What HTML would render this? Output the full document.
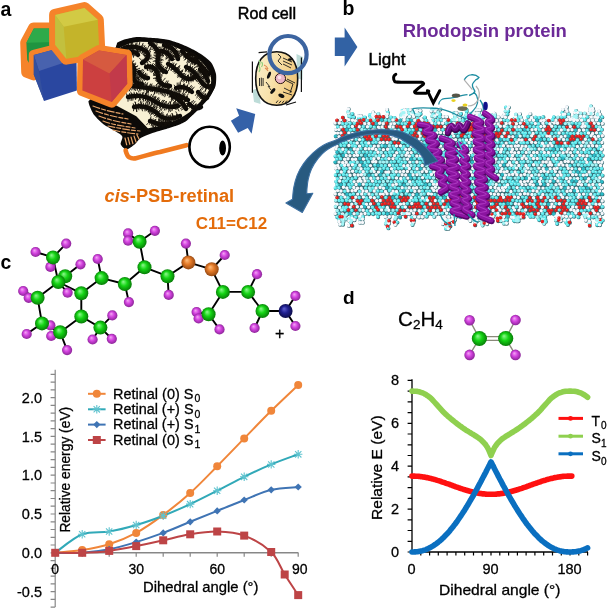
<!DOCTYPE html>
<html><head><meta charset="utf-8"><title>Retinal figure</title>
<style>html,body{margin:0;padding:0;background:#fff;width:609px;height:609px;overflow:hidden}svg{display:block} text{stroke:#000;stroke-width:.28px} text[fill],text.nb{stroke:none} text.hv{stroke-width:.5px}</style>
</head><body>
<svg width="609" height="609" viewBox="0 0 609 609" font-family="'Liberation Sans', Arial, sans-serif">
<defs><radialGradient id="gC" cx="0.5" cy="0.5" r="0.55" fx="0.38" fy="0.33"><stop offset="0" stop-color="#90f890"/><stop offset="0.45" stop-color="#14d414"/><stop offset="1" stop-color="#067006"/></radialGradient><radialGradient id="gH" cx="0.5" cy="0.5" r="0.55" fx="0.38" fy="0.33"><stop offset="0" stop-color="#f4a8f4"/><stop offset="0.45" stop-color="#d444e0"/><stop offset="1" stop-color="#82208e"/></radialGradient><radialGradient id="gO" cx="0.5" cy="0.5" r="0.55" fx="0.38" fy="0.33"><stop offset="0" stop-color="#ffc080"/><stop offset="0.45" stop-color="#e47a28"/><stop offset="1" stop-color="#8a4210"/></radialGradient><radialGradient id="gN" cx="0.5" cy="0.5" r="0.55" fx="0.38" fy="0.33"><stop offset="0" stop-color="#6060d0"/><stop offset="0.45" stop-color="#202090"/><stop offset="1" stop-color="#0a0a40"/></radialGradient></defs>
<rect width="609" height="609" fill="#fff"/>
<g id="brain"><path d="M117.2 42.6 C118.2 42.2 122.7 39.9 125.2 39.2 C127.7 38.5 134.4 37.0 137.9 36.9 C141.4 36.8 150.4 37.7 154.0 38.0 C157.6 38.3 164.5 39.1 167.8 39.8 C171.1 40.5 178.6 43.0 181.6 44.2 C184.6 45.4 190.4 48.1 193.0 49.5 C195.6 50.9 200.8 53.9 203.0 55.5 C205.2 57.1 209.9 60.8 211.5 63.0 C213.1 65.2 215.5 71.2 216.0 74.0 C216.5 76.8 216.2 83.5 215.5 86.0 C214.8 88.5 212.2 92.8 210.5 95.0 C208.8 97.2 203.9 101.8 201.7 104.2 C199.5 106.6 194.4 112.6 192.5 114.7 C190.6 116.8 187.9 120.0 186.0 121.3 C184.1 122.6 179.2 124.7 176.8 125.6 C174.4 126.5 168.7 128.3 166.3 129.0 C163.9 129.7 159.3 130.9 157.1 131.6 C154.9 132.3 150.0 134.0 147.9 134.8 C145.8 135.6 141.6 137.4 140.0 138.6 C138.4 139.8 136.2 143.3 134.6 144.6 C133.0 145.9 128.1 149.6 126.4 149.6 C124.7 149.6 121.2 145.8 120.7 144.2 C120.2 142.6 123.0 138.0 122.3 136.4 C121.6 134.8 117.2 132.6 114.9 131.1 C112.6 129.6 105.9 126.2 103.4 124.3 C100.9 122.4 95.9 117.3 94.2 115.1 C92.5 112.9 90.3 107.6 89.6 105.9 C88.9 104.2 88.5 101.9 88.4 101.3 L95 95 L110 70 Z" fill="#0c0a08"/>
<path d="M119 45.5 C126 42 132 40 138 39.8 C146 39.5 154 40.5 161 41.3 C168 42.5 175 44.5 180.5 47 C187 49.5 195 53 200.5 58 C205.5 62 210 68 212.8 75 C213.6 79 213.4 83 212.6 87 C210.5 92 209 95 207.6 96.5 C204.5 100.5 202.5 102.5 199 106 C196 109 193 112 190 114.5 C186.5 117 183.5 119 180 120.5 C176.5 122 173.5 123.5 168 125.5 C164 126.8 161 127.8 157 128.6 C153 129.6 150 130 147 130.5 L135 118 L112.7 106 L95 101 L100 80 Z" fill="#f8f0d4" stroke="#0c0a08" stroke-width="4.2"/>
<path d="M122 49 C130 45 140 47 146 51 C150 55 148 60 142 63 M150 43 C156 47 160 52 158 58 C156 64 160 70 166 72 M164 45 C172 47 177 52 178 59 M182 51 C186 56 190 60 196 62 M195 59 C200 64 204 70 209 74 M126 61 C132 63 136 68 134 74 C132 80 136 84 142 84 M146 67 C152 65 158 70 158 76 C158 82 162 86 170 86 M168 64 C174 66 178 72 182 76 C186 80 192 80 196 76 M186 67 C192 69 196 74 200 80 C204 86 208 88 211 86 M122 85 C136 86 150 88 160 90 C172 92 180 96 188 100 M198 92 C202 96 204 100 207 98 M128 97 C140 94 150 98 156 102 C162 106 170 108 178 106 M134 107 C146 104 154 110 160 116 C166 120 172 120 180 116 M189 104 C194 108 196 110 201 107 M176 88 C182 86 188 88 192 92 M139 72 C141 76 144 78 148 78 M200 69 C204 72 206 76 208 81 M120 70 C124 72 126 76 124 81 M172 96 C178 98 184 104 186 109 M150 121 C156 124 164 125 170 123 M160 51 C166 51 170 55 172 59 M186 56 C190 52 196 54 198 57 M128 53 C132 51 136 52 138 55" stroke="#0c0a08" stroke-width="4.4" fill="none" stroke-linecap="round"/>
<clipPath id="creamclip"><path d="M119 45.5 C126 42 132 40 138 39.8 C146 39.5 154 40.5 161 41.3 C168 42.5 175 44.5 180.5 47 C187 49.5 195 53 200.5 58 C205.5 62 210 68 212.8 75 C213.6 79 213.4 83 212.6 87 C210.5 92 209 95 207.6 96.5 C204.5 100.5 202.5 102.5 199 106 C196 109 193 112 190 114.5 C186.5 117 183.5 119 180 120.5 C176.5 122 173.5 123.5 168 125.5 C164 126.8 161 127.8 157 128.6 C153 129.6 150 130 147 130.5 L135 118 L112.7 106 L95 101 L100 80 Z"/></clipPath>
<path clip-path="url(#creamclip)" d="M122.0 49.0l1.5 2.9 M122.0 49.0l-2.2 -4.3 M123.2 48.4l1.5 2.4 M123.2 48.4l-2.3 -2.8 M124.5 48.0l1.4 4.3 M124.5 48.0l-1.2 -2.4 M125.7 47.6l1.7 3.6 M125.7 47.6l-1.2 -2.4 M127.0 47.3l-0.5 3.0 M127.0 47.3l-1.4 -3.4 M128.3 47.1l2.1 4.4 M128.3 47.1l-0.5 -4.4 M129.6 46.9l-1.1 5.0 M129.6 46.9l-1.4 -3.0 M130.9 46.8l-0.5 4.2 M130.9 46.8l0.3 -3.5 M132.2 46.8l1.2 4.0 M132.2 46.8l-1.3 -5.0 M133.5 46.9l-1.4 4.4 M133.5 46.9l-1.3 -5.1 M134.8 47.0l-1.5 4.5 M134.8 47.0l1.2 -3.8 M136.0 47.2l1.1 4.5 M136.0 47.2l1.1 -4.4 M137.3 47.4l0.0 3.4 M137.3 47.4l0.3 -2.3 M138.5 47.7l-1.7 4.6 M138.5 47.7l1.3 -5.5 M139.7 48.0l-2.0 3.2 M139.7 48.0l1.3 -2.3 M140.8 48.4l-2.5 3.4 M140.8 48.4l2.3 -5.1 M142.0 48.9l-2.3 4.5 M142.0 48.9l1.1 -3.7 M143.1 49.3l-1.3 4.2 M143.1 49.3l1.8 -3.7 M144.1 49.9l-1.9 3.3 M144.1 49.9l1.7 -2.7 M145.1 50.4l-1.6 2.4 M145.1 50.4l1.7 -2.8 M146.0 51.0l-3.0 3.4 M146.0 51.0l2.0 -2.9 M146.9 52.0l-2.5 1.7 M146.9 52.0l4.7 -2.9 M147.5 53.1l-3.9 1.4 M147.5 53.1l3.1 -1.7 M147.9 54.1l-3.2 1.5 M147.9 54.1l2.4 -1.1 M148.1 55.2l-3.3 1.0 M148.1 55.2l3.1 0.0 M148.0 56.3l-4.1 -1.3 M148.0 56.3l3.4 0.7 M147.8 57.4l-4.1 -2.2 M147.8 57.4l4.4 1.6 M147.3 58.4l-2.2 -1.4 M147.3 58.4l2.9 0.7 M146.6 59.4l-2.0 -1.2 M146.6 59.4l3.9 3.0 M145.7 60.4l-1.6 -1.5 M145.7 60.4l1.9 2.4 M144.7 61.3l-2.0 -2.1 M144.7 61.3l0.9 1.6 M143.4 62.2l-4.2 -4.3 M143.4 62.2l4.1 4.9 M150.0 43.0l-1.5 4.1 M150.0 43.0l2.7 -2.9 M151.2 43.8l-2.6 2.6 M151.2 43.8l1.2 -1.9 M152.3 44.7l-2.5 4.9 M152.3 44.7l1.8 -4.0 M153.3 45.5l-1.2 1.4 M153.3 45.5l1.8 -2.5 M154.3 46.4l-1.6 2.8 M154.3 46.4l2.8 -3.1 M155.2 47.3l-2.2 2.2 M155.2 47.3l2.1 -2.5 M156.0 48.3l-1.9 2.5 M156.0 48.3l2.9 -1.4 M156.7 49.3l-2.8 1.0 M156.7 49.3l3.0 -1.8 M157.3 50.3l-3.2 2.4 M157.3 50.3l2.5 -0.5 M157.8 51.3l-2.9 2.0 M157.8 51.3l5.0 -1.8 M158.1 52.3l-3.3 0.5 M158.1 52.3l4.0 -0.7 M158.4 53.4l-3.0 -0.4 M158.4 53.4l3.8 -0.3 M158.5 54.5l-2.7 -0.2 M158.5 54.5l4.0 0.2 M158.5 55.7l-4.7 -0.6 M158.5 55.7l3.4 -0.3 M158.3 56.8l-3.6 -0.8 M158.3 56.8l3.0 0.2 M158.0 58.0l-2.4 -1.0 M158.0 58.0l5.2 2.0 M157.7 59.3l-5.0 -1.9 M157.7 59.3l3.4 -0.2 M157.5 60.6l-4.3 0.7 M157.5 60.6l4.3 0.0 M157.5 61.8l-2.7 -0.9 M157.5 61.8l2.8 0.8 M157.7 63.0l-2.8 1.3 M157.7 63.0l3.1 -1.3 M158.0 64.2l-2.4 1.2 M158.0 64.2l4.0 -1.7 M158.4 65.4l-4.9 2.8 M158.4 65.4l3.2 -0.5 M159.0 66.5l-3.1 1.0 M159.0 66.5l2.7 -2.4 M159.7 67.5l-2.9 1.4 M159.7 67.5l2.8 -2.2 M160.5 68.5l-2.7 2.0 M160.5 68.5l3.4 -2.4 M161.4 69.4l-3.6 4.5 M161.4 69.4l1.5 -2.5 M162.5 70.2l-2.4 3.5 M162.5 70.2l1.3 -2.7 M163.6 70.9l-0.9 2.8 M163.6 70.9l2.1 -3.7 M164.7 71.5l-1.7 2.4 M164.7 71.5l2.2 -3.3 M164.0 45.0l0.5 4.0 M164.0 45.0l1.4 -4.5 M165.4 45.4l-1.9 3.6 M165.4 45.4l0.8 -2.3 M166.7 45.8l-1.3 2.6 M166.7 45.8l2.8 -4.9 M167.9 46.3l-1.2 3.4 M167.9 46.3l0.8 -4.4 M169.1 46.9l-1.1 3.8 M169.1 46.9l1.0 -3.7 M170.3 47.5l-2.6 2.8 M170.3 47.5l1.7 -4.6 M171.3 48.2l-3.5 3.3 M171.3 48.2l2.4 -2.9 M172.3 48.9l-1.8 3.2 M172.3 48.9l3.6 -3.6 M173.2 49.7l-4.1 2.3 M173.2 49.7l3.8 -3.1 M174.0 50.6l-2.6 1.6 M174.0 50.6l2.6 -2.2 M174.8 51.4l-2.2 2.7 M174.8 51.4l2.7 -1.3 M175.5 52.4l-2.4 1.0 M175.5 52.4l3.1 -1.4 M176.1 53.4l-4.6 3.4 M176.1 53.4l4.3 -2.8 M176.6 54.4l-3.4 1.1 M176.6 54.4l3.4 -2.5 M177.1 55.5l-4.1 1.4 M177.1 55.5l3.0 -1.7 M177.5 56.6l-4.1 1.6 M177.5 56.6l4.3 -2.4 M177.8 57.8l-4.4 2.3 M177.8 57.8l2.8 -1.1 M182.0 51.0l-3.1 2.9 M182.0 51.0l3.2 -1.6 M182.8 52.0l-1.7 2.1 M182.8 52.0l2.5 -2.2 M183.6 52.9l-2.6 2.8 M183.6 52.9l1.9 -1.3 M184.4 53.9l-3.7 2.6 M184.4 53.9l2.6 -2.9 M185.2 54.8l-1.8 1.6 M185.2 54.8l3.0 -1.5 M186.1 55.6l-2.7 2.4 M186.1 55.6l2.2 -2.5 M186.9 56.5l-2.5 3.7 M186.9 56.5l2.1 -1.6 M187.8 57.2l-2.4 2.3 M187.8 57.2l1.5 -1.6 M188.7 58.0l-1.8 4.7 M188.7 58.0l2.1 -2.9 M189.6 58.7l-1.2 3.7 M189.6 58.7l1.2 -2.6 M190.6 59.4l-1.6 2.5 M190.6 59.4l2.0 -3.8 M191.6 60.0l-2.1 2.8 M191.6 60.0l3.2 -3.3 M192.6 60.6l-2.1 3.8 M192.6 60.6l0.9 -3.8 M193.7 61.1l-1.5 3.5 M193.7 61.1l2.1 -2.6 M194.8 61.6l-0.2 3.4 M194.8 61.6l1.1 -4.0 M195.0 59.0l-3.1 4.6 M195.0 59.0l2.5 -2.7 M195.9 59.9l-2.3 4.2 M195.9 59.9l2.1 -2.5 M196.7 60.8l-2.7 1.2 M196.7 60.8l2.7 -2.0 M197.6 61.7l-3.2 2.7 M197.6 61.7l3.6 -2.7 M198.4 62.7l-3.6 2.1 M198.4 62.7l3.1 -2.8 M199.2 63.6l-2.6 2.4 M199.2 63.6l3.1 -1.4 M200.0 64.5l-4.3 2.9 M200.0 64.5l2.7 -1.3 M200.8 65.5l-3.3 1.3 M200.8 65.5l2.5 -1.7 M201.6 66.4l-2.6 1.6 M201.6 66.4l2.3 -1.3 M202.4 67.3l-2.9 1.3 M202.4 67.3l4.6 -2.1 M203.2 68.3l-3.5 2.7 M203.2 68.3l3.2 -1.3 M204.0 69.1l-3.8 3.7 M204.0 69.1l1.9 -2.0 M204.8 70.0l-2.7 2.7 M204.8 70.0l3.4 -1.8 M205.6 70.9l-2.0 3.2 M205.6 70.9l2.4 -1.1 M206.4 71.7l-2.8 1.3 M206.4 71.7l2.0 -2.3 M207.3 72.5l-3.5 4.6 M207.3 72.5l2.1 -2.4 M208.1 73.3l-1.9 3.2 M208.1 73.3l2.1 -2.5 M126.0 61.0l-1.1 2.5 M126.0 61.0l-0.0 -3.7 M127.3 61.5l-1.0 4.6 M127.3 61.5l0.3 -3.5 M128.4 62.0l-2.3 3.5 M128.4 62.0l2.4 -2.9 M129.5 62.7l-2.1 4.1 M129.5 62.7l1.9 -2.4 M130.6 63.4l-4.0 3.4 M130.6 63.4l2.3 -2.7 M131.5 64.2l-1.5 2.5 M131.5 64.2l2.3 -3.4 M132.3 65.1l-3.2 2.7 M132.3 65.1l3.4 -2.0 M133.0 66.0l-5.1 3.0 M133.0 66.0l2.8 -1.8 M133.6 67.0l-3.2 0.6 M133.6 67.0l3.6 -0.4 M134.0 68.0l-2.5 0.4 M134.0 68.0l3.8 -2.2 M134.3 69.1l-3.8 1.0 M134.3 69.1l3.0 0.4 M134.5 70.3l-4.8 -1.5 M134.5 70.3l5.2 -2.0 M134.5 71.5l-2.6 -0.8 M134.5 71.5l4.7 -0.2 M134.3 72.7l-4.7 -1.4 M134.3 72.7l4.0 2.0 M134.0 74.0l-4.6 -0.4 M134.0 74.0l2.9 1.0 M133.6 75.5l-4.1 -1.3 M133.6 75.5l3.5 0.5 M133.5 76.8l-4.5 0.4 M133.5 76.8l4.1 0.6 M133.6 78.1l-5.2 0.5 M133.6 78.1l2.7 0.3 M133.9 79.3l-4.4 3.1 M133.9 79.3l4.7 -3.4 M134.3 80.3l-3.5 3.2 M134.3 80.3l3.4 -2.4 M135.0 81.2l-3.7 4.4 M135.0 81.2l4.3 -4.6 M135.8 82.1l-2.6 2.6 M135.8 82.1l2.0 -2.7 M136.8 82.7l-0.8 1.9 M136.8 82.7l2.2 -3.5 M137.9 83.3l-2.4 3.7 M137.9 83.3l1.4 -2.6 M139.2 83.7l-0.1 2.9 M139.2 83.7l-0.7 -5.4 M140.5 83.9l-1.3 3.4 M140.5 83.9l0.3 -3.7 M146.0 67.0l2.0 3.4 M146.0 67.0l-2.3 -3.2 M147.3 66.7l-0.1 3.1 M147.3 66.7l0.3 -2.4 M148.6 66.6l-1.0 3.9 M148.6 66.6l-0.7 -3.0 M149.8 66.6l0.5 5.3 M149.8 66.6l0.9 -2.4 M151.0 66.9l-1.4 3.1 M151.0 66.9l2.3 -3.6 M152.2 67.3l-0.5 2.8 M152.2 67.3l2.3 -2.8 M153.2 67.8l-1.6 4.3 M153.2 67.8l3.2 -3.3 M154.2 68.5l-2.0 3.6 M154.2 68.5l2.7 -3.2 M155.2 69.3l-2.8 2.3 M155.2 69.3l2.3 -3.4 M156.0 70.2l-2.5 3.5 M156.0 70.2l3.4 -2.6 M156.7 71.2l-2.8 1.8 M156.7 71.2l4.4 -2.3 M157.2 72.3l-3.2 2.1 M157.2 72.3l2.8 -0.5 M157.7 73.5l-3.1 0.7 M157.7 73.5l4.3 -2.9 M157.9 74.7l-4.3 0.8 M157.9 74.7l3.9 0.1 M158.0 76.0l-4.4 -1.4 M158.0 76.0l4.3 -0.1 M158.1 77.3l-4.7 1.1 M158.1 77.3l2.8 0.5 M158.2 78.4l-3.2 0.2 M158.2 78.4l2.9 -1.8 M158.6 79.6l-3.2 0.5 M158.6 79.6l2.8 -1.9 M159.0 80.6l-2.6 0.6 M159.0 80.6l2.3 -1.6 M159.5 81.6l-3.7 3.6 M159.5 81.6l2.2 -2.1 M160.2 82.5l-2.3 1.7 M160.2 82.5l2.3 -1.2 M161.0 83.2l-1.2 1.7 M161.0 83.2l4.2 -5.0 M161.9 84.0l-2.0 2.9 M161.9 84.0l1.0 -1.8 M163.0 84.6l-0.6 3.0 M163.0 84.6l0.3 -2.3 M164.1 85.1l-2.2 3.1 M164.1 85.1l2.6 -4.3 M165.4 85.5l-1.5 2.6 M165.4 85.5l2.9 -4.5 M166.8 85.8l1.2 5.3 M166.8 85.8l0.8 -3.2 M168.3 85.9l0.3 3.7 M168.3 85.9l0.5 -2.5 M168.0 64.0l-1.2 4.3 M168.0 64.0l1.4 -3.7 M169.2 64.5l-2.9 4.5 M169.2 64.5l0.7 -4.1 M170.3 65.0l-1.2 3.8 M170.3 65.0l2.1 -2.2 M171.4 65.6l-3.1 5.2 M171.4 65.6l2.4 -2.7 M172.4 66.3l-1.3 4.1 M172.4 66.3l1.6 -2.4 M173.4 67.1l-2.6 2.3 M173.4 67.1l3.0 -3.2 M174.4 67.9l-2.7 2.3 M174.4 67.9l1.6 -4.0 M175.3 68.8l-2.4 2.9 M175.3 68.8l4.3 -2.6 M176.2 69.7l-2.2 2.3 M176.2 69.7l3.5 -4.1 M177.1 70.6l-2.7 2.6 M177.1 70.6l2.3 -3.4 M177.9 71.6l-2.5 1.5 M177.9 71.6l2.0 -3.0 M178.8 72.5l-1.4 1.5 M178.8 72.5l4.2 -2.6 M179.6 73.4l-2.1 2.5 M179.6 73.4l3.1 -2.8 M180.4 74.3l-2.4 2.0 M180.4 74.3l2.3 -3.1 M181.2 75.2l-3.7 2.1 M181.2 75.2l2.3 -1.6 M182.0 76.0l-2.1 1.5 M182.0 76.0l1.7 -2.3 M183.0 76.9l-1.8 3.7 M183.0 76.9l1.7 -3.6 M184.0 77.6l-3.4 4.4 M184.0 77.6l1.9 -3.5 M185.0 78.1l-2.1 3.3 M185.0 78.1l2.9 -3.1 M186.1 78.6l-2.3 3.5 M186.1 78.6l1.4 -2.7 M187.3 78.8l-0.9 3.8 M187.3 78.8l1.0 -3.9 M188.4 79.0l0.5 5.0 M188.4 79.0l-0.5 -3.7 M189.6 79.0l-0.9 2.6 M189.6 79.0l-1.3 -3.5 M190.7 78.8l0.4 3.2 M190.7 78.8l0.2 -4.9 M191.9 78.6l1.1 2.8 M191.9 78.6l-1.6 -4.7 M193.0 78.1l0.6 2.4 M193.0 78.1l-2.1 -4.7 M194.0 77.6l3.3 4.3 M194.0 77.6l-1.1 -2.0 M195.0 76.9l1.8 2.0 M195.0 76.9l-2.7 -2.0 M186.0 67.0l-0.7 4.2 M186.0 67.0l0.9 -2.3 M187.1 67.4l-0.3 2.5 M187.1 67.4l0.3 -3.8 M188.2 67.9l-2.6 3.9 M188.2 67.9l2.3 -2.6 M189.2 68.4l-0.9 3.5 M189.2 68.4l1.4 -2.1 M190.2 69.0l-2.1 2.1 M190.2 69.0l2.9 -2.9 M191.1 69.7l-1.9 2.5 M191.1 69.7l1.4 -2.1 M192.0 70.4l-2.4 2.6 M192.0 70.4l3.2 -3.6 M192.9 71.2l-2.4 2.9 M192.9 71.2l1.3 -2.4 M193.8 72.0l-2.5 2.2 M193.8 72.0l3.0 -2.7 M194.6 72.9l-2.2 2.8 M194.6 72.9l3.9 -2.5 M195.4 73.8l-3.7 3.5 M195.4 73.8l3.9 -2.7 M196.2 74.7l-3.8 3.1 M196.2 74.7l3.9 -3.0 M197.0 75.7l-2.6 1.7 M197.0 75.7l1.8 -1.7 M197.7 76.7l-2.0 2.7 M197.7 76.7l2.3 -3.2 M198.5 77.8l-4.1 1.2 M198.5 77.8l3.0 -2.1 M199.2 78.9l-3.0 1.5 M199.2 78.9l3.5 -2.1 M200.0 80.0l-2.2 1.2 M200.0 80.0l4.3 -2.1 M201.1 81.5l-2.5 1.9 M201.1 81.5l2.7 -1.6 M202.2 82.9l-2.2 1.4 M202.2 82.9l2.0 -2.4 M203.3 84.0l-3.3 3.2 M203.3 84.0l2.1 -1.6 M204.3 85.0l-4.3 5.1 M204.3 85.0l2.5 -2.5 M205.4 85.7l-3.8 4.5 M205.4 85.7l2.8 -2.8 M206.4 86.2l-1.0 5.1 M206.4 86.2l3.4 -4.8 M207.4 86.6l-2.1 4.3 M207.4 86.6l1.9 -5.2 M208.3 86.7l0.2 2.8 M208.3 86.7l0.6 -3.9 M209.3 86.7l0.7 4.3 M209.3 86.7l-1.4 -3.7 M210.2 86.4l1.7 3.8 M210.2 86.4l-0.3 -2.2 M122.0 85.0l0.4 3.0 M122.0 85.0l-1.0 -5.1 M123.4 85.1l-1.5 3.4 M123.4 85.1l-1.2 -4.4 M124.7 85.2l0.9 2.9 M124.7 85.2l-0.4 -3.7 M126.1 85.3l0.2 3.9 M126.1 85.3l1.1 -2.9 M127.4 85.4l-1.8 4.7 M127.4 85.4l-0.4 -2.6 M128.8 85.6l1.1 3.7 M128.8 85.6l-0.2 -3.0 M130.1 85.7l0.2 3.1 M130.1 85.7l0.2 -2.4 M131.4 85.8l-2.1 5.2 M131.4 85.8l-0.5 -3.5 M132.8 86.0l-1.0 4.1 M132.8 86.0l-0.5 -3.6 M134.1 86.1l-0.5 2.9 M134.1 86.1l0.2 -3.3 M135.4 86.2l-1.1 3.9 M135.4 86.2l0.6 -2.4 M136.7 86.4l-1.2 4.1 M136.7 86.4l-0.1 -4.1 M138.0 86.6l-0.7 3.8 M138.0 86.6l-0.3 -2.6 M139.3 86.7l0.6 2.7 M139.3 86.7l0.7 -4.0 M140.6 86.9l-2.0 5.1 M140.6 86.9l2.2 -5.2 M141.9 87.0l-1.2 3.9 M141.9 87.0l1.8 -3.5 M143.1 87.2l0.1 2.5 M143.1 87.2l2.4 -5.0 M144.4 87.4l-0.5 3.1 M144.4 87.4l1.4 -3.3 M145.6 87.6l0.6 2.5 M145.6 87.6l2.0 -4.8 M146.8 87.7l-0.5 4.6 M146.8 87.7l0.2 -3.6 M148.0 87.9l-0.6 4.5 M148.0 87.9l1.2 -2.4 M149.2 88.1l-1.1 5.1 M149.2 88.1l1.0 -3.9 M150.4 88.3l-2.2 3.9 M150.4 88.3l1.6 -4.4 M151.5 88.5l-0.9 3.1 M151.5 88.5l-0.9 -4.4 M152.7 88.7l-0.9 2.8 M152.7 88.7l0.3 -3.1 M153.8 88.8l-1.3 2.9 M153.8 88.8l0.5 -2.8 M154.9 89.0l-0.6 4.7 M154.9 89.0l1.9 -3.7 M155.9 89.2l-1.3 4.6 M155.9 89.2l1.3 -3.0 M157.0 89.4l-0.3 3.0 M157.0 89.4l2.2 -4.5 M158.0 89.6l-1.1 3.7 M158.0 89.6l1.5 -3.5 M159.0 89.8l-0.1 4.4 M159.0 89.8l-0.3 -3.0 M160.0 90.0l0.9 4.1 M160.0 90.0l-0.7 -4.3 M161.5 90.3l0.7 3.9 M161.5 90.3l-0.7 -4.7 M162.9 90.5l-1.2 2.9 M162.9 90.5l1.2 -3.5 M164.3 90.8l-2.0 4.5 M164.3 90.8l1.8 -4.8 M165.7 91.2l-2.1 4.6 M165.7 91.2l2.1 -4.5 M167.0 91.5l-2.3 5.3 M167.0 91.5l1.4 -3.0 M168.3 91.8l-0.9 3.7 M168.3 91.8l1.6 -4.0 M169.6 92.2l-0.5 5.2 M169.6 92.2l1.2 -2.3 M170.8 92.6l0.2 3.0 M170.8 92.6l1.3 -4.3 M172.0 93.0l-2.4 3.8 M172.0 93.0l1.5 -3.3 M173.2 93.4l-0.0 2.6 M173.2 93.4l2.7 -4.5 M174.4 93.8l-1.6 3.4 M174.4 93.8l2.2 -3.4 M175.5 94.2l-2.9 4.2 M175.5 94.2l2.0 -3.0 M176.6 94.7l-1.4 2.6 M176.6 94.7l1.8 -3.1 M177.7 95.1l-0.7 3.4 M177.7 95.1l1.8 -3.7 M178.8 95.6l-0.4 2.6 M178.8 95.6l1.3 -3.6 M179.9 96.1l-1.8 3.0 M179.9 96.1l0.9 -2.2 M180.9 96.5l-1.7 3.4 M180.9 96.5l2.8 -4.7 M181.9 97.0l-0.4 2.2 M181.9 97.0l2.8 -3.5 M183.0 97.5l-0.7 4.0 M183.0 97.5l0.4 -3.6 M184.0 98.0l-2.5 3.4 M184.0 98.0l1.0 -3.7 M185.0 98.5l-1.6 5.4 M185.0 98.5l2.9 -4.1 M186.0 99.0l-2.0 2.7 M186.0 99.0l1.0 -2.3 M187.0 99.5l-0.9 2.2 M187.0 99.5l0.5 -3.0 M198.0 92.0l-2.5 3.4 M198.0 92.0l2.7 -2.0 M199.3 93.3l-2.1 2.8 M199.3 93.3l2.1 -1.4 M200.4 94.6l-3.7 3.2 M200.4 94.6l4.0 -3.4 M201.4 95.8l-2.6 2.5 M201.4 95.8l2.8 -2.8 M202.4 96.8l-2.8 2.6 M202.4 96.8l3.5 -2.7 M203.3 97.6l-2.0 3.1 M203.3 97.6l0.9 -2.3 M204.2 98.2l-2.1 4.3 M204.2 98.2l2.3 -2.7 M205.1 98.5l-0.2 3.3 M205.1 98.5l0.1 -5.0 M206.0 98.5l1.4 4.0 M206.0 98.5l-1.0 -3.7 M128.0 97.0l0.0 4.3 M128.0 97.0l-1.7 -3.4 M129.5 96.7l0.6 3.6 M129.5 96.7l-0.0 -3.1 M131.0 96.4l0.9 4.2 M131.0 96.4l0.2 -2.7 M132.4 96.2l0.6 3.7 M132.4 96.2l-1.6 -4.1 M133.8 96.1l0.1 2.4 M133.8 96.1l-0.8 -2.5 M135.2 96.0l0.4 3.2 M135.2 96.0l-1.2 -3.8 M136.6 96.0l-1.2 3.4 M136.6 96.0l-0.1 -3.4 M137.9 96.0l-1.0 2.4 M137.9 96.0l-0.6 -2.7 M139.3 96.1l0.3 3.1 M139.3 96.1l-0.3 -2.5 M140.6 96.2l-2.1 5.0 M140.6 96.2l-0.5 -3.2 M141.8 96.4l-1.8 3.9 M141.8 96.4l2.2 -4.5 M143.0 96.6l0.7 4.8 M143.0 96.6l-0.7 -3.9 M144.2 96.9l-1.7 3.0 M144.2 96.9l2.5 -4.7 M145.4 97.2l0.1 3.6 M145.4 97.2l-0.0 -3.8 M146.6 97.5l-1.2 2.9 M146.6 97.5l0.0 -4.3 M147.7 97.9l-0.9 4.5 M147.7 97.9l0.5 -3.9 M148.7 98.3l-1.6 3.3 M148.7 98.3l0.2 -2.4 M149.8 98.7l-1.7 3.5 M149.8 98.7l1.6 -4.3 M150.8 99.1l-1.7 5.0 M150.8 99.1l3.2 -5.0 M151.7 99.6l-0.4 4.7 M151.7 99.6l2.3 -3.3 M152.7 100.0l-0.8 2.7 M152.7 100.0l2.7 -3.8 M153.6 100.5l-1.8 4.1 M153.6 100.5l2.1 -3.7 M154.4 101.0l-2.5 4.1 M154.4 101.0l1.6 -3.8 M155.2 101.5l-1.1 2.9 M155.2 101.5l3.1 -4.0 M156.0 102.0l-2.5 3.4 M156.0 102.0l1.7 -3.5 M157.0 102.6l-4.1 4.6 M157.0 102.6l2.1 -4.5 M158.0 103.2l-3.9 4.7 M158.0 103.2l1.8 -3.3 M159.0 103.7l-3.0 3.7 M159.0 103.7l0.4 -3.1 M160.0 104.2l-0.8 3.2 M160.0 104.2l2.6 -4.0 M161.1 104.7l-0.8 3.6 M161.1 104.7l3.5 -4.4 M162.2 105.1l-2.5 3.5 M162.2 105.1l1.2 -4.4 M163.3 105.5l-1.9 4.9 M163.3 105.5l2.2 -3.8 M164.5 105.8l-1.2 2.7 M164.5 105.8l0.6 -2.8 M165.7 106.1l-1.4 4.1 M165.7 106.1l0.7 -4.7 M166.8 106.4l-0.8 3.5 M166.8 106.4l2.9 -4.8 M168.0 106.5l0.3 2.9 M168.0 106.5l-0.2 -2.7 M169.3 106.7l-0.6 5.3 M169.3 106.7l1.5 -4.8 M170.5 106.8l-0.9 3.5 M170.5 106.8l-0.0 -4.3 M171.7 106.8l-1.1 4.7 M171.7 106.8l0.3 -2.6 M173.0 106.7l-0.9 3.8 M173.0 106.7l0.5 -4.1 M174.2 106.7l1.0 2.5 M174.2 106.7l0.1 -4.8 M175.5 106.5l0.7 3.0 M175.5 106.5l-1.0 -2.6 M176.7 106.3l2.2 4.7 M176.7 106.3l-1.7 -4.7 M134.0 107.0l-0.5 3.8 M134.0 107.0l-0.7 -3.2 M135.5 106.7l1.3 4.8 M135.5 106.7l0.1 -4.5 M136.9 106.4l-0.2 5.2 M136.9 106.4l-2.1 -4.4 M138.3 106.3l0.6 3.6 M138.3 106.3l-0.0 -3.0 M139.7 106.2l1.0 2.7 M139.7 106.2l1.0 -5.1 M141.0 106.2l1.5 4.7 M141.0 106.2l0.9 -4.4 M142.3 106.3l0.6 2.7 M142.3 106.3l-0.7 -2.5 M143.5 106.4l-0.9 2.4 M143.5 106.4l-0.1 -3.3 M144.7 106.7l0.3 4.3 M144.7 106.7l1.3 -4.1 M145.9 106.9l-0.6 2.6 M145.9 106.9l1.8 -4.4 M147.1 107.3l-0.8 3.4 M147.1 107.3l0.5 -2.7 M148.2 107.7l-0.0 3.9 M148.2 107.7l1.4 -5.4 M149.2 108.1l-0.8 3.8 M149.2 108.1l1.2 -2.8 M150.3 108.6l-1.2 3.9 M150.3 108.6l1.0 -3.6 M151.3 109.2l-1.7 4.6 M151.3 109.2l1.7 -2.5 M152.3 109.7l-1.3 3.1 M152.3 109.7l2.0 -3.1 M153.3 110.3l-2.7 5.0 M153.3 110.3l1.3 -2.9 M154.2 111.0l-1.5 2.8 M154.2 111.0l2.6 -3.6 M155.1 111.6l-3.2 2.5 M155.1 111.6l2.2 -4.6 M156.0 112.3l-2.5 2.0 M156.0 112.3l1.9 -2.6 M156.8 113.0l-2.7 2.9 M156.8 113.0l4.2 -3.7 M157.7 113.8l-2.8 2.1 M157.7 113.8l2.3 -2.6 M158.5 114.5l-2.6 2.7 M158.5 114.5l1.0 -1.6 M159.2 115.3l-2.4 2.2 M159.2 115.3l2.2 -2.4 M160.0 116.0l-1.5 3.5 M160.0 116.0l2.2 -4.1 M161.1 116.7l-1.3 3.0 M161.1 116.7l2.1 -3.9 M162.1 117.2l-0.9 3.2 M162.1 117.2l1.6 -2.7 M163.2 117.7l-0.4 2.5 M163.2 117.7l0.8 -2.0 M164.3 118.2l-2.3 5.0 M164.3 118.2l3.0 -4.5 M165.3 118.5l-0.2 2.5 M165.3 118.5l1.4 -2.7 M166.4 118.7l-1.0 3.0 M166.4 118.7l1.0 -4.1 M167.6 118.9l-0.4 3.4 M167.6 118.9l1.1 -3.2 M168.7 119.0l0.9 3.3 M168.7 119.0l0.6 -3.4 M169.8 119.0l-0.0 4.9 M169.8 119.0l0.5 -2.9 M171.0 118.9l0.4 2.7 M171.0 118.9l-0.4 -3.9 M172.2 118.7l1.2 2.7 M172.2 118.7l0.1 -3.7 M173.4 118.5l-0.1 2.8 M173.4 118.5l-1.3 -4.9 M174.7 118.2l0.1 5.1 M174.7 118.2l-2.6 -4.7 M175.9 117.7l1.6 2.5 M175.9 117.7l-1.3 -2.0 M177.3 117.2l0.9 2.0 M177.3 117.2l-0.8 -2.8 M178.6 116.7l2.8 2.9 M178.6 116.7l-2.7 -4.9 M189.0 104.0l-2.5 3.3 M189.0 104.0l3.0 -2.5 M190.3 105.0l-3.5 2.9 M190.3 105.0l3.2 -4.5 M191.5 106.0l-2.8 2.4 M191.5 106.0l3.6 -4.7 M192.5 106.8l-1.0 2.2 M192.5 106.8l3.0 -2.4 M193.6 107.4l-2.3 3.4 M193.6 107.4l1.9 -2.4 M194.5 107.9l-3.5 4.4 M194.5 107.9l1.7 -4.0 M195.5 108.3l-2.9 4.6 M195.5 108.3l0.7 -2.5 M196.4 108.4l-0.8 3.2 M196.4 108.4l1.2 -2.6 M197.5 108.4l0.4 2.7 M197.5 108.4l-1.7 -4.1 M198.5 108.2l1.2 2.9 M198.5 108.2l-0.3 -2.5 M199.7 107.7l1.0 3.2 M199.7 107.7l-2.2 -3.0 M176.0 88.0l-0.0 3.2 M176.0 88.0l-1.8 -2.9 M177.3 87.6l2.2 3.2 M177.3 87.6l-0.1 -4.6 M178.6 87.4l-0.2 3.8 M178.6 87.4l0.2 -2.9 M179.8 87.2l0.1 4.1 M179.8 87.2l-0.9 -4.2 M181.1 87.2l-0.2 4.7 M181.1 87.2l-0.9 -5.1 M182.3 87.3l-0.4 2.4 M182.3 87.3l1.5 -3.5 M183.6 87.5l0.1 3.1 M183.6 87.5l-0.2 -3.1 M184.8 87.8l-1.1 2.3 M184.8 87.8l-0.2 -3.8 M185.9 88.1l-2.5 3.7 M185.9 88.1l1.3 -2.9 M187.0 88.6l-1.0 2.2 M187.0 88.6l0.7 -3.7 M188.1 89.1l-2.6 3.5 M188.1 89.1l3.3 -3.7 M189.2 89.7l-2.9 2.8 M189.2 89.7l3.0 -3.3 M190.2 90.4l-1.9 2.4 M190.2 90.4l2.4 -2.2 M191.1 91.2l-2.3 2.1 M191.1 91.2l3.1 -4.1 M139.0 72.0l-5.2 3.0 M139.0 72.0l3.5 -2.4 M139.7 73.3l-3.6 3.1 M139.7 73.3l4.2 -3.3 M140.5 74.4l-2.6 3.6 M140.5 74.4l3.0 -2.1 M141.3 75.3l-3.2 3.7 M141.3 75.3l2.9 -3.5 M142.3 76.1l-3.5 4.1 M142.3 76.1l1.0 -2.4 M143.3 76.8l-2.3 2.9 M143.3 76.8l1.3 -2.6 M144.3 77.3l-2.1 4.4 M144.3 77.3l1.3 -4.1 M145.5 77.7l-0.9 2.8 M145.5 77.7l-0.0 -2.8 M146.7 77.9l0.4 2.6 M146.7 77.9l0.2 -3.9 M200.0 69.0l-1.4 1.8 M200.0 69.0l3.4 -4.1 M201.0 69.8l-1.6 2.3 M201.0 69.8l3.1 -3.8 M201.8 70.6l-4.0 3.9 M201.8 70.6l4.3 -2.7 M202.7 71.4l-2.5 2.2 M202.7 71.4l2.4 -2.4 M203.4 72.3l-4.1 3.7 M203.4 72.3l3.1 -1.5 M204.1 73.3l-3.1 1.8 M204.1 73.3l2.5 -1.0 M204.8 74.2l-3.9 4.1 M204.8 74.2l4.5 -2.0 M205.4 75.3l-3.7 4.2 M205.4 75.3l3.7 -3.2 M205.9 76.3l-4.5 0.6 M205.9 76.3l3.5 -1.0 M206.5 77.4l-4.0 1.0 M206.5 77.4l2.5 -1.2 M207.0 78.6l-3.1 0.4 M207.0 78.6l3.3 -2.2 M207.5 79.8l-3.6 2.6 M207.5 79.8l1.9 -0.6 M120.0 70.0l-2.1 4.1 M120.0 70.0l2.0 -2.6 M121.1 70.7l-2.6 3.0 M121.1 70.7l1.7 -2.6 M122.1 71.4l-1.9 3.3 M122.1 71.4l3.6 -4.4 M123.0 72.3l-3.8 1.8 M123.0 72.3l1.7 -2.3 M123.7 73.3l-3.8 2.4 M123.7 73.3l2.2 -2.3 M124.2 74.4l-2.7 1.9 M124.2 74.4l4.1 -0.7 M124.6 75.5l-4.0 2.3 M124.6 75.5l3.3 -1.6 M124.8 76.8l-3.4 -0.1 M124.8 76.8l3.0 -0.7 M124.7 78.1l-4.3 -2.0 M124.7 78.1l3.2 -0.3 M124.5 79.5l-2.9 -0.6 M124.5 79.5l3.5 1.0 M172.0 96.0l-0.7 3.5 M172.0 96.0l-0.1 -3.0 M173.1 96.4l-1.5 3.8 M173.1 96.4l2.3 -3.0 M174.2 96.9l-3.6 5.3 M174.2 96.9l0.3 -3.4 M175.3 97.5l-2.2 3.2 M175.3 97.5l1.4 -4.6 M176.4 98.2l-1.4 3.8 M176.4 98.2l3.2 -4.7 M177.5 98.9l-2.7 3.0 M177.5 98.9l1.4 -2.3 M178.5 99.7l-2.6 4.4 M178.5 99.7l1.7 -2.5 M179.5 100.5l-2.0 3.1 M179.5 100.5l1.4 -2.1 M180.5 101.4l-2.3 2.2 M180.5 101.4l1.9 -3.0 M181.4 102.3l-4.6 3.7 M181.4 102.3l2.8 -4.2 M182.3 103.2l-3.2 4.1 M182.3 103.2l3.8 -2.1 M183.1 104.2l-4.3 3.0 M183.1 104.2l3.3 -3.9 M183.8 105.1l-3.0 1.2 M183.8 105.1l2.9 -1.8 M184.5 106.1l-4.0 2.5 M184.5 106.1l2.4 -0.6 M185.1 107.1l-3.8 3.0 M185.1 107.1l2.5 -1.5 M185.6 108.1l-2.6 0.9 M185.6 108.1l3.3 -3.0 M150.0 121.0l-3.4 3.8 M150.0 121.0l1.0 -4.3 M151.1 121.5l-1.6 2.8 M151.1 121.5l0.3 -2.4 M152.2 122.0l-1.0 3.7 M152.2 122.0l1.0 -3.3 M153.3 122.4l-0.9 4.1 M153.3 122.4l1.8 -3.0 M154.5 122.8l-1.2 4.3 M154.5 122.8l0.8 -2.8 M155.7 123.1l-0.8 2.8 M155.7 123.1l0.1 -3.7 M156.9 123.4l-2.2 4.9 M156.9 123.4l2.7 -4.6 M158.1 123.6l0.5 2.5 M158.1 123.6l1.7 -3.7 M159.4 123.8l0.1 5.4 M159.4 123.8l1.1 -3.8 M160.6 123.9l-1.2 3.2 M160.6 123.9l1.1 -2.6 M161.9 124.0l1.0 4.7 M161.9 124.0l0.0 -3.7 M163.1 124.0l0.0 3.2 M163.1 124.0l0.6 -4.8 M164.3 124.0l1.2 3.6 M164.3 124.0l1.0 -4.2 M165.5 123.9l-0.9 4.1 M165.5 123.9l-0.0 -3.9 M166.7 123.8l-0.1 4.6 M166.7 123.8l-1.0 -4.4 M167.8 123.6l1.5 3.8 M167.8 123.6l-1.0 -3.0 M168.9 123.3l2.1 3.7 M168.9 123.3l-1.2 -3.7 M160.0 51.0l0.4 2.9 M160.0 51.0l0.2 -3.9 M161.5 51.1l1.3 4.7 M161.5 51.1l0.7 -4.9 M162.8 51.3l0.1 2.3 M162.8 51.3l1.2 -2.9 M164.1 51.7l-1.6 3.1 M164.1 51.7l0.5 -3.6 M165.3 52.2l-2.6 4.8 M165.3 52.2l1.2 -3.9 M166.5 52.8l-1.0 2.7 M166.5 52.8l1.4 -2.3 M167.5 53.5l-1.6 4.7 M167.5 53.5l1.3 -2.5 M168.5 54.3l-1.7 1.6 M168.5 54.3l2.9 -1.9 M169.3 55.1l-3.3 4.1 M169.3 55.1l4.7 -4.5 M170.1 56.1l-3.5 2.6 M170.1 56.1l2.3 -1.6 M170.8 57.0l-2.3 2.0 M170.8 57.0l3.0 -1.8 M171.5 58.0l-3.5 2.7 M171.5 58.0l3.7 -2.3 M186.0 56.0l3.6 3.6 M186.0 56.0l-1.8 -1.7 M187.1 55.1l2.0 3.6 M187.1 55.1l-1.6 -2.2 M188.3 54.4l3.0 4.8 M188.3 54.4l-0.8 -3.9 M189.6 54.0l0.1 5.2 M189.6 54.0l-1.5 -2.6 M190.9 53.8l1.6 5.1 M190.9 53.8l0.2 -4.6 M192.1 53.8l0.2 3.5 M192.1 53.8l0.2 -4.0 M193.4 54.0l-1.1 3.7 M193.4 54.0l0.2 -3.3 M194.5 54.4l-2.1 2.6 M194.5 54.4l1.4 -4.6 M195.6 54.9l-1.3 4.0 M195.6 54.9l1.4 -2.3 M196.5 55.5l-3.6 3.0 M196.5 55.5l3.4 -2.8 M197.4 56.2l-4.0 4.2 M197.4 56.2l2.1 -2.9 M128.0 53.0l1.0 4.0 M128.0 53.0l-1.2 -5.3 M129.3 52.4l1.7 4.6 M129.3 52.4l-2.5 -5.0 M130.6 52.1l1.0 3.1 M130.6 52.1l0.0 -3.0 M131.9 52.0l0.7 2.6 M131.9 52.0l-0.3 -2.8 M133.2 52.0l-0.5 2.7 M133.2 52.0l-0.2 -3.5 M134.3 52.3l-0.8 5.0 M134.3 52.3l1.0 -2.0 M135.4 52.7l-2.5 2.9 M135.4 52.7l2.3 -2.7 M136.4 53.3l-3.2 3.2 M136.4 53.3l2.3 -5.2 M137.3 54.1l-1.7 1.5 M137.3 54.1l3.6 -4.1" stroke="#14100a" stroke-width="0.9" fill="none" stroke-linecap="round"/>
<path d="M93 106 C103 110 113 112 123 114 M96 111 C106 115 116 117 128 119 M99 116 C109 120 119 122 131 124 M103 121 C113 125 123 126 135 128 M108 126 C118 128 128 130 140 131 M113 130 C121 132 129 133 138 134 M125 138 L127 146 M128 137.5 L130 145 M131 137 L133 144 M134 136 L136 142 M137 135 L139 139" stroke="#e6a46a" stroke-width="1.2" fill="none" stroke-linecap="round" stroke-dasharray="7 2 4 2"/></g>
<g id="cubes"><path d="M33.8 28.5 L56.0 28.5 L58.0 47.0 L53.3 49.8 L33.8 54.9 L33.8 74.5 L27.2 72.0 L26.2 42.8 Z" fill="#f5832a" stroke="#f5832a" stroke-width="12" stroke-linejoin="round"/>
<path d="M33.8 28.5 L56.0 28.5 L56.0 46.0 L53.3 49.8 L33.8 54.9 L31.0 66.0 L27.2 60.0 L26.4 42.8 Z" fill="#1f9440"/>
<path d="M33.8 28.5 L56.0 28.5 L56.0 42.0 L26.4 42.8 Z" fill="#2eaa4a"/>
<path d="M33.8 74.5 L33.8 54.9 L53.3 49.8 L76.5 58.5" stroke="#f5832a" stroke-width="10" fill="none" stroke-linejoin="round"/>
<path d="M33.8 54.9 L53.3 49.8 L76.5 58.5 L76.9 90.6 L44.1 100.9 L33.8 74.5 Z" fill="#2a47a0"/>
<path d="M33.8 54.9 L53.3 49.8 L76.5 58.5 L39.0 71.0 Z" fill="#4862ae"/>
<path d="M33.8 54.9 L39.0 71.0 L44.1 100.9 L33.8 74.5 Z" fill="#34509e"/>
<path d="M55.1 14.9 L84.5 8.0 L97.8 19.7 L99.4 53.4 L66.3 58.7 L55.1 44.8 Z" fill="#f5832a" stroke="#f5832a" stroke-width="12" stroke-linejoin="round"/>
<path d="M55.1 14.9 L84.5 8.0 L97.8 19.7 L99.4 53.4 L66.3 58.7 L55.1 44.8 Z" fill="#c4b42a"/>
<path d="M55.1 14.9 L84.5 8.0 L97.8 19.7 L63.7 26.7 Z" fill="#d2ca44"/>
<path d="M55.1 14.9 L63.7 26.7 L66.3 58.7 L55.1 44.8 Z" fill="#c2c03e"/>
<path d="M83.0 59.5 L99.0 50.5 L126.5 55.0 L127.2 83.7 L111.7 102.1 L82.4 90.6 Z" fill="#f5832a" stroke="#f5832a" stroke-width="11" stroke-linejoin="round"/>
<path d="M83.0 59.5 L99.0 50.5 L126.5 55.0 L127.2 83.7 L111.7 102.1 L82.4 90.6 Z" fill="#cc4040"/>
<path d="M83.0 59.5 L99.0 50.5 L126.5 55.0 L109.5 73.5 Z" fill="#d65a40"/>
<path d="M109.5 73.5 L126.5 55.0 L127.2 83.7 L111.7 102.1 Z" fill="#c23a4a"/></g>
<g id="eye"><path d="M125.6 150.4 C126.5 154 127.5 156.5 129.5 157.4 C131 158.4 133 158.6 135 158.4 C145 156 152 153.5 160 152 L186.5 145.2" stroke="#f07a20" stroke-width="4.6" fill="none" stroke-linecap="round" stroke-linejoin="round"/><circle cx="209.6" cy="147" r="20.2" fill="#fff" stroke="#000" stroke-width="2.6"/><ellipse cx="222.6" cy="148" rx="3.4" ry="7.6" fill="#000"/></g>
<g id="cell"><defs><linearGradient id="cellg" x1="0" y1="0" x2="1" y2="0.3"><stop offset="0" stop-color="#fbf0cc"/><stop offset="0.5" stop-color="#f8e2ac"/><stop offset="1" stop-color="#f0c87c"/></linearGradient></defs>
<path d="M252.5 90 L259 88 L260.5 104 L254 102 Z" fill="#bddcd8"/>
<path d="M296.5 54 L303 57 L302.5 80 L297 78 Z" fill="#bddcd8"/>
<path d="M252.4 61.4 V92.8 M301.4 57.6 V91.9 M258.6 52.6 L267 51.9 M286 105 L296 102" stroke="#111" stroke-width="1.2" fill="none"/>
<path d="M276.7 51.8 C290 51.8 297.7 61.5 297.7 78.5 C297.7 95.5 290 105.3 276.7 105.3 C263.4 105.3 255.7 95.5 255.7 78.5 C255.7 61.5 263.4 51.8 276.7 51.8 Z" fill="url(#cellg)" stroke="#111" stroke-width="1.6"/>
<path d="M259 60 q2 3 0 6 q2 3 0 6 M261.5 62 q2 2 0 5" stroke="#8ccf7a" stroke-width="1.1" fill="none"/>
<path d="M264 65 q3 1 4 4 M265 68 q2 1 3 3" stroke="#e08a50" stroke-width="1.1" fill="none"/>
<circle cx="280.4" cy="78.5" r="5.1" fill="#eab4c4" stroke="#2a1414" stroke-width="1"/>
<circle cx="279.4" cy="77.4" r="1.8" fill="#fbe2ea"/>
<ellipse cx="269" cy="75.2" rx="1.5" ry="3.8" transform="rotate(22 269 75.2)" fill="#111"/>
<ellipse cx="272.8" cy="91" rx="1.6" ry="3.4" transform="rotate(40 272.8 91)" fill="#111"/>
<ellipse cx="281.4" cy="95.7" rx="3.2" ry="1.9" transform="rotate(25 281.4 95.7)" fill="#111"/>
<path d="M259.5 78 v8 M261.3 77.6 v8.5 M263.1 78 v8 M276 103 l2 -2.5 M279 103.3 l2 -2.5 M282 103.3 l2 -2.5 M285 103 l2 -2.5 M285 80 l8 4 l-3 9 M287 79 l8 4 M284 88 l8 4 M283 92 l9 3 M278 54 l3 3 l-3 4 l4 4 M283 58 l9 4 M283 61 l9 4 M283 64 l8 4 M266 82 l4 5 M268 86 l3 4" stroke="#1a1a1a" stroke-width="0.9" fill="none"/>
<ellipse cx="290" cy="59.5" rx="2" ry="1.2" fill="#111"/>
<circle cx="288" cy="54.6" r="18.6" fill="none" stroke="#3c64a0" stroke-width="4.2"/></g>
<g id="membrane"><path d="M336.5 123 H601.0 V215 H336.5 Z" fill="#356870"/>
<path d="M352.6 114.1h0M471.1 114.0h0M350.9 117.2h0M354.1 117.5h0M365.1 117.6h0M391.2 117.8h0M402.2 117.5h0M425.1 117.8h0M435.7 117.3h0M439.9 117.1h0M465.2 117.8h0M469.3 117.0h0M476.1 117.8h0M483.8 117.2h0M495.4 117.3h0M528.5 116.9h0M535.9 117.7h0M539.5 117.9h0M543.5 117.3h0M554.1 117.4h0M561.9 117.5h0M565.1 117.0h0M587.6 117.5h0M602.4 117.4h0M367.6 121.0h0M374.7 120.6h0M386.3 120.7h0M389.9 121.1h0M408.3 120.3h0M426.6 120.9h0M433.5 120.7h0M438.1 120.7h0M441.8 120.5h0M452.3 120.5h0M455.9 120.3h0M463.3 120.9h0M467.5 120.7h0M478.0 121.0h0M481.7 120.3h0M489.9 120.8h0M504.6 120.5h0M507.9 120.9h0M518.7 121.0h0M526.8 120.8h0M552.8 120.1h0M585.4 120.1h0M343.2 124.2h0M346.7 124.1h0M350.5 123.6h0M354.9 123.7h0M398.7 123.5h0M402.6 124.0h0M406.0 124.2h0M413.4 123.6h0M435.6 124.0h0M446.7 123.7h0M450.4 123.6h0M469.1 123.4h0M476.4 124.0h0M480.4 124.2h0M487.3 123.6h0M491.1 123.8h0M528.3 123.6h0M532.4 123.4h0M539.0 124.2h0M547.1 123.5h0M572.7 123.4h0M576.5 123.6h0M580.2 123.9h0M587.1 124.2h0M338.2 127.3h0M349.3 126.9h0M363.6 127.1h0M370.9 126.6h0M374.7 127.5h0M423.3 126.9h0M429.9 127.0h0M464.0 127.1h0M478.3 127.4h0M496.7 127.1h0M507.5 127.4h0M511.4 126.8h0M530.3 126.7h0M534.2 127.1h0M537.9 127.4h0M555.9 127.1h0M560.1 127.4h0M564.0 127.5h0M578.5 126.7h0M589.0 126.9h0M596.8 126.8h0M350.9 130.3h0M354.4 129.9h0M365.5 130.5h0M369.6 130.6h0M391.7 130.1h0M399.3 130.7h0M406.0 130.3h0M409.8 130.5h0M413.3 130.5h0M421.1 129.8h0M443.3 130.2h0M454.7 130.1h0M457.6 130.2h0M462.0 130.6h0M465.3 130.2h0M476.5 129.8h0M499.2 130.2h0M506.1 130.3h0M517.7 130.1h0M520.8 130.3h0M528.2 130.0h0M539.9 130.2h0M554.3 130.0h0M558.4 130.5h0M565.2 129.8h0M587.4 130.7h0M602.0 129.8h0M356.3 133.6h0M364.1 133.4h0M382.0 133.6h0M385.6 133.3h0M393.5 133.1h0M396.6 133.2h0M400.7 133.9h0M404.5 133.1h0M407.9 133.0h0M455.8 133.1h0M459.4 133.3h0M467.4 133.3h0M470.8 133.3h0M478.6 133.4h0M489.3 133.8h0M493.6 133.6h0M511.6 133.4h0M519.2 133.9h0M523.3 133.1h0M526.1 133.4h0M530.0 133.3h0M537.2 133.0h0M541.3 133.8h0M545.3 133.8h0M552.3 133.9h0M556.3 133.4h0M563.6 133.7h0M567.6 133.5h0M571.0 133.8h0M574.3 133.9h0M581.6 133.9h0M585.4 133.6h0M600.7 133.7h0M347.0 136.7h0M373.0 137.1h0M380.1 136.2h0M398.6 136.3h0M436.3 137.1h0M447.4 136.8h0M451.0 137.1h0M458.4 136.6h0M465.7 137.1h0M469.5 136.6h0M524.7 136.2h0M528.3 136.8h0M543.3 136.2h0M558.4 136.5h0M587.6 136.8h0M342.0 139.9h0M356.5 139.6h0M363.3 140.3h0M374.5 139.8h0M408.5 140.1h0M411.6 139.6h0M423.4 139.4h0M430.6 139.6h0M437.6 139.9h0M449.3 140.2h0M463.5 140.3h0M478.6 139.6h0M481.7 139.5h0M486.2 139.7h0M504.7 139.9h0M508.1 139.8h0M515.8 139.9h0M537.9 139.6h0M544.8 139.7h0M549.0 139.8h0M567.5 140.1h0M577.8 140.3h0M589.4 140.4h0M600.5 139.6h0M336.3 143.6h0M339.9 143.2h0M343.5 143.1h0M346.6 143.1h0M351.2 142.8h0M354.7 143.5h0M362.1 143.3h0M366.0 143.3h0M373.3 143.0h0M376.6 142.7h0M391.1 143.1h0M402.9 142.7h0M406.2 143.0h0M409.9 143.5h0M425.2 143.1h0M439.7 143.1h0M442.9 143.3h0M454.2 143.6h0M465.2 143.2h0M473.3 143.0h0M483.7 142.9h0M487.8 143.0h0M495.1 143.5h0M498.5 142.7h0M502.3 143.4h0M510.3 142.9h0M513.6 143.5h0M521.3 143.2h0M524.3 143.1h0M527.9 143.2h0M539.6 143.1h0M546.4 143.4h0M554.1 142.9h0M573.2 143.6h0M576.0 142.9h0M580.3 143.3h0M594.8 143.1h0M599.0 143.0h0M341.5 145.9h0M344.9 146.0h0M352.8 146.1h0M355.9 146.6h0M363.5 145.9h0M367.3 146.2h0M371.1 146.3h0M382.4 146.2h0M393.5 146.5h0M404.4 146.8h0M408.3 146.0h0M415.6 146.3h0M418.8 146.3h0M430.4 146.1h0M433.6 146.0h0M437.7 146.0h0M445.2 146.8h0M456.6 146.0h0M470.5 146.3h0M493.3 146.1h0M500.9 146.5h0M529.7 146.8h0M533.5 146.1h0M538.1 146.0h0M541.7 146.0h0M556.5 146.7h0M563.6 146.6h0M567.0 146.2h0M570.5 146.7h0M574.2 146.3h0M600.3 146.5h0M339.7 150.0h0M346.6 150.1h0M361.4 149.3h0M380.1 149.5h0M391.0 149.5h0M395.1 149.2h0M398.7 149.9h0M402.7 149.3h0M413.8 149.7h0M435.6 149.4h0M446.8 149.9h0M465.4 149.5h0M476.5 149.6h0M484.1 149.4h0M488.1 149.4h0M505.7 149.4h0M509.8 149.6h0M535.4 149.3h0M547.2 149.6h0M550.7 149.2h0M558.0 149.7h0M564.9 150.1h0M576.0 150.0h0M587.6 149.9h0M590.8 149.2h0M594.6 150.0h0M599.0 149.1h0M341.5 152.3h0M345.5 152.6h0M352.7 153.1h0M359.6 152.8h0M363.7 152.4h0M367.3 152.6h0M371.2 152.5h0M375.1 153.2h0M386.1 153.1h0M389.7 152.8h0M393.1 152.3h0M400.6 152.6h0M404.3 152.7h0M415.6 152.4h0M419.6 153.1h0M422.4 152.9h0M430.3 152.3h0M441.6 153.2h0M444.9 153.2h0M448.5 152.9h0M456.3 152.7h0M459.4 152.7h0M463.9 152.8h0M478.0 152.7h0M482.1 152.3h0M486.2 152.9h0M496.9 152.5h0M504.3 152.6h0M522.9 152.6h0M541.7 152.6h0M552.5 153.2h0M556.2 152.9h0M574.9 152.5h0M581.8 152.6h0M585.8 152.7h0M589.4 153.0h0M596.6 153.1h0M600.7 152.9h0M335.6 156.5h0M339.3 156.3h0M369.7 155.6h0M373.2 155.6h0M379.9 155.9h0M387.3 155.9h0M391.1 155.8h0M398.8 156.3h0M413.2 155.9h0M428.0 156.0h0M435.9 155.9h0M439.9 156.4h0M443.2 155.8h0M446.5 156.2h0M458.5 155.8h0M472.8 155.8h0M484.1 156.2h0M491.7 156.1h0M494.8 155.9h0M499.2 155.8h0M502.4 156.1h0M505.7 156.4h0M510.3 155.9h0M517.6 156.0h0M521.0 156.2h0M528.6 156.4h0M535.5 156.3h0M539.8 155.6h0M543.5 155.8h0M546.9 155.7h0M550.4 155.6h0M562.1 155.8h0M564.9 156.4h0M576.7 156.0h0M590.8 156.4h0M598.4 156.0h0M602.8 155.7h0M337.4 159.5h0M341.1 159.1h0M367.5 159.2h0M371.5 159.0h0M382.5 159.5h0M386.2 159.1h0M397.1 158.9h0M400.6 159.5h0M415.0 159.1h0M419.7 158.8h0M422.7 159.1h0M426.6 159.2h0M430.6 159.4h0M466.9 159.5h0M489.7 159.6h0M500.6 159.6h0M504.5 159.4h0M519.0 159.5h0M530.5 159.2h0M540.9 159.0h0M545.1 159.0h0M552.7 159.3h0M559.7 159.2h0M574.5 158.8h0M582.2 158.9h0M593.3 158.8h0M596.7 158.9h0M600.7 158.9h0M351.0 162.9h0M354.0 162.3h0M365.4 162.9h0M369.1 162.2h0M391.5 162.4h0M394.9 162.0h0M399.0 162.0h0M402.5 162.6h0M405.8 162.7h0M413.7 162.6h0M420.6 162.8h0M424.3 162.0h0M428.6 162.5h0M442.9 162.8h0M450.6 162.2h0M454.5 162.7h0M465.3 162.6h0M468.8 162.7h0M480.2 162.8h0M484.4 162.5h0M488.1 162.8h0M491.4 162.3h0M505.9 162.0h0M513.9 162.5h0M521.4 162.5h0M524.3 162.1h0M531.7 162.6h0M536.1 162.9h0M539.5 162.6h0M554.5 162.0h0M557.8 162.6h0M576.6 162.2h0M580.6 162.4h0M583.7 162.3h0M591.0 162.8h0M341.9 165.6h0M356.0 165.8h0M367.5 165.6h0M375.2 165.4h0M381.9 165.9h0M385.8 165.9h0M393.5 165.6h0M397.2 165.6h0M401.0 165.2h0M415.2 165.8h0M419.2 166.0h0M444.8 166.1h0M448.7 165.4h0M452.8 166.0h0M460.3 165.4h0M486.1 166.0h0M489.6 165.3h0M493.5 166.0h0M497.2 166.0h0M522.7 165.7h0M529.9 165.8h0M544.9 166.0h0M556.3 165.4h0M570.5 166.1h0M574.8 165.5h0M582.1 165.8h0M585.6 165.5h0M589.1 165.3h0M343.8 168.7h0M346.6 169.1h0M354.4 168.5h0M365.7 169.2h0M368.8 169.1h0M376.2 169.0h0M384.3 168.7h0M388.1 169.2h0M395.2 168.7h0M398.9 168.7h0M402.2 168.6h0M406.6 168.5h0M414.1 168.8h0M446.7 168.8h0M450.7 168.9h0M454.6 169.3h0M457.6 169.2h0M465.0 168.9h0M469.0 169.2h0M476.1 169.0h0M487.7 169.4h0M498.6 168.4h0M506.3 169.3h0M510.3 168.8h0M514.0 168.6h0M520.9 168.7h0M535.4 168.9h0M561.2 168.6h0M564.9 169.3h0M576.1 169.3h0M587.9 169.0h0M595.1 169.2h0M598.3 168.7h0M601.9 168.9h0M337.9 171.9h0M345.0 171.7h0M356.6 171.7h0M360.4 172.1h0M367.5 172.2h0M415.8 172.4h0M430.7 172.4h0M444.8 172.3h0M448.7 171.9h0M474.5 172.0h0M486.2 171.7h0M489.4 171.6h0M512.2 172.4h0M518.8 172.5h0M522.8 171.6h0M533.6 172.4h0M537.4 171.7h0M552.3 172.0h0M563.9 172.4h0M567.1 172.3h0M574.3 172.3h0M582.3 172.2h0M585.3 172.2h0M593.3 172.0h0M596.5 172.6h0M600.1 172.2h0M335.9 175.4h0M339.9 175.5h0M343.8 174.9h0M347.3 175.4h0M373.3 175.6h0M388.0 174.8h0M391.9 175.7h0M394.7 175.0h0M398.8 175.4h0M424.7 175.6h0M428.6 175.5h0M447.3 174.9h0M454.1 175.8h0M468.8 175.8h0M476.4 175.7h0M480.1 175.1h0M542.7 175.6h0M547.1 174.9h0M550.7 175.8h0M554.4 175.1h0M565.1 175.8h0M568.7 175.6h0M580.6 175.3h0M590.8 175.2h0M594.9 175.8h0M598.6 175.6h0M602.7 175.7h0M337.8 179.0h0M348.6 179.0h0M352.6 179.0h0M356.1 178.3h0M374.7 178.8h0M382.1 178.7h0M385.9 178.7h0M393.3 178.1h0M404.6 178.7h0M415.1 178.5h0M419.6 178.7h0M427.0 178.2h0M430.4 178.1h0M448.3 178.3h0M452.7 178.4h0M456.1 178.6h0M463.1 178.4h0M467.0 179.0h0M470.8 178.9h0M482.2 178.5h0M489.3 178.5h0M493.4 178.7h0M500.8 178.2h0M508.5 178.1h0M511.3 178.7h0M518.8 178.3h0M522.8 178.7h0M534.0 178.2h0M537.4 178.7h0M548.4 178.6h0M559.7 178.3h0M563.4 178.2h0M581.7 178.9h0M593.3 178.5h0M336.4 181.8h0M343.8 181.8h0M346.8 181.5h0M351.2 181.6h0M368.9 181.5h0M376.3 181.8h0M380.0 182.2h0M391.7 182.3h0M398.9 181.6h0M402.3 181.4h0M406.0 181.6h0M413.5 182.1h0M417.5 181.9h0M420.7 182.1h0M424.8 181.6h0M435.4 182.2h0M443.5 181.6h0M447.2 182.2h0M454.8 181.4h0M458.2 182.0h0M469.1 181.9h0M477.0 181.7h0M487.2 181.3h0M491.6 182.1h0M506.3 181.9h0M510.3 181.9h0M513.5 182.2h0M517.5 181.4h0M535.3 181.7h0M543.5 181.7h0M561.6 181.7h0M565.6 182.1h0M590.9 181.8h0M337.5 185.1h0M344.7 184.9h0M349.3 185.0h0M352.6 184.6h0M367.0 185.0h0M370.7 184.7h0M374.3 184.9h0M378.0 185.5h0M385.5 185.0h0M390.0 185.1h0M400.5 184.8h0M415.3 184.8h0M419.4 184.8h0M422.6 184.6h0M430.2 184.8h0M445.1 184.6h0M448.4 185.1h0M452.2 184.8h0M463.5 185.1h0M470.6 184.7h0M486.2 184.8h0M489.9 184.7h0M500.2 185.4h0M504.7 185.5h0M512.1 184.5h0M515.7 184.5h0M519.0 184.8h0M552.1 185.4h0M566.9 185.2h0M571.2 184.5h0M574.6 184.7h0M586.0 184.8h0M597.2 185.2h0M335.8 188.4h0M339.3 188.2h0M350.6 187.7h0M366.0 188.4h0M373.2 188.4h0M391.5 188.5h0M395.4 187.9h0M398.9 188.6h0M424.8 187.9h0M447.1 188.3h0M458.0 188.0h0M461.6 188.3h0M469.6 188.6h0M472.5 187.7h0M476.1 187.9h0M509.5 188.2h0M513.9 187.9h0M521.3 188.2h0M524.4 188.5h0M528.6 188.1h0M532.4 187.8h0M535.7 188.5h0M547.2 188.6h0M550.6 188.0h0M558.0 188.4h0M580.6 188.3h0M584.0 188.5h0M591.6 187.7h0M598.9 188.1h0M345.2 191.7h0M359.9 191.8h0M370.9 190.9h0M378.4 191.3h0M382.0 191.6h0M389.9 190.9h0M401.0 191.4h0M411.7 191.0h0M422.8 191.5h0M426.9 191.5h0M430.3 191.6h0M441.6 191.7h0M452.5 191.6h0M470.7 191.6h0M474.7 191.9h0M482.1 191.2h0M489.2 191.0h0M493.1 191.1h0M507.7 191.0h0M515.4 191.1h0M526.0 191.3h0M530.5 191.6h0M541.6 191.8h0M545.2 191.5h0M548.9 191.1h0M552.1 191.9h0M556.4 191.2h0M563.4 191.5h0M581.8 191.5h0M585.6 191.5h0M589.2 191.5h0M597.1 190.9h0M350.7 195.1h0M354.0 194.4h0M365.7 194.5h0M372.9 195.1h0M394.7 194.3h0M398.4 194.3h0M406.5 194.2h0M410.1 195.1h0M424.7 194.4h0M435.4 194.8h0M443.5 194.3h0M446.9 194.8h0M458.0 194.9h0M461.8 194.5h0M469.5 194.4h0M476.5 194.2h0M480.7 195.0h0M487.8 194.2h0M510.1 195.0h0M513.6 194.6h0M517.6 194.6h0M539.5 194.3h0M547.2 195.1h0M551.0 195.0h0M558.4 194.5h0M564.9 194.4h0M569.5 194.9h0M572.7 194.9h0M576.8 194.8h0M587.5 194.7h0M595.3 195.0h0M598.6 194.2h0M341.6 198.0h0M348.5 198.1h0M359.6 197.9h0M367.0 198.2h0M378.5 197.4h0M386.3 197.9h0M397.2 197.5h0M415.8 198.2h0M419.6 197.5h0M427.1 198.3h0M441.0 198.3h0M463.3 197.8h0M493.2 197.4h0M496.8 198.2h0M523.0 197.5h0M526.6 198.0h0M552.9 197.6h0M559.3 198.3h0M574.3 197.8h0M581.5 197.4h0M586.2 197.7h0M597.0 198.2h0M339.5 200.8h0M342.9 201.0h0M346.8 200.6h0M366.0 201.1h0M369.0 200.9h0M398.9 201.2h0M413.8 200.6h0M416.9 200.8h0M421.3 200.8h0M425.2 200.8h0M439.8 201.2h0M454.0 200.9h0M469.4 201.1h0M472.5 201.0h0M483.9 200.9h0M513.2 200.7h0M517.3 201.1h0M520.9 201.4h0M525.1 200.8h0M535.4 201.1h0M546.4 200.9h0M568.6 201.1h0M573.0 201.2h0M576.6 201.1h0M595.3 201.4h0M364.0 204.1h0M378.9 204.4h0M397.1 204.0h0M407.8 204.0h0M422.5 204.1h0M440.9 204.0h0M455.8 204.4h0M463.8 204.2h0M467.1 203.9h0M471.1 204.7h0M492.7 204.4h0M500.8 204.5h0M504.2 204.7h0M511.5 204.0h0M530.6 203.8h0M533.9 204.6h0M541.6 204.4h0M556.4 204.2h0M571.0 204.4h0M574.2 204.6h0M593.1 204.0h0M343.7 207.9h0M346.8 207.7h0M373.0 207.6h0M380.3 207.9h0M383.6 207.5h0M403.0 207.6h0M425.1 207.4h0M446.7 207.5h0M450.8 207.5h0M454.6 207.6h0M461.3 207.8h0M484.1 207.6h0M510.1 207.7h0M516.8 207.2h0M535.6 207.5h0M568.8 207.3h0M602.7 207.2h0M345.3 210.5h0M352.2 210.9h0M367.4 211.1h0M375.2 210.5h0M397.4 210.6h0M423.0 211.0h0M471.2 210.6h0M478.7 210.9h0M489.1 210.3h0M511.9 211.1h0M523.1 211.2h0M545.2 210.9h0M559.6 210.3h0M582.0 211.2h0M585.4 210.5h0M589.4 210.4h0M339.5 213.8h0M347.5 214.2h0M357.9 213.9h0M369.0 214.3h0M373.2 214.2h0M377.0 213.7h0M379.9 213.9h0M383.9 213.7h0M391.6 213.6h0M395.4 213.9h0M406.1 214.3h0M420.6 213.6h0M428.9 213.9h0M432.3 214.2h0M442.8 213.7h0M450.5 214.4h0M458.0 214.0h0M465.7 213.9h0M477.0 214.0h0M491.3 214.4h0M495.4 214.2h0M513.3 214.4h0M528.5 214.4h0M532.0 214.3h0M543.0 213.9h0M568.9 214.4h0M572.6 214.0h0M337.4 217.4h0M352.3 216.9h0M356.2 217.5h0M363.2 217.1h0M378.2 217.2h0M411.9 217.7h0M426.9 216.8h0M456.1 216.9h0M460.3 217.3h0M471.4 217.4h0M478.9 217.6h0M485.9 217.6h0M515.4 216.8h0M530.6 216.9h0M533.6 216.9h0M541.5 217.1h0M545.2 217.2h0M574.2 216.7h0M578.6 217.4h0M593.4 217.6h0M596.5 217.5h0M413.8 220.4h0M506.3 220.4h0M539.3 220.3h0M598.9 220.5h0M602.8 220.6h0M562.6 113.1h0M507.5 114.5h0M508.3 111.5h0M506.1 107.6h0M339.6 220.1h0M455.3 117.0h0M497.7 216.7h0M573.7 119.2h0M479.6 115.3h0M557.3 224.0h0M597.4 220.0h0M597.8 222.5h0M601.2 222.5h0M388.0 112.8h0M449.3 228.0h0M569.1 114.5h0M589.5 218.6h0M589.8 224.0h0M479.6 118.0h0M359.1 118.2h0M362.5 118.2h0M388.5 228.4h0M600.2 220.4h0M599.5 222.4h0M597.3 225.3h0M566.9 220.3h0M566.4 222.7h0M568.0 225.1h0M433.7 114.8h0M519.7 116.8h0M447.0 221.1h0M446.6 223.9h0M446.2 228.9h0M518.9 219.0h0M409.7 115.9h0M403.4 115.7h0M402.7 110.9h0M370.8 117.4h0M370.0 115.4h0M514.0 220.6h0M404.9 116.6h0M440.2 114.7h0M461.2 114.0h0M397.5 222.6h0M514.5 119.1h0M517.5 119.1h0M545.5 219.5h0M546.0 221.8h0M371.7 114.8h0M507.1 220.4h0M465.2 117.4h0M468.6 117.4h0M466.8 111.7h0M466.7 109.9h0M514.7 221.3h0M417.9 118.9h0M420.7 114.1h0M598.6 117.2h0M599.6 222.4h0M583.4 118.2h0M396.0 120.3h0M394.8 118.2h0M411.9 113.9h0M504.5 114.6h0M530.5 114.2h0M589.5 113.9h0M387.5 117.1h0M409.9 117.1h0M414.1 117.1h0M443.7 117.2h0M447.0 117.3h0M473.0 117.5h0M498.8 117.4h0M502.7 117.1h0M505.8 117.7h0M532.1 117.8h0M569.5 117.5h0M591.7 117.3h0M595.3 117.6h0M598.2 117.7h0M341.0 120.3h0M349.4 120.2h0M352.9 120.7h0M355.9 121.0h0M393.5 120.3h0M404.7 120.4h0M415.1 120.7h0M422.5 120.6h0M430.7 120.9h0M444.9 120.9h0M470.9 120.2h0M474.4 120.3h0M486.1 121.0h0M497.0 120.8h0M501.1 120.4h0M522.3 120.4h0M530.2 120.3h0M533.9 120.7h0M541.4 121.1h0M544.7 120.6h0M556.3 120.7h0M567.2 120.2h0M570.6 120.2h0M574.4 120.8h0M577.9 120.7h0M582.0 120.7h0M589.1 120.8h0M593.0 120.8h0M596.9 120.4h0M335.5 123.6h0M339.7 123.4h0M365.3 124.2h0M369.3 123.8h0M380.0 123.7h0M383.6 124.2h0M391.4 124.3h0M394.8 124.0h0M432.4 123.4h0M439.3 123.4h0M443.2 123.8h0M454.3 123.9h0M461.7 123.8h0M465.2 124.1h0M483.9 124.0h0M494.8 123.8h0M498.6 124.3h0M506.6 123.9h0M510.2 123.6h0M516.9 124.1h0M520.7 123.5h0M535.8 123.9h0M543.4 123.7h0M550.2 124.3h0M554.7 123.6h0M558.0 123.8h0M583.4 124.3h0M594.6 123.7h0M599.0 124.0h0M602.8 123.9h0M341.6 127.5h0M352.9 126.9h0M359.7 127.1h0M367.9 127.3h0M378.9 127.5h0M382.5 127.4h0M390.0 127.2h0M393.5 127.5h0M404.6 127.4h0M412.2 127.2h0M445.2 127.0h0M455.8 126.6h0M459.8 126.6h0M481.9 127.2h0M485.7 127.3h0M489.8 127.1h0M493.4 126.8h0M500.8 126.7h0M504.8 126.8h0M515.7 127.5h0M519.3 127.3h0M523.0 126.9h0M541.2 126.9h0M544.8 126.7h0M552.2 126.7h0M570.7 127.0h0M582.3 127.1h0M585.5 126.8h0M336.2 130.0h0M339.4 130.0h0M373.3 130.5h0M376.2 130.5h0M380.3 130.4h0M395.3 130.6h0M428.5 130.5h0M432.4 129.9h0M439.2 129.9h0M480.5 130.7h0M488.0 129.9h0M491.2 130.5h0M495.2 129.8h0M532.4 130.3h0M536.2 130.0h0M543.6 130.4h0M561.8 130.5h0M568.6 130.3h0M572.5 130.2h0M579.8 130.7h0M584.0 130.3h0M598.8 130.0h0M338.0 133.6h0M341.4 133.4h0M349.2 133.4h0M352.9 133.8h0M360.4 133.2h0M367.3 133.4h0M371.2 133.2h0M419.4 133.5h0M426.5 133.7h0M437.5 133.1h0M441.0 133.0h0M444.9 133.3h0M452.8 133.6h0M504.6 133.6h0M533.6 133.9h0M559.5 133.4h0M578.3 133.7h0M588.9 133.5h0M593.1 133.9h0M597.0 133.2h0M339.5 137.1h0M350.6 137.2h0M358.5 136.2h0M391.7 136.5h0M394.7 136.5h0M402.6 136.6h0M406.2 136.5h0M410.1 136.5h0M420.6 136.4h0M440.0 136.8h0M443.5 136.8h0M454.1 136.5h0M488.1 137.1h0M491.2 137.2h0M502.4 137.1h0M509.6 137.0h0M513.2 137.0h0M520.5 136.6h0M532.2 136.2h0M547.3 136.4h0M550.4 136.7h0M561.6 137.1h0M565.6 136.5h0M591.6 136.2h0M595.1 137.2h0M598.9 136.7h0M602.7 136.3h0M337.6 140.2h0M349.0 140.4h0M352.3 139.5h0M359.9 140.0h0M393.6 139.5h0M396.5 139.5h0M401.1 140.0h0M415.1 139.7h0M419.6 139.5h0M426.9 140.3h0M441.8 139.6h0M444.8 140.2h0M452.8 140.3h0M456.1 140.1h0M466.9 140.3h0M471.2 139.9h0M474.4 140.4h0M497.3 140.4h0M519.4 140.2h0M522.5 140.4h0M530.1 140.1h0M552.1 139.7h0M559.6 139.6h0M563.9 140.0h0M585.8 139.8h0M596.5 139.5h0M357.7 143.3h0M369.2 143.5h0M380.3 143.0h0M383.6 143.0h0M387.6 143.0h0M413.7 142.8h0M421.3 142.9h0M428.4 143.1h0M432.2 143.6h0M450.7 143.2h0M458.5 143.2h0M461.3 143.5h0M469.5 142.9h0M476.4 143.5h0M480.3 143.2h0M506.6 143.5h0M517.2 142.7h0M532.2 142.8h0M536.0 143.1h0M542.9 143.6h0M550.7 143.6h0M565.6 143.5h0M583.6 142.8h0M591.4 143.1h0M602.3 143.0h0M337.4 146.7h0M349.4 145.9h0M359.9 146.6h0M374.8 146.5h0M378.8 146.4h0M397.0 146.3h0M400.9 146.1h0M411.7 146.7h0M422.8 146.8h0M441.2 146.6h0M448.8 146.6h0M452.6 146.1h0M460.1 146.4h0M463.5 146.1h0M467.0 146.2h0M474.6 146.2h0M503.9 146.2h0M508.4 146.6h0M511.7 146.6h0M515.7 146.4h0M518.9 146.2h0M522.7 146.6h0M526.2 146.7h0M544.6 146.3h0M548.4 146.2h0M552.5 146.2h0M577.9 146.8h0M581.8 146.2h0M589.2 146.5h0M593.1 146.3h0M597.1 146.3h0M336.4 149.4h0M343.3 149.8h0M354.7 149.3h0M358.1 149.7h0M365.8 149.3h0M369.4 149.1h0M372.9 149.1h0M376.4 150.0h0M383.8 150.1h0M388.1 149.7h0M406.1 149.7h0M409.7 149.8h0M417.2 149.2h0M420.6 150.0h0M424.3 149.9h0M428.4 149.3h0M431.8 149.6h0M439.4 149.7h0M443.2 149.6h0M450.8 150.0h0M453.9 149.7h0M458.2 150.0h0M461.6 149.2h0M472.8 149.9h0M480.2 149.6h0M491.3 150.0h0M498.5 149.6h0M502.0 149.8h0M513.1 149.6h0M517.1 149.5h0M521.4 149.1h0M528.6 149.7h0M539.6 149.3h0M543.3 149.7h0M562.0 149.6h0M568.8 149.4h0M572.6 149.5h0M584.3 149.9h0M601.9 149.7h0M349.3 152.3h0M356.7 152.8h0M378.4 152.7h0M397.1 153.2h0M408.0 153.1h0M411.6 153.1h0M438.1 152.9h0M452.1 152.6h0M471.2 153.0h0M474.6 152.5h0M489.4 153.1h0M501.0 152.4h0M511.8 152.3h0M515.1 153.2h0M519.0 152.8h0M526.6 152.8h0M534.1 152.8h0M537.6 152.9h0M544.8 153.0h0M548.8 152.9h0M563.6 153.1h0M567.4 152.4h0M571.0 153.0h0M578.2 152.8h0M592.9 152.7h0M346.7 155.9h0M350.4 156.1h0M354.7 155.8h0M357.9 155.6h0M383.7 156.1h0M395.0 156.0h0M406.4 155.6h0M409.7 156.4h0M417.3 156.4h0M420.9 156.2h0M432.6 155.9h0M450.3 155.6h0M453.9 156.5h0M461.5 156.5h0M469.0 155.8h0M476.2 155.7h0M480.4 155.8h0M487.2 155.6h0M513.1 155.9h0M524.6 156.5h0M531.9 156.0h0M554.0 156.0h0M558.1 155.7h0M572.7 156.0h0M580.2 155.7h0M583.7 156.2h0M587.5 156.2h0M345.0 159.7h0M348.4 159.3h0M352.9 159.7h0M356.0 159.6h0M363.9 159.5h0M374.3 159.2h0M378.9 158.8h0M389.4 159.0h0M393.5 159.1h0M408.1 159.5h0M433.6 159.7h0M437.4 159.7h0M441.4 159.0h0M445.0 159.7h0M449.1 159.4h0M452.7 158.9h0M456.1 158.8h0M460.0 159.2h0M474.8 159.2h0M478.2 159.2h0M482.2 159.1h0M496.4 159.5h0M507.8 159.3h0M511.8 159.1h0M515.1 159.5h0M522.5 158.9h0M526.7 159.1h0M533.9 158.9h0M537.6 158.8h0M548.7 159.5h0M556.4 159.2h0M578.2 159.2h0M586.0 159.7h0M339.4 162.5h0M343.2 162.9h0M346.6 162.6h0M373.2 162.2h0M376.2 162.2h0M410.2 162.5h0M417.4 162.4h0M432.4 162.7h0M435.4 162.5h0M439.3 162.0h0M446.7 162.1h0M458.2 162.6h0M476.2 162.1h0M495.4 162.4h0M502.6 162.4h0M510.0 162.9h0M517.1 162.8h0M543.4 162.3h0M546.7 162.5h0M550.5 162.7h0M561.6 162.9h0M565.6 162.0h0M568.8 162.0h0M572.6 162.4h0M587.2 162.6h0M595.3 162.6h0M598.9 162.7h0M602.2 162.7h0M338.1 165.9h0M345.1 165.6h0M348.7 165.4h0M352.8 165.2h0M360.3 165.7h0M371.0 166.1h0M389.9 165.7h0M404.3 166.1h0M408.1 166.0h0M422.6 165.8h0M433.9 166.2h0M437.2 165.9h0M441.8 165.4h0M456.0 166.0h0M463.8 166.1h0M467.0 166.2h0M474.5 165.5h0M478.5 165.4h0M500.7 165.8h0M508.2 165.4h0M511.8 165.7h0M519.3 166.0h0M526.4 165.8h0M534.0 165.2h0M541.8 165.5h0M549.2 165.4h0M552.1 165.3h0M559.3 165.3h0M563.3 165.6h0M567.3 165.7h0M601.0 166.0h0M336.0 168.6h0M339.3 168.5h0M350.4 168.6h0M361.4 169.3h0M373.0 169.4h0M391.9 169.1h0M409.7 169.0h0M417.5 169.2h0M424.6 169.3h0M431.8 169.0h0M435.7 168.5h0M440.0 169.0h0M443.5 168.8h0M462.2 168.6h0M473.2 168.9h0M483.8 168.4h0M491.2 168.6h0M502.5 169.2h0M516.8 168.5h0M528.2 168.5h0M539.4 168.5h0M543.6 169.2h0M550.6 169.2h0M554.7 169.1h0M557.6 168.7h0M568.7 168.7h0M572.4 169.1h0M580.1 169.4h0M341.8 172.5h0M349.3 172.1h0M353.1 171.8h0M363.6 172.2h0M374.6 172.0h0M379.0 172.6h0M386.4 172.5h0M389.1 172.3h0M396.7 172.1h0M400.5 172.1h0M404.0 171.8h0M407.8 172.0h0M422.5 172.0h0M426.9 171.8h0M434.3 172.5h0M437.5 172.4h0M452.7 172.4h0M456.6 172.3h0M460.4 172.1h0M463.5 171.7h0M471.1 172.4h0M478.3 171.9h0M481.8 172.4h0M493.0 172.0h0M501.0 171.8h0M504.5 172.4h0M507.6 171.9h0M515.5 172.5h0M526.3 171.8h0M529.8 172.5h0M541.4 171.8h0M544.7 171.7h0M548.3 172.2h0M555.8 172.0h0M560.3 172.5h0M570.7 172.4h0M589.7 172.5h0M350.6 175.8h0M354.9 175.2h0M358.5 175.5h0M361.8 175.2h0M376.5 175.0h0M402.5 175.2h0M406.1 175.5h0M413.5 175.2h0M417.4 175.0h0M431.8 175.0h0M436.1 175.4h0M440.0 175.4h0M451.0 175.2h0M458.4 175.3h0M461.8 175.7h0M465.7 175.8h0M472.8 175.3h0M483.9 174.9h0M488.0 175.1h0M491.0 175.5h0M495.1 174.9h0M498.8 175.7h0M505.9 175.6h0M509.5 175.3h0M513.2 174.9h0M517.2 175.2h0M521.4 175.6h0M525.1 175.0h0M532.1 175.8h0M539.4 175.4h0M558.1 175.6h0M561.6 175.4h0M573.1 175.2h0M576.7 175.1h0M583.9 175.5h0M587.1 175.2h0M341.3 178.1h0M360.2 179.0h0M364.2 178.3h0M371.3 178.7h0M378.2 178.6h0M389.3 178.2h0M396.9 178.5h0M401.1 178.9h0M408.4 178.5h0M423.1 178.1h0M438.0 178.1h0M445.4 178.9h0M460.2 179.0h0M478.0 179.0h0M485.5 178.4h0M496.6 178.6h0M504.8 178.5h0M529.7 178.6h0M541.2 178.9h0M555.6 178.9h0M567.0 178.9h0M570.7 178.7h0M578.0 178.9h0M589.2 179.0h0M600.2 178.1h0M340.1 181.4h0M354.6 182.0h0M358.6 181.7h0M361.5 181.7h0M365.4 181.4h0M372.8 181.6h0M410.2 182.2h0M428.0 181.5h0M432.3 181.8h0M439.7 181.9h0M451.0 181.6h0M461.5 181.9h0M465.7 182.0h0M473.1 182.0h0M480.0 182.2h0M483.7 181.5h0M499.2 181.3h0M521.2 182.2h0M525.0 182.1h0M528.3 181.6h0M532.2 182.1h0M539.9 181.8h0M550.5 181.7h0M558.4 181.3h0M569.2 181.9h0M580.2 182.1h0M587.5 181.7h0M356.5 184.9h0M363.8 184.6h0M393.4 185.4h0M396.7 184.7h0M433.9 184.6h0M437.3 184.7h0M441.1 184.6h0M456.6 185.3h0M466.8 184.8h0M475.2 185.1h0M478.6 185.1h0M481.7 184.9h0M496.6 184.8h0M508.1 185.2h0M522.5 185.0h0M526.4 185.1h0M530.6 184.6h0M533.8 185.4h0M540.8 184.5h0M548.6 184.8h0M556.4 185.2h0M560.1 184.6h0M578.7 184.6h0M582.0 185.1h0M589.5 185.4h0M593.3 184.8h0M600.2 185.0h0M343.8 187.7h0M347.2 188.4h0M354.3 188.0h0M357.9 188.7h0M361.7 188.7h0M376.5 188.5h0M380.6 187.9h0M384.0 188.7h0M402.7 188.1h0M409.7 188.2h0M413.9 188.4h0M417.0 188.3h0M432.5 188.6h0M435.8 187.8h0M439.6 188.4h0M443.1 188.3h0M450.5 188.4h0M454.1 188.6h0M465.7 188.5h0M484.4 188.2h0M487.4 187.9h0M491.1 187.9h0M495.5 187.8h0M499.0 188.6h0M502.8 188.3h0M505.8 187.7h0M517.5 188.0h0M539.3 188.5h0M543.4 188.6h0M561.5 187.8h0M568.6 188.3h0M572.7 188.0h0M576.7 188.7h0M594.8 188.5h0M601.9 188.2h0M338.1 191.1h0M341.4 191.3h0M348.5 191.3h0M352.5 191.3h0M356.0 191.0h0M363.5 191.5h0M367.1 191.7h0M374.6 191.4h0M386.0 191.9h0M393.4 191.6h0M397.0 191.8h0M407.8 191.4h0M415.2 191.6h0M419.6 191.4h0M434.3 191.0h0M437.6 191.3h0M445.1 191.6h0M456.6 191.7h0M459.9 191.7h0M467.6 191.9h0M478.0 191.7h0M485.7 191.5h0M496.7 191.4h0M500.6 191.0h0M504.2 190.9h0M511.4 191.9h0M522.5 191.1h0M533.5 191.2h0M537.4 191.6h0M567.6 191.6h0M571.0 191.1h0M577.9 191.4h0M600.0 191.3h0M335.6 194.4h0M339.8 194.7h0M343.1 195.0h0M358.2 194.5h0M362.1 194.4h0M369.4 194.4h0M380.8 194.5h0M383.7 194.8h0M387.5 194.2h0M391.6 194.2h0M413.5 195.0h0M428.8 194.3h0M431.9 194.5h0M439.6 195.1h0M450.8 194.8h0M454.5 194.2h0M465.9 194.8h0M472.7 195.0h0M483.6 195.0h0M491.1 194.2h0M494.9 194.7h0M498.7 194.7h0M502.8 194.9h0M520.8 194.7h0M525.0 194.2h0M528.3 194.4h0M532.3 194.9h0M543.3 194.8h0M561.4 195.1h0M579.8 194.9h0M583.9 194.6h0M591.1 194.7h0M345.4 197.4h0M356.2 197.8h0M363.9 197.5h0M370.9 197.6h0M374.7 198.2h0M411.6 198.1h0M423.0 198.4h0M448.9 198.0h0M452.9 198.1h0M456.5 197.5h0M471.2 197.8h0M481.8 197.7h0M503.9 197.6h0M515.0 197.4h0M518.8 197.8h0M534.1 198.1h0M541.5 197.7h0M563.2 197.7h0M567.5 198.1h0M578.6 197.8h0M593.6 197.4h0M600.2 198.1h0M354.6 200.9h0M377.1 201.3h0M380.8 201.0h0M428.0 200.7h0M435.7 200.9h0M443.2 201.3h0M550.8 201.0h0M554.2 201.3h0M587.2 200.8h0M602.7 201.4h0M337.6 204.7h0M352.2 204.8h0M366.9 204.7h0M370.9 204.4h0M401.0 204.5h0M404.3 204.3h0M412.2 203.9h0M430.8 204.3h0M459.9 204.5h0M475.0 204.3h0M489.8 204.5h0M515.9 204.2h0M519.4 204.6h0M527.0 204.1h0M552.3 204.6h0M559.8 204.3h0M589.6 204.4h0M596.4 204.7h0M600.2 204.7h0M340.1 207.9h0M350.6 207.6h0M357.7 207.1h0M361.9 207.2h0M369.0 207.6h0M387.7 208.0h0M398.5 207.2h0M405.9 207.3h0M443.5 207.4h0M458.5 207.9h0M469.5 207.9h0M487.9 207.2h0M498.5 207.9h0M513.6 208.0h0M520.8 207.8h0M542.8 207.6h0M551.0 207.4h0M554.5 207.1h0M573.1 207.3h0M576.9 207.6h0M587.9 207.9h0M591.5 207.3h0M363.6 210.7h0M371.3 211.1h0M382.0 210.5h0M389.1 210.7h0M408.1 210.6h0M411.6 211.2h0M415.2 210.5h0M419.6 211.2h0M426.3 210.6h0M433.9 210.9h0M444.9 211.0h0M448.7 210.3h0M456.0 211.2h0M459.8 210.7h0M467.6 210.4h0M474.8 210.6h0M486.1 210.6h0M493.5 210.9h0M500.5 210.3h0M504.3 211.0h0M515.1 210.5h0M519.5 210.6h0M526.0 210.5h0M541.7 211.1h0M571.2 210.2h0M574.5 211.0h0M578.1 210.9h0M593.2 211.1h0M600.8 211.1h0M335.7 214.1h0M343.0 214.3h0M354.5 214.1h0M361.7 214.4h0M365.5 213.9h0M402.5 214.0h0M409.6 214.2h0M414.0 213.6h0M424.7 214.3h0M436.3 214.4h0M447.0 213.8h0M454.7 214.3h0M468.7 213.8h0M472.8 214.0h0M487.5 214.1h0M498.3 213.6h0M524.5 213.8h0M539.0 213.8h0M557.9 213.9h0M565.3 213.5h0M576.2 213.5h0M584.2 213.8h0M587.5 214.3h0M594.8 213.5h0M598.5 214.3h0M602.5 214.0h0M341.7 217.0h0M360.2 217.0h0M385.8 217.3h0M389.8 217.2h0M415.0 217.1h0M419.2 217.6h0M422.7 217.5h0M444.8 217.6h0M449.1 217.4h0M452.9 216.7h0M475.2 216.8h0M482.1 217.5h0M493.5 216.7h0M504.2 217.2h0M511.7 217.6h0M563.5 216.7h0M566.8 216.8h0M571.1 216.8h0M589.1 216.7h0M600.4 217.5h0M354.6 220.2h0M387.7 220.2h0M446.5 220.2h0M450.4 220.6h0M565.1 220.6h0M563.5 114.9h0M563.2 109.9h0M352.5 218.6h0M349.3 220.8h0M349.0 225.9h0M454.1 120.1h0M457.2 120.1h0M455.7 115.1h0M456.7 113.3h0M476.0 218.4h0M477.4 221.0h0M475.6 223.2h0M507.6 109.3h0M509.0 107.6h0M343.2 220.1h0M339.5 221.9h0M340.2 224.7h0M457.0 119.7h0M497.5 218.2h0M575.6 119.2h0M407.2 213.9h0M478.2 117.5h0M479.0 113.6h0M477.5 110.2h0M480.2 110.2h0M560.1 216.3h0M560.8 221.2h0M593.0 114.2h0M592.3 111.8h0M555.7 216.3h0M558.3 216.3h0M557.3 219.0h0M401.5 117.5h0M404.7 117.5h0M401.6 115.3h0M404.3 115.3h0M401.9 111.9h0M404.2 111.9h0M413.6 222.7h0M473.1 115.9h0M477.2 115.9h0M474.1 113.6h0M477.0 113.6h0M474.8 110.7h0M387.7 114.5h0M387.3 109.9h0M448.8 220.9h0M448.8 224.1h0M565.4 114.5h0M567.4 111.8h0M566.7 109.6h0M567.0 107.4h0M589.8 221.9h0M520.9 214.4h0M521.5 217.5h0M358.9 116.3h0M361.4 116.3h0M498.8 215.8h0M348.7 113.4h0M348.8 109.3h0M389.0 223.7h0M404.5 117.9h0M403.4 115.0h0M406.9 115.0h0M406.4 113.1h0M404.8 110.0h0M596.7 222.4h0M600.0 225.3h0M590.2 111.0h0M593.6 111.0h0M590.3 108.7h0M592.9 108.7h0M569.2 220.3h0M434.9 116.4h0M431.6 111.5h0M435.6 111.5h0M586.1 220.7h0M520.1 114.2h0M446.2 226.8h0M449.2 226.8h0M448.5 228.9h0M575.1 112.9h0M577.9 112.9h0M468.6 218.6h0M471.0 218.6h0M470.5 221.0h0M413.4 115.3h0M416.1 112.7h0M516.7 219.0h0M410.7 110.1h0M443.7 219.2h0M444.0 222.0h0M443.1 224.3h0M404.8 118.1h0M406.1 115.7h0M406.3 110.9h0M481.7 220.5h0M373.3 117.4h0M373.0 115.4h0M513.8 217.8h0M402.0 116.6h0M404.0 115.3h0M403.1 112.1h0M490.7 217.2h0M490.4 220.0h0M437.5 114.7h0M436.7 109.5h0M440.5 109.5h0M448.7 224.3h0M460.5 117.6h0M362.8 219.3h0M360.0 222.8h0M362.9 222.8h0M494.6 113.7h0M395.6 224.8h0M516.0 117.3h0M373.9 118.1h0M375.3 114.8h0M373.3 112.4h0M503.4 220.4h0M506.9 223.8h0M517.6 221.3h0M421.4 118.9h0M418.4 114.1h0M417.5 111.0h0M420.6 111.0h0M600.3 114.8h0M599.1 111.7h0M581.1 116.7h0M584.8 116.7h0M453.9 216.8h0M453.0 220.0h0M455.2 220.0h0M571.9 119.6h0M575.2 119.6h0M573.0 118.3h0M487.9 219.8h0M485.9 221.5h0M487.2 224.2h0M393.2 120.3h0M462.7 214.6h0M464.5 217.0h0M378.5 114.3h0M521.1 117.8h0M558.2 117.7h0M460.2 120.3h0M565.7 124.1h0M569.5 124.1h0M345.4 126.9h0M453.0 127.5h0M466.9 126.9h0M600.1 127.5h0M362.3 129.9h0M384.0 129.8h0M484.0 130.1h0M509.8 130.2h0M374.5 133.3h0M433.8 133.5h0M515.4 133.3h0M361.9 136.6h0M480.4 136.7h0M539.6 136.7h0M554.7 137.0h0M345.0 139.6h0M378.6 139.8h0M460.2 140.3h0M417.5 142.9h0M436.0 142.8h0M587.1 143.5h0M389.8 146.1h0M478.7 146.3h0M481.8 146.6h0M489.9 146.3h0M497.2 146.5h0M585.3 146.4h0M469.1 149.9h0M495.1 149.2h0M524.7 149.8h0M532.0 149.4h0M580.2 149.3h0M381.7 152.9h0M427.0 153.2h0M493.3 153.3h0M508.1 153.2h0M529.9 152.7h0M560.1 153.1h0M361.8 155.5h0M376.4 156.5h0M402.5 155.7h0M425.0 155.6h0M465.1 155.6h0M568.9 155.6h0M404.6 159.5h0M485.3 159.4h0M493.2 159.3h0M567.3 159.0h0M570.7 159.6h0M357.7 162.7h0M380.5 162.4h0M384.0 162.5h0M387.3 162.4h0M461.3 162.8h0M499.2 162.6h0M528.3 162.0h0M411.6 165.9h0M427.0 166.1h0M430.7 165.3h0M470.8 165.4h0M481.9 165.5h0M515.1 166.1h0M537.7 165.4h0M578.8 165.3h0M592.9 165.4h0M596.5 165.5h0M358.5 168.7h0M380.4 169.4h0M428.6 169.1h0M495.0 168.9h0M525.0 169.3h0M531.6 169.2h0M591.3 168.8h0M371.6 171.8h0M393.6 171.8h0M412.0 172.2h0M419.1 172.5h0M441.6 172.2h0M467.4 171.7h0M497.0 171.7h0M365.1 174.9h0M384.3 175.7h0M420.7 175.1h0M528.4 175.8h0M535.9 175.1h0M344.8 178.6h0M367.2 178.6h0M433.9 178.4h0M441.8 179.0h0M515.5 178.5h0M552.0 178.6h0M574.6 178.9h0M596.6 179.0h0M383.7 181.8h0M388.1 181.6h0M395.5 182.1h0M494.7 181.5h0M502.8 182.1h0M547.3 181.6h0M583.5 182.1h0M594.8 181.9h0M599.1 181.3h0M382.3 185.4h0M407.9 184.6h0M411.5 184.6h0M493.1 184.6h0M563.6 185.1h0M369.7 188.4h0M406.3 188.3h0M421.4 188.1h0M428.0 188.3h0M554.4 188.1h0M449.2 191.1h0M463.1 191.9h0M519.1 191.1h0M559.4 191.7h0M593.4 191.5h0M376.7 194.5h0M402.1 194.9h0M421.5 194.7h0M506.6 195.1h0M535.4 194.8h0M554.7 194.8h0M489.6 197.6h0M548.3 197.6h0M570.8 198.1h0M336.1 200.8h0M350.3 201.0h0M395.2 201.3h0M410.3 200.9h0M480.5 200.7h0M341.2 204.8h0M356.3 203.9h0M545.1 204.4h0M567.2 204.0h0M335.8 207.0h0M472.9 207.3h0M502.9 207.4h0M337.6 211.0h0M341.9 210.3h0M360.4 210.5h0M386.4 210.4h0M393.4 210.7h0M438.1 211.1h0M439.8 214.0h0M547.3 214.3h0M434.4 216.9h0M518.8 217.5h0M537.6 217.6h0M480.7 220.2h0M349.8 218.6h0M351.9 220.8h0M351.0 223.0h0M455.7 117.7h0M454.2 113.3h0M474.7 221.0h0M505.7 111.5h0M343.5 221.9h0M343.1 224.7h0M454.1 119.7h0M501.2 216.7h0M501.1 221.2h0M574.8 116.7h0M404.2 213.9h0M481.3 117.5h0M561.4 218.5h0M556.0 220.6h0M412.6 225.0h0M447.2 226.5h0M480.0 115.4h0M500.8 218.8h0M349.0 116.1h0M348.4 112.1h0M387.0 221.2h0M385.9 223.7h0M403.3 113.1h0M597.3 220.4h0M591.4 114.0h0M591.2 106.5h0M432.4 116.4h0M432.3 109.2h0M434.6 109.2h0M584.6 215.6h0M586.8 215.6h0M585.5 217.6h0M576.8 117.9h0M576.9 115.8h0M576.3 111.0h0M417.0 115.3h0M413.1 112.7h0M516.4 221.3h0M518.7 221.3h0M409.3 113.1h0M408.2 110.1h0M404.4 113.2h0M485.0 220.5h0M482.0 223.3h0M482.7 225.6h0M370.7 119.5h0M372.7 119.5h0M401.2 115.3h0M438.5 112.8h0M448.1 221.2h0M360.2 219.3h0M492.2 115.4h0M495.3 115.4h0M396.5 217.7h0M395.5 219.4h0M516.1 114.7h0M543.0 219.5h0M544.3 223.8h0M504.1 223.8h0M466.5 115.0h0M516.7 218.5h0M419.2 115.4h0M342.8 215.3h0M346.3 215.3h0M344.4 217.5h0M342.4 219.4h0M346.4 219.4h0M597.8 114.8h0M598.5 220.9h0M581.1 113.7h0M584.9 113.7h0M485.6 219.8h0M488.2 221.5h0M382.2 120.3h0M400.6 120.7h0M411.9 120.6h0M492.8 120.4h0M537.3 120.8h0M600.5 120.9h0M376.8 124.2h0M347.3 130.2h0M435.7 130.7h0M525.1 129.8h0M576.0 130.7h0M411.9 133.2h0M335.8 136.5h0M517.1 136.8h0M568.6 136.6h0M404.2 139.6h0M433.9 139.8h0M500.9 139.6h0M541.0 139.8h0M491.5 143.6h0M385.7 146.4h0M426.6 145.9h0M485.5 146.0h0M560.1 146.8h0M351.1 150.0h0M553.9 149.6h0M337.5 152.6h0M433.9 153.2h0M467.2 153.0h0M343.6 155.8h0M366.0 155.9h0M594.5 155.8h0M360.2 158.9h0M411.5 159.4h0M463.1 159.2h0M470.8 158.9h0M563.4 158.7h0M589.0 159.6h0M335.5 162.6h0M361.6 162.6h0M472.8 162.5h0M364.1 166.0h0M378.7 165.9h0M504.5 165.3h0M421.2 169.3h0M480.4 169.1h0M547.2 169.4h0M583.9 169.2h0M382.0 171.8h0M578.2 172.4h0M369.4 175.8h0M380.7 175.2h0M410.4 175.4h0M442.9 175.3h0M502.8 175.1h0M411.4 178.6h0M474.7 178.7h0M526.7 178.7h0M544.9 178.3h0M585.8 178.5h0M554.2 181.8h0M572.5 181.3h0M576.5 181.5h0M602.2 182.2h0M341.4 185.0h0M359.9 184.6h0M404.5 185.5h0M426.1 185.0h0M459.5 185.1h0M537.6 184.6h0M544.5 184.9h0M387.3 188.2h0M480.6 188.2h0M565.4 188.6h0M587.9 188.6h0M404.2 191.2h0M575.0 191.2h0M347.5 194.7h0M417.3 194.8h0M602.5 194.4h0M393.4 198.1h0M438.2 197.4h0M444.9 198.2h0M448.5 204.8h0M508.4 204.0h0M548.9 204.8h0M365.2 207.2h0M350.8 214.0h0M387.7 214.2h0M554.1 214.3h0M400.2 217.5h0M508.2 216.8h0M343.1 117.8h0M376.8 116.9h0M380.1 117.2h0M383.8 117.2h0M337.4 120.7h0M344.9 120.8h0M360.1 121.1h0M364.0 120.2h0M371.0 120.8h0M378.4 120.7h0M396.9 120.4h0M418.7 120.9h0M448.9 120.5h0M512.2 120.3h0M515.6 120.4h0M549.1 120.9h0M560.3 120.6h0M563.7 121.0h0M357.8 124.2h0M361.7 123.4h0M373.3 123.9h0M387.3 123.8h0M409.9 123.5h0M417.3 124.2h0M420.7 123.3h0M425.0 123.4h0M428.1 123.9h0M458.0 123.7h0M473.3 124.3h0M502.3 123.4h0M513.4 124.2h0M524.2 124.2h0M561.4 123.4h0M591.5 123.6h0M356.6 126.6h0M386.4 127.1h0M397.5 126.6h0M400.9 127.4h0M408.1 126.7h0M415.1 126.7h0M419.3 126.6h0M426.9 126.8h0M433.6 126.8h0M437.9 127.2h0M441.4 127.2h0M448.8 126.7h0M471.3 127.4h0M474.5 127.1h0M526.9 127.5h0M548.8 127.4h0M567.5 127.5h0M574.7 127.3h0M593.3 126.7h0M343.5 129.9h0M357.9 130.3h0M387.7 130.6h0M402.7 130.2h0M417.0 129.8h0M424.4 130.4h0M447.2 130.2h0M450.3 130.2h0M469.4 130.4h0M472.4 130.2h0M502.4 130.6h0M513.6 130.2h0M546.7 129.8h0M550.2 130.2h0M591.7 130.1h0M594.9 130.4h0M345.0 133.1h0M378.8 133.3h0M389.4 133.5h0M415.6 133.3h0M423.4 133.8h0M429.9 133.2h0M448.7 133.3h0M463.9 133.7h0M474.5 133.1h0M482.4 133.6h0M485.3 133.6h0M496.8 133.9h0M500.4 133.9h0M508.1 133.4h0M548.9 133.5h0M342.9 136.3h0M354.8 137.0h0M365.7 136.8h0M369.7 137.1h0M376.3 136.5h0M384.1 136.4h0M387.6 136.4h0M413.5 136.3h0M417.6 136.6h0M425.2 136.8h0M428.7 136.6h0M432.5 137.1h0M462.0 136.3h0M472.7 136.3h0M476.6 136.8h0M484.1 136.7h0M495.0 136.3h0M498.8 136.7h0M506.0 136.8h0M535.6 137.1h0M572.8 136.7h0M576.8 136.5h0M579.7 136.8h0M583.6 136.5h0M367.7 139.4h0M371.3 139.7h0M382.1 139.7h0M386.2 139.8h0M389.6 139.9h0M489.0 140.2h0M492.8 139.9h0M511.9 140.4h0M526.2 140.0h0M534.1 139.7h0M555.9 139.5h0M571.3 139.7h0M574.3 139.6h0M581.5 139.5h0M593.3 139.7h0M395.3 143.3h0M399.0 143.5h0M446.6 143.4h0M557.8 143.1h0M561.9 143.5h0M568.6 143.4h0M337.5 198.0h0M353.0 198.0h0M382.4 197.4h0M390.0 198.0h0M400.7 197.6h0M404.6 198.3h0M408.4 198.1h0M430.2 198.3h0M434.1 198.2h0M460.3 198.0h0M466.9 197.4h0M475.1 197.8h0M478.1 198.2h0M485.9 197.8h0M501.0 198.1h0M508.0 197.7h0M511.5 197.7h0M530.3 198.2h0M538.1 198.0h0M545.0 198.1h0M555.8 197.9h0M589.9 198.1h0M358.0 201.5h0M361.8 201.1h0M372.6 201.0h0M383.8 201.1h0M388.0 200.7h0M391.4 201.2h0M402.7 200.9h0M406.3 200.9h0M432.6 201.3h0M446.9 201.1h0M450.5 200.7h0M457.8 201.5h0M462.2 200.9h0M465.9 201.2h0M476.8 201.5h0M487.5 200.7h0M491.6 200.8h0M495.3 200.8h0M499.1 200.8h0M502.1 200.9h0M505.9 200.8h0M509.8 200.8h0M528.2 201.4h0M532.5 201.3h0M539.1 201.3h0M543.1 201.4h0M557.8 201.0h0M561.4 200.7h0M565.2 201.4h0M580.6 200.9h0M584.2 201.5h0M591.0 201.2h0M598.8 201.5h0M345.5 204.1h0M348.9 204.7h0M360.3 204.0h0M374.3 203.9h0M382.7 204.6h0M385.8 204.0h0M389.1 204.2h0M393.1 203.9h0M415.8 204.6h0M418.8 204.2h0M426.8 204.2h0M434.4 204.2h0M438.2 204.3h0M444.8 204.8h0M452.7 203.9h0M478.2 204.2h0M481.7 203.9h0M485.9 204.5h0M497.3 204.7h0M522.5 204.6h0M538.1 204.4h0M563.7 204.3h0M578.5 204.2h0M582.4 203.9h0M586.1 204.2h0M354.3 207.2h0M376.9 208.0h0M391.9 207.3h0M394.9 207.7h0M410.3 207.6h0M414.0 207.4h0M417.5 207.4h0M420.8 207.1h0M428.2 207.7h0M432.2 207.7h0M435.6 207.9h0M439.5 207.6h0M465.5 207.3h0M476.4 207.7h0M480.3 207.9h0M491.7 208.0h0M494.7 207.1h0M505.7 207.4h0M524.5 207.2h0M528.2 207.3h0M531.7 207.6h0M539.7 207.1h0M546.5 207.7h0M558.1 207.9h0M561.4 207.8h0M565.0 207.9h0M579.7 207.8h0M584.0 207.8h0M595.4 207.8h0M598.3 207.6h0M348.8 210.3h0M356.3 210.6h0M378.5 210.3h0M400.7 210.6h0M404.7 211.0h0M430.6 211.0h0M441.6 210.3h0M452.7 210.7h0M464.0 210.6h0M482.4 211.1h0M496.9 210.3h0M508.3 210.3h0M530.7 211.1h0M534.2 210.3h0M537.7 210.7h0M549.1 211.0h0M552.0 210.6h0M556.3 210.6h0M563.6 210.6h0M567.4 210.5h0M596.9 210.7h0M398.8 213.6h0M417.4 213.8h0M462.1 213.5h0M480.2 214.4h0M483.7 214.0h0M502.7 214.1h0M505.9 213.6h0M510.1 213.9h0M517.6 213.7h0M520.8 214.3h0M535.7 214.3h0M550.4 213.5h0M561.9 213.5h0M579.7 214.2h0M590.9 213.7h0M352.4 225.9h0M475.3 225.4h0M340.6 217.1h0M342.5 217.1h0M500.9 218.2h0M498.2 221.2h0M405.8 217.0h0M559.5 218.5h0M559.2 220.6h0M411.8 220.6h0M414.2 220.6h0M600.8 220.0h0M450.5 226.5h0M589.9 225.9h0M523.9 214.4h0M523.8 217.5h0M497.9 218.8h0M389.3 221.2h0M387.9 226.9h0M570.0 222.7h0M449.5 223.9h0M446.3 224.3h0M484.7 223.3h0M488.7 214.5h0M492.2 214.5h0M488.9 222.1h0M491.3 222.1h0M394.6 222.6h0M542.9 221.8h0M454.0 222.1h0M486.4 217.0h0M466.0 214.6h0" stroke="#336a72" stroke-width="3.9" stroke-linecap="round" fill="none"/>
<path d="M352.1 113.6h0M470.6 113.5h0M350.5 116.7h0M353.6 117.1h0M364.7 117.1h0M390.8 117.3h0M401.8 117.0h0M424.7 117.3h0M435.2 116.8h0M439.5 116.7h0M464.8 117.4h0M468.9 116.5h0M475.6 117.3h0M483.3 116.7h0M494.9 116.8h0M528.1 116.5h0M535.4 117.2h0M539.0 117.4h0M543.0 116.9h0M553.7 117.0h0M561.4 117.0h0M564.6 116.5h0M587.2 117.0h0M602.0 116.9h0M367.1 120.5h0M374.2 120.2h0M385.8 120.2h0M389.5 120.6h0M407.8 119.9h0M426.1 120.4h0M433.1 120.2h0M437.6 120.3h0M441.3 120.1h0M451.9 120.1h0M455.4 119.9h0M462.9 120.4h0M467.1 120.2h0M477.5 120.5h0M481.2 119.8h0M489.4 120.4h0M504.1 120.1h0M507.5 120.4h0M518.2 120.6h0M526.4 120.4h0M552.4 119.7h0M584.9 119.7h0M342.7 123.8h0M346.3 123.6h0M350.0 123.2h0M354.4 123.2h0M398.2 123.1h0M402.1 123.6h0M405.6 123.8h0M412.9 123.2h0M435.2 123.5h0M446.2 123.2h0M449.9 123.1h0M468.6 123.0h0M476.0 123.5h0M480.0 123.7h0M486.9 123.1h0M490.7 123.4h0M527.8 123.2h0M531.9 123.0h0M538.5 123.7h0M546.7 123.1h0M572.2 122.9h0M576.1 123.2h0M579.7 123.5h0M586.6 123.8h0M337.7 126.8h0M348.8 126.5h0M363.2 126.6h0M370.4 126.2h0M374.2 127.1h0M422.9 126.5h0M429.4 126.6h0M463.6 126.7h0M477.9 127.0h0M496.3 126.6h0M507.1 127.0h0M511.0 126.4h0M529.9 126.3h0M533.8 126.7h0M537.5 127.0h0M555.5 126.6h0M559.6 127.0h0M563.5 127.1h0M578.1 126.2h0M588.5 126.5h0M596.3 126.4h0M350.5 129.9h0M353.9 129.5h0M365.1 130.0h0M369.1 130.1h0M391.3 129.7h0M398.9 130.3h0M405.6 129.8h0M409.4 130.0h0M412.9 130.1h0M420.6 129.4h0M442.8 129.8h0M454.2 129.6h0M457.1 129.7h0M461.6 130.2h0M464.9 129.8h0M476.0 129.3h0M498.8 129.8h0M505.7 129.8h0M517.2 129.7h0M520.4 129.9h0M527.8 129.6h0M539.4 129.8h0M553.8 129.6h0M557.9 130.1h0M564.7 129.4h0M586.9 130.3h0M601.6 129.4h0M355.8 133.2h0M363.6 133.0h0M381.6 133.1h0M385.2 132.8h0M393.1 132.7h0M396.1 132.7h0M400.3 133.4h0M404.1 132.7h0M407.5 132.6h0M455.4 132.7h0M459.0 132.8h0M467.0 132.8h0M470.3 132.9h0M478.2 132.9h0M488.8 133.4h0M493.2 133.2h0M511.2 132.9h0M518.8 133.5h0M522.8 132.7h0M525.6 132.9h0M529.6 132.8h0M536.7 132.6h0M540.8 133.3h0M544.8 133.4h0M551.9 133.5h0M555.8 133.0h0M563.2 133.2h0M567.1 133.0h0M570.6 133.4h0M573.9 133.4h0M581.2 133.5h0M585.0 133.2h0M600.2 133.2h0M346.6 136.3h0M372.6 136.7h0M379.6 135.8h0M398.1 135.9h0M435.9 136.7h0M446.9 136.4h0M450.5 136.7h0M458.0 136.1h0M465.3 136.6h0M469.1 136.2h0M524.3 135.8h0M527.8 136.3h0M542.8 135.8h0M557.9 136.1h0M587.1 136.4h0M341.5 139.4h0M356.1 139.2h0M362.8 139.8h0M374.1 139.4h0M408.1 139.7h0M411.2 139.2h0M422.9 139.0h0M430.1 139.1h0M437.2 139.5h0M448.8 139.8h0M463.1 139.9h0M478.2 139.1h0M481.2 139.1h0M485.8 139.2h0M504.3 139.5h0M507.7 139.4h0M515.3 139.4h0M537.4 139.1h0M544.4 139.3h0M548.6 139.4h0M567.1 139.7h0M577.4 139.9h0M589.0 139.9h0M600.0 139.2h0M335.9 143.2h0M339.5 142.8h0M343.1 142.6h0M346.2 142.7h0M350.7 142.4h0M354.2 143.1h0M361.7 142.9h0M365.6 142.8h0M372.9 142.6h0M376.1 142.3h0M390.6 142.7h0M402.5 142.2h0M405.8 142.5h0M409.4 143.0h0M424.7 142.6h0M439.3 142.6h0M442.5 142.9h0M453.8 143.2h0M464.8 142.8h0M472.9 142.6h0M483.2 142.5h0M487.4 142.6h0M494.6 143.1h0M498.0 142.3h0M501.9 142.9h0M509.9 142.5h0M513.2 143.0h0M520.9 142.7h0M523.9 142.7h0M527.5 142.7h0M539.1 142.6h0M546.0 143.0h0M553.6 142.4h0M572.7 143.1h0M575.6 142.4h0M579.8 142.8h0M594.3 142.6h0M598.5 142.6h0M341.0 145.5h0M344.5 145.6h0M352.3 145.7h0M355.4 146.2h0M363.0 145.4h0M366.8 145.8h0M370.6 145.9h0M382.0 145.7h0M393.1 146.1h0M403.9 146.4h0M407.8 145.5h0M415.1 145.9h0M418.4 145.9h0M430.0 145.7h0M433.2 145.6h0M437.2 145.6h0M444.8 146.4h0M456.1 145.6h0M470.1 145.8h0M492.8 145.6h0M500.5 146.1h0M529.3 146.4h0M533.1 145.7h0M537.6 145.6h0M541.2 145.6h0M556.1 146.2h0M563.1 146.2h0M566.5 145.8h0M570.1 146.2h0M573.8 145.8h0M599.9 146.0h0M339.3 149.5h0M346.1 149.6h0M360.9 148.8h0M379.7 149.1h0M390.6 149.0h0M394.6 148.8h0M398.3 149.4h0M402.2 148.8h0M413.3 149.3h0M435.2 149.0h0M446.3 149.4h0M464.9 149.0h0M476.1 149.2h0M483.7 148.9h0M487.6 148.9h0M505.3 148.9h0M509.4 149.1h0M534.9 148.9h0M546.7 149.2h0M550.2 148.8h0M557.6 149.3h0M564.4 149.6h0M575.5 149.6h0M587.2 149.4h0M590.3 148.8h0M594.2 149.6h0M598.5 148.6h0M341.1 151.8h0M345.1 152.2h0M352.2 152.6h0M359.2 152.3h0M363.2 152.0h0M366.9 152.2h0M370.8 152.0h0M374.7 152.8h0M385.6 152.6h0M389.3 152.3h0M392.7 151.9h0M400.1 152.2h0M403.9 152.2h0M415.2 152.0h0M419.2 152.7h0M422.0 152.4h0M429.9 151.9h0M441.2 152.8h0M444.4 152.8h0M448.1 152.5h0M455.8 152.2h0M459.0 152.2h0M463.4 152.4h0M477.5 152.2h0M481.7 151.9h0M485.7 152.5h0M496.4 152.1h0M503.9 152.1h0M522.4 152.2h0M541.2 152.1h0M552.0 152.8h0M555.8 152.4h0M574.4 152.1h0M581.4 152.2h0M585.3 152.3h0M588.9 152.5h0M596.1 152.7h0M600.3 152.4h0M335.2 156.1h0M338.8 155.9h0M369.3 155.2h0M372.8 155.1h0M379.5 155.5h0M386.9 155.5h0M390.7 155.3h0M398.4 155.9h0M412.8 155.4h0M427.6 155.6h0M435.5 155.5h0M439.4 156.0h0M442.8 155.3h0M446.0 155.7h0M458.0 155.4h0M472.4 155.3h0M483.6 155.7h0M491.3 155.7h0M494.3 155.4h0M498.8 155.4h0M501.9 155.6h0M505.3 155.9h0M509.8 155.4h0M517.1 155.5h0M520.6 155.8h0M528.1 155.9h0M535.0 155.8h0M539.3 155.2h0M543.1 155.4h0M546.4 155.3h0M550.0 155.2h0M561.7 155.4h0M564.5 156.0h0M576.2 155.6h0M590.3 156.0h0M598.0 155.6h0M602.4 155.2h0M336.9 159.1h0M340.6 158.7h0M367.0 158.7h0M371.1 158.5h0M382.1 159.1h0M385.7 158.7h0M396.6 158.5h0M400.2 159.1h0M414.6 158.6h0M419.2 158.4h0M422.3 158.7h0M426.1 158.7h0M430.1 158.9h0M466.4 159.0h0M489.2 159.1h0M500.2 159.1h0M504.1 159.0h0M518.5 159.1h0M530.1 158.7h0M540.4 158.5h0M544.6 158.5h0M552.3 158.9h0M559.3 158.7h0M574.1 158.3h0M581.7 158.5h0M592.8 158.4h0M596.3 158.4h0M600.2 158.5h0M350.5 162.4h0M353.5 161.9h0M365.0 162.4h0M368.6 161.7h0M391.1 162.0h0M394.4 161.6h0M398.6 161.5h0M402.0 162.1h0M405.3 162.3h0M413.2 162.1h0M420.2 162.4h0M423.8 161.6h0M428.1 162.1h0M442.4 162.3h0M450.2 161.7h0M454.0 162.3h0M464.8 162.1h0M468.3 162.2h0M479.8 162.4h0M484.0 162.1h0M487.7 162.3h0M491.0 161.9h0M505.4 161.5h0M513.4 162.0h0M521.0 162.0h0M523.8 161.7h0M531.2 162.1h0M535.6 162.4h0M539.1 162.2h0M554.0 161.5h0M557.3 162.1h0M576.1 161.8h0M580.1 162.0h0M583.3 161.9h0M590.5 162.4h0M341.5 165.2h0M355.5 165.3h0M367.0 165.2h0M374.8 164.9h0M381.5 165.4h0M385.3 165.5h0M393.0 165.2h0M396.7 165.2h0M400.5 164.8h0M414.7 165.4h0M418.7 165.6h0M444.3 165.7h0M448.2 165.0h0M452.4 165.5h0M459.8 165.0h0M485.6 165.5h0M489.2 164.9h0M493.1 165.6h0M496.8 165.6h0M522.2 165.3h0M529.4 165.3h0M544.5 165.6h0M555.8 164.9h0M570.0 165.6h0M574.4 165.0h0M581.7 165.4h0M585.2 165.1h0M588.7 164.8h0M343.4 168.2h0M346.2 168.6h0M353.9 168.0h0M365.2 168.8h0M368.3 168.6h0M375.7 168.6h0M383.8 168.3h0M387.6 168.7h0M394.7 168.2h0M398.5 168.2h0M401.7 168.1h0M406.2 168.0h0M413.7 168.4h0M446.3 168.3h0M450.3 168.4h0M454.2 168.9h0M457.2 168.8h0M464.5 168.4h0M468.5 168.7h0M475.6 168.5h0M487.2 168.9h0M498.2 168.0h0M505.8 168.8h0M509.9 168.3h0M513.5 168.2h0M520.5 168.2h0M534.9 168.4h0M560.8 168.2h0M564.4 168.9h0M575.7 168.8h0M587.5 168.6h0M594.7 168.7h0M597.8 168.2h0M601.5 168.5h0M337.4 171.4h0M344.6 171.3h0M356.2 171.2h0M360.0 171.7h0M367.0 171.8h0M415.3 172.0h0M430.3 172.0h0M444.4 171.9h0M448.2 171.5h0M474.0 171.6h0M485.8 171.2h0M489.0 171.2h0M511.7 172.0h0M518.3 172.1h0M522.4 171.2h0M533.2 172.0h0M537.0 171.3h0M551.8 171.5h0M563.4 171.9h0M566.7 171.8h0M573.8 171.9h0M581.9 171.8h0M584.9 171.8h0M592.9 171.5h0M596.0 172.1h0M599.7 171.7h0M335.4 174.9h0M339.5 175.1h0M343.4 174.5h0M346.9 174.9h0M372.9 175.1h0M387.6 174.4h0M391.5 175.2h0M394.3 174.6h0M398.4 175.0h0M424.2 175.2h0M428.1 175.1h0M446.9 174.5h0M453.7 175.4h0M468.3 175.4h0M476.0 175.2h0M479.6 174.6h0M542.3 175.2h0M546.6 174.4h0M550.2 175.3h0M554.0 174.6h0M564.7 175.3h0M568.3 175.1h0M580.2 174.9h0M590.3 174.8h0M594.4 175.4h0M598.1 175.1h0M602.2 175.3h0M337.4 178.6h0M348.1 178.5h0M352.1 178.6h0M355.6 177.8h0M374.2 178.3h0M381.6 178.2h0M385.4 178.2h0M392.9 177.7h0M404.1 178.2h0M414.6 178.0h0M419.1 178.3h0M426.6 177.8h0M430.0 177.6h0M447.9 177.8h0M452.3 177.9h0M455.7 178.2h0M462.7 177.9h0M466.6 178.6h0M470.4 178.4h0M481.7 178.0h0M488.9 178.0h0M492.9 178.3h0M500.4 177.7h0M508.0 177.7h0M510.9 178.3h0M518.4 177.8h0M522.4 178.3h0M533.6 177.8h0M537.0 178.2h0M548.0 178.1h0M559.2 177.9h0M563.0 177.7h0M581.2 178.5h0M592.8 178.0h0M336.0 181.4h0M343.3 181.4h0M346.3 181.0h0M350.8 181.2h0M368.4 181.1h0M375.9 181.4h0M379.5 181.8h0M391.2 181.8h0M398.5 181.2h0M401.8 180.9h0M405.6 181.2h0M413.1 181.6h0M417.1 181.5h0M420.2 181.6h0M424.4 181.1h0M435.0 181.8h0M443.1 181.1h0M446.7 181.7h0M454.4 181.0h0M457.8 181.5h0M468.6 181.5h0M476.6 181.3h0M486.7 180.8h0M491.1 181.7h0M505.8 181.4h0M509.9 181.5h0M513.0 181.8h0M517.0 180.9h0M534.8 181.3h0M543.0 181.3h0M561.1 181.2h0M565.1 181.6h0M590.4 181.4h0M337.0 184.7h0M344.3 184.4h0M348.8 184.5h0M352.2 184.2h0M366.6 184.5h0M370.3 184.3h0M373.9 184.4h0M377.6 185.0h0M385.0 184.5h0M389.5 184.7h0M400.0 184.3h0M414.8 184.4h0M418.9 184.3h0M422.1 184.1h0M429.7 184.4h0M444.7 184.1h0M447.9 184.7h0M451.8 184.3h0M463.1 184.6h0M470.2 184.2h0M485.8 184.3h0M489.5 184.3h0M499.7 185.0h0M504.3 185.0h0M511.6 184.1h0M515.2 184.0h0M518.5 184.3h0M551.7 184.9h0M566.4 184.7h0M570.7 184.0h0M574.2 184.3h0M585.6 184.4h0M596.8 184.7h0M335.3 188.0h0M338.8 187.8h0M350.2 187.3h0M365.6 188.0h0M372.7 188.0h0M391.0 188.0h0M394.9 187.4h0M398.5 188.1h0M424.4 187.4h0M446.6 187.9h0M457.5 187.5h0M461.1 187.8h0M469.1 188.2h0M472.0 187.3h0M475.6 187.4h0M509.0 187.7h0M513.5 187.4h0M520.8 187.8h0M524.0 188.1h0M528.1 187.6h0M531.9 187.4h0M535.3 188.0h0M546.8 188.1h0M550.1 187.6h0M557.6 187.9h0M580.2 187.9h0M583.5 188.1h0M591.1 187.3h0M598.5 187.6h0M344.7 191.3h0M359.5 191.4h0M370.4 190.5h0M377.9 190.9h0M381.6 191.1h0M389.4 190.5h0M400.6 190.9h0M411.3 190.5h0M422.3 191.0h0M426.5 191.1h0M429.8 191.1h0M441.2 191.2h0M452.0 191.1h0M470.3 191.1h0M474.3 191.5h0M481.6 190.8h0M488.8 190.6h0M492.7 190.6h0M507.2 190.6h0M514.9 190.7h0M525.6 190.9h0M530.0 191.1h0M541.1 191.3h0M544.8 191.1h0M548.5 190.6h0M551.6 191.5h0M556.0 190.7h0M562.9 191.0h0M581.3 191.0h0M585.1 191.1h0M588.7 191.1h0M596.6 190.5h0M350.3 194.6h0M353.5 193.9h0M365.2 194.1h0M372.4 194.6h0M394.3 193.8h0M397.9 193.8h0M406.1 193.7h0M409.7 194.7h0M424.2 193.9h0M434.9 194.4h0M443.1 193.9h0M446.5 194.4h0M457.5 194.5h0M461.4 194.1h0M469.0 194.0h0M476.1 193.7h0M480.2 194.6h0M487.3 193.7h0M509.7 194.5h0M513.2 194.2h0M517.2 194.1h0M539.0 193.8h0M546.8 194.7h0M550.5 194.6h0M558.0 194.0h0M564.5 194.0h0M569.1 194.4h0M572.2 194.4h0M576.4 194.4h0M587.0 194.3h0M594.8 194.5h0M598.2 193.8h0M341.2 197.5h0M348.0 197.6h0M359.1 197.5h0M366.6 197.7h0M378.0 197.0h0M385.8 197.4h0M396.7 197.0h0M415.4 197.8h0M419.2 197.1h0M426.6 197.8h0M440.6 197.9h0M462.9 197.4h0M492.8 197.0h0M496.3 197.7h0M522.6 197.1h0M526.1 197.5h0M552.4 197.2h0M558.9 197.9h0M573.9 197.4h0M581.1 197.0h0M585.7 197.2h0M596.5 197.8h0M339.1 200.4h0M342.4 200.5h0M346.4 200.2h0M365.6 200.6h0M368.6 200.5h0M398.4 200.7h0M413.3 200.2h0M416.5 200.3h0M420.8 200.3h0M424.7 200.3h0M439.3 200.7h0M453.6 200.5h0M469.0 200.6h0M472.0 200.5h0M483.4 200.5h0M512.8 200.2h0M516.8 200.7h0M520.4 200.9h0M524.7 200.4h0M534.9 200.7h0M545.9 200.4h0M568.2 200.6h0M572.6 200.7h0M576.1 200.7h0M594.8 201.0h0M363.6 203.7h0M378.5 204.0h0M396.7 203.6h0M407.3 203.5h0M422.1 203.6h0M440.5 203.5h0M455.3 203.9h0M463.4 203.7h0M466.7 203.4h0M470.6 204.2h0M492.3 204.0h0M500.4 204.1h0M503.7 204.2h0M511.1 203.6h0M530.2 203.4h0M533.5 204.2h0M541.2 203.9h0M555.9 203.7h0M570.5 203.9h0M573.7 204.2h0M592.7 203.6h0M343.3 207.5h0M346.3 207.3h0M372.5 207.2h0M379.8 207.5h0M383.1 207.1h0M402.6 207.1h0M424.7 206.9h0M446.3 207.0h0M450.3 207.0h0M454.1 207.2h0M460.8 207.3h0M483.6 207.1h0M509.6 207.2h0M516.4 206.8h0M535.1 207.1h0M568.4 206.9h0M602.3 206.7h0M344.8 210.0h0M351.8 210.5h0M367.0 210.7h0M374.8 210.0h0M396.9 210.1h0M422.6 210.6h0M470.7 210.2h0M478.3 210.5h0M488.6 209.8h0M511.5 210.7h0M522.6 210.8h0M544.7 210.4h0M559.1 209.8h0M581.5 210.8h0M585.0 210.1h0M588.9 209.9h0M339.0 213.3h0M347.0 213.8h0M357.4 213.4h0M368.6 213.8h0M372.8 213.8h0M376.5 213.2h0M379.4 213.4h0M383.5 213.3h0M391.2 213.1h0M395.0 213.4h0M405.6 213.8h0M420.2 213.1h0M428.4 213.4h0M431.9 213.7h0M442.3 213.3h0M450.1 214.0h0M457.5 213.5h0M465.3 213.5h0M476.5 213.6h0M490.8 214.0h0M495.0 213.7h0M512.9 213.9h0M528.1 213.9h0M531.5 213.8h0M542.6 213.5h0M568.4 214.0h0M572.1 213.6h0M337.0 216.9h0M351.8 216.4h0M355.7 217.1h0M362.8 216.7h0M377.7 216.7h0M411.5 217.2h0M426.4 216.3h0M455.6 216.5h0M459.9 216.9h0M471.0 216.9h0M478.4 217.1h0M485.4 217.2h0M515.0 216.3h0M530.1 216.5h0M533.1 216.4h0M541.1 216.6h0M544.7 216.7h0M573.8 216.2h0M578.1 217.0h0M592.9 217.1h0M596.0 217.1h0M413.4 219.9h0M505.8 220.0h0M538.8 219.8h0M598.5 220.1h0M602.4 220.2h0M562.1 112.6h0M507.1 114.1h0M507.8 111.1h0M505.7 107.1h0M339.1 219.7h0M454.8 116.6h0M497.3 216.2h0M573.3 118.7h0M479.2 114.9h0M556.9 223.6h0M597.0 219.6h0M597.3 222.1h0M600.7 222.1h0M387.6 112.3h0M448.8 227.6h0M568.7 114.1h0M589.0 218.2h0M589.4 223.5h0M479.1 117.5h0M358.6 117.8h0M362.0 117.8h0M388.1 228.0h0M599.7 219.9h0M599.1 221.9h0M596.9 224.8h0M566.4 219.9h0M566.0 222.3h0M567.5 224.6h0M433.2 114.3h0M519.2 116.4h0M446.5 220.7h0M446.1 223.4h0M445.7 228.5h0M518.5 218.5h0M409.3 115.5h0M403.0 115.2h0M402.2 110.4h0M370.3 117.0h0M369.5 114.9h0M513.5 220.1h0M404.5 116.1h0M439.8 114.3h0M460.8 113.6h0M397.0 222.1h0M514.1 118.7h0M517.1 118.7h0M545.0 219.0h0M545.5 221.4h0M371.3 114.4h0M506.7 219.9h0M464.8 116.9h0M468.1 116.9h0M466.4 111.2h0M466.2 109.4h0M514.2 220.8h0M417.5 118.4h0M420.3 113.6h0M598.2 116.7h0M599.2 222.0h0M583.0 117.8h0M395.5 119.9h0M394.4 117.7h0" stroke="#5ceaee" stroke-width="3.45" stroke-linecap="round" fill="none"/>
<path d="M411.4 113.5h0M504.1 114.1h0M530.0 113.7h0M589.0 113.5h0M387.0 116.6h0M409.4 116.6h0M413.6 116.6h0M443.2 116.8h0M446.6 116.8h0M472.6 117.0h0M498.3 116.9h0M502.2 116.6h0M505.4 117.2h0M531.6 117.4h0M569.0 117.1h0M591.3 116.9h0M594.8 117.1h0M597.7 117.2h0M340.6 119.8h0M348.9 119.8h0M352.5 120.2h0M355.4 120.6h0M393.0 119.9h0M404.2 119.9h0M414.7 120.2h0M422.1 120.2h0M430.2 120.4h0M444.4 120.4h0M470.5 119.7h0M473.9 119.9h0M485.6 120.5h0M496.5 120.4h0M500.6 119.9h0M521.9 119.9h0M529.8 119.9h0M533.5 120.3h0M541.0 120.6h0M544.2 120.2h0M555.9 120.2h0M566.7 119.8h0M570.1 119.8h0M573.9 120.4h0M577.4 120.2h0M581.6 120.3h0M588.6 120.4h0M592.5 120.3h0M596.5 120.0h0M335.0 123.1h0M339.3 122.9h0M364.8 123.7h0M368.8 123.4h0M379.6 123.2h0M383.2 123.7h0M390.9 123.9h0M394.4 123.6h0M431.9 122.9h0M438.8 123.0h0M442.7 123.3h0M453.9 123.5h0M461.2 123.3h0M464.8 123.6h0M483.5 123.5h0M494.3 123.4h0M498.1 123.9h0M506.2 123.4h0M509.8 123.2h0M516.5 123.7h0M520.3 123.1h0M535.3 123.5h0M542.9 123.3h0M549.8 123.8h0M554.2 123.1h0M557.5 123.3h0M583.0 123.8h0M594.2 123.2h0M598.5 123.5h0M602.3 123.4h0M341.1 127.1h0M352.4 126.5h0M359.2 126.7h0M367.4 126.8h0M378.4 127.1h0M382.0 126.9h0M389.6 126.7h0M393.1 127.0h0M404.2 127.0h0M411.7 126.8h0M444.7 126.6h0M455.3 126.2h0M459.4 126.2h0M481.4 126.7h0M485.2 126.9h0M489.3 126.7h0M492.9 126.4h0M500.3 126.2h0M504.3 126.3h0M515.2 127.0h0M518.9 126.8h0M522.5 126.4h0M540.8 126.5h0M544.3 126.3h0M551.8 126.3h0M570.3 126.5h0M581.9 126.7h0M585.0 126.3h0M335.7 129.6h0M338.9 129.6h0M372.8 130.0h0M375.7 130.1h0M379.8 129.9h0M394.9 130.1h0M428.1 130.0h0M431.9 129.5h0M438.8 129.4h0M480.1 130.2h0M487.5 129.5h0M490.8 130.0h0M494.8 129.4h0M532.0 129.8h0M535.7 129.5h0M543.1 129.9h0M561.3 130.0h0M568.2 129.9h0M572.0 129.7h0M579.3 130.3h0M583.5 129.9h0M598.4 129.5h0M337.6 133.1h0M340.9 132.9h0M348.8 133.0h0M352.5 133.4h0M359.9 132.7h0M366.9 133.0h0M370.7 132.7h0M419.0 133.0h0M426.0 133.3h0M437.0 132.7h0M440.5 132.5h0M444.5 132.8h0M452.3 133.2h0M504.2 133.2h0M533.1 133.5h0M559.1 132.9h0M577.8 133.3h0M588.5 133.0h0M592.7 133.5h0M596.5 132.7h0M339.0 136.6h0M350.1 136.7h0M358.1 135.8h0M391.3 136.0h0M394.2 136.0h0M402.1 136.2h0M405.7 136.1h0M409.6 136.1h0M420.2 136.0h0M439.5 136.4h0M443.1 136.4h0M453.7 136.1h0M487.6 136.6h0M490.7 136.7h0M501.9 136.7h0M509.1 136.6h0M512.8 136.6h0M520.1 136.1h0M531.7 135.8h0M546.9 135.9h0M549.9 136.2h0M561.2 136.7h0M565.2 136.1h0M591.1 135.8h0M594.6 136.7h0M598.4 136.3h0M602.3 135.8h0M337.1 139.8h0M348.5 139.9h0M351.9 139.1h0M359.5 139.6h0M393.1 139.0h0M396.1 139.1h0M400.6 139.5h0M414.7 139.3h0M419.2 139.1h0M426.4 139.8h0M441.4 139.2h0M444.4 139.8h0M452.4 139.9h0M455.6 139.6h0M466.5 139.9h0M470.8 139.5h0M473.9 139.9h0M496.8 140.0h0M518.9 139.8h0M522.0 139.9h0M529.7 139.6h0M551.6 139.3h0M559.1 139.1h0M563.5 139.5h0M585.4 139.3h0M596.0 139.0h0M357.2 142.9h0M368.7 143.0h0M379.9 142.6h0M383.2 142.5h0M387.2 142.5h0M413.2 142.4h0M420.9 142.4h0M428.0 142.6h0M431.8 143.1h0M450.2 142.8h0M458.0 142.7h0M460.8 143.1h0M469.1 142.4h0M476.0 143.1h0M479.9 142.8h0M506.2 143.1h0M516.7 142.2h0M531.7 142.3h0M535.5 142.6h0M542.4 143.2h0M550.3 143.1h0M565.1 143.1h0M583.2 142.3h0M591.0 142.7h0M601.9 142.5h0M336.9 146.3h0M348.9 145.5h0M359.5 146.1h0M374.3 146.1h0M378.3 145.9h0M396.5 145.8h0M400.5 145.7h0M411.3 146.3h0M422.3 146.3h0M440.7 146.1h0M448.4 146.1h0M452.1 145.6h0M459.6 146.0h0M463.0 145.7h0M466.5 145.8h0M474.2 145.7h0M503.5 145.7h0M508.0 146.1h0M511.3 146.1h0M515.3 145.9h0M518.4 145.7h0M522.2 146.1h0M525.8 146.3h0M544.2 145.9h0M548.0 145.8h0M552.0 145.7h0M577.4 146.4h0M581.4 145.8h0M588.7 146.0h0M592.6 145.8h0M596.7 145.9h0M336.0 149.0h0M342.8 149.3h0M354.3 148.9h0M357.7 149.2h0M365.4 148.8h0M369.0 148.7h0M372.5 148.7h0M376.0 149.5h0M383.4 149.6h0M387.6 149.3h0M405.7 149.2h0M409.3 149.3h0M416.8 148.8h0M420.1 149.5h0M423.8 149.4h0M427.9 148.9h0M431.4 149.2h0M438.9 149.2h0M442.8 149.2h0M450.3 149.6h0M453.4 149.2h0M457.8 149.6h0M461.1 148.8h0M472.4 149.5h0M479.7 149.2h0M490.8 149.5h0M498.0 149.2h0M501.6 149.3h0M512.6 149.2h0M516.7 149.1h0M520.9 148.7h0M528.2 149.2h0M539.2 148.9h0M542.8 149.3h0M561.6 149.1h0M568.4 149.0h0M572.2 149.0h0M583.8 149.5h0M601.4 149.3h0M348.9 151.9h0M356.2 152.3h0M378.0 152.2h0M396.7 152.7h0M407.5 152.7h0M411.2 152.6h0M437.6 152.5h0M451.6 152.2h0M470.8 152.5h0M474.1 152.0h0M489.0 152.6h0M500.6 152.0h0M511.4 151.9h0M514.7 152.8h0M518.6 152.4h0M526.2 152.4h0M533.6 152.4h0M537.1 152.4h0M544.3 152.5h0M548.4 152.5h0M563.1 152.7h0M566.9 152.0h0M570.6 152.6h0M577.7 152.3h0M592.5 152.3h0M346.2 155.4h0M349.9 155.6h0M354.2 155.4h0M357.4 155.2h0M383.2 155.7h0M394.5 155.5h0M406.0 155.2h0M409.3 155.9h0M416.8 156.0h0M420.5 155.7h0M432.1 155.5h0M449.8 155.1h0M453.5 156.0h0M461.0 156.0h0M468.5 155.3h0M475.8 155.3h0M479.9 155.4h0M486.8 155.2h0M512.6 155.5h0M524.1 156.0h0M531.4 155.5h0M553.5 155.5h0M557.7 155.3h0M572.3 155.6h0M579.8 155.2h0M583.2 155.8h0M587.0 155.8h0M344.6 159.3h0M348.0 158.8h0M352.4 159.2h0M355.6 159.2h0M363.4 159.0h0M373.9 158.8h0M378.5 158.3h0M388.9 158.6h0M393.0 158.6h0M407.6 159.1h0M433.2 159.2h0M437.0 159.3h0M441.0 158.6h0M444.6 159.2h0M448.6 158.9h0M452.2 158.5h0M455.7 158.3h0M459.6 158.8h0M474.3 158.7h0M477.8 158.8h0M481.8 158.7h0M496.0 159.0h0M507.4 158.8h0M511.4 158.7h0M514.7 159.0h0M522.1 158.4h0M526.2 158.6h0M533.5 158.4h0M537.2 158.4h0M548.3 159.0h0M555.9 158.8h0M577.8 158.7h0M585.6 159.2h0M339.0 162.1h0M342.7 162.5h0M346.2 162.2h0M372.7 161.7h0M375.8 161.8h0M409.8 162.1h0M416.9 162.0h0M431.9 162.3h0M434.9 162.0h0M438.9 161.6h0M446.3 161.7h0M457.8 162.2h0M475.7 161.7h0M494.9 161.9h0M502.2 161.9h0M509.6 162.5h0M516.7 162.4h0M543.0 161.9h0M546.3 162.0h0M550.0 162.2h0M561.1 162.5h0M565.1 161.5h0M568.3 161.5h0M572.2 161.9h0M586.8 162.2h0M594.9 162.1h0M598.5 162.3h0M601.8 162.3h0M337.7 165.5h0M344.6 165.2h0M348.3 165.0h0M352.4 164.8h0M359.8 165.3h0M370.5 165.6h0M389.5 165.3h0M403.8 165.7h0M407.7 165.5h0M422.2 165.4h0M433.4 165.7h0M436.8 165.4h0M441.3 165.0h0M455.5 165.5h0M463.3 165.7h0M466.6 165.7h0M474.0 165.0h0M478.0 164.9h0M500.3 165.3h0M507.7 165.0h0M511.3 165.3h0M518.8 165.5h0M525.9 165.4h0M533.6 164.8h0M541.3 165.1h0M548.7 164.9h0M551.6 164.9h0M558.9 164.8h0M562.9 165.1h0M566.9 165.2h0M600.5 165.5h0M335.5 168.2h0M338.9 168.0h0M349.9 168.2h0M361.0 168.8h0M372.5 168.9h0M391.5 168.7h0M409.3 168.5h0M417.0 168.7h0M424.2 168.9h0M431.4 168.5h0M435.3 168.0h0M439.6 168.5h0M443.1 168.3h0M461.8 168.1h0M472.8 168.5h0M483.4 167.9h0M490.7 168.2h0M502.0 168.7h0M516.4 168.1h0M527.7 168.1h0M538.9 168.1h0M543.2 168.8h0M550.1 168.8h0M554.2 168.7h0M557.1 168.3h0M568.2 168.3h0M571.9 168.6h0M579.6 168.9h0M341.3 172.0h0M348.9 171.7h0M352.6 171.3h0M363.2 171.8h0M374.1 171.6h0M378.5 172.1h0M385.9 172.1h0M388.7 171.9h0M396.2 171.7h0M400.0 171.7h0M403.6 171.4h0M407.4 171.5h0M422.1 171.6h0M426.5 171.4h0M433.8 172.1h0M437.1 171.9h0M452.2 172.0h0M456.2 171.8h0M459.9 171.7h0M463.1 171.2h0M470.6 172.0h0M477.9 171.5h0M481.4 171.9h0M492.6 171.6h0M500.6 171.4h0M504.0 171.9h0M507.1 171.5h0M515.1 172.0h0M525.9 171.3h0M529.3 172.0h0M540.9 171.4h0M544.3 171.2h0M547.9 171.8h0M555.4 171.6h0M559.8 172.0h0M570.3 171.9h0M589.2 172.0h0M350.1 175.3h0M354.4 174.8h0M358.1 175.0h0M361.4 174.7h0M376.1 174.6h0M402.1 174.7h0M405.7 175.0h0M413.0 174.7h0M417.0 174.6h0M431.4 174.5h0M435.7 174.9h0M439.6 175.0h0M450.6 174.8h0M457.9 174.9h0M461.4 175.3h0M465.2 175.3h0M472.4 174.9h0M483.4 174.5h0M487.6 174.7h0M490.5 175.1h0M494.6 174.5h0M498.4 175.3h0M505.5 175.1h0M509.1 174.8h0M512.7 174.5h0M516.8 174.8h0M521.0 175.2h0M524.6 174.5h0M531.6 175.4h0M539.0 174.9h0M557.6 175.2h0M561.1 175.0h0M572.6 174.8h0M576.2 174.6h0M583.4 175.1h0M586.7 174.7h0M340.9 177.6h0M359.8 178.6h0M363.7 177.9h0M370.8 178.2h0M377.8 178.2h0M388.9 177.8h0M396.5 178.0h0M400.7 178.4h0M407.9 178.1h0M422.6 177.6h0M437.5 177.7h0M444.9 178.4h0M459.7 178.6h0M477.6 178.5h0M485.1 177.9h0M496.2 178.2h0M504.3 178.0h0M529.3 178.2h0M540.8 178.5h0M555.2 178.5h0M566.5 178.4h0M570.2 178.3h0M577.6 178.5h0M588.7 178.6h0M599.8 177.7h0M339.7 181.0h0M354.1 181.6h0M358.1 181.3h0M361.0 181.2h0M365.0 180.9h0M372.4 181.1h0M409.7 181.7h0M427.5 181.0h0M431.8 181.3h0M439.3 181.4h0M450.5 181.1h0M461.1 181.5h0M465.2 181.5h0M472.6 181.6h0M479.5 181.7h0M483.3 181.0h0M498.7 180.9h0M520.7 181.7h0M524.5 181.6h0M527.8 181.1h0M531.7 181.6h0M539.5 181.4h0M550.1 181.2h0M557.9 180.9h0M568.8 181.5h0M579.8 181.6h0M587.0 181.2h0M356.1 184.4h0M363.3 184.2h0M392.9 184.9h0M396.3 184.2h0M433.5 184.2h0M436.9 184.2h0M440.7 184.1h0M456.2 184.8h0M466.4 184.3h0M474.7 184.6h0M478.2 184.6h0M481.3 184.5h0M496.2 184.4h0M507.6 184.8h0M522.1 184.5h0M525.9 184.6h0M530.1 184.2h0M533.3 185.0h0M540.4 184.1h0M548.1 184.4h0M556.0 184.7h0M559.7 184.1h0M578.2 184.2h0M581.5 184.7h0M589.0 185.0h0M592.9 184.4h0M599.8 184.5h0M343.4 187.3h0M346.8 188.0h0M353.8 187.5h0M357.5 188.2h0M361.2 188.2h0M376.0 188.0h0M380.1 187.4h0M383.5 188.2h0M402.2 187.7h0M409.2 187.7h0M413.4 187.9h0M416.6 187.8h0M432.1 188.1h0M435.4 187.3h0M439.2 187.9h0M442.6 187.8h0M450.0 187.9h0M453.7 188.1h0M465.3 188.1h0M483.9 187.7h0M486.9 187.5h0M490.7 187.5h0M495.0 187.4h0M498.5 188.2h0M502.3 187.8h0M505.4 187.3h0M517.1 187.6h0M538.8 188.0h0M543.0 188.1h0M561.1 187.3h0M568.2 187.8h0M572.2 187.5h0M576.3 188.2h0M594.4 188.0h0M601.5 187.7h0M337.6 190.6h0M341.0 190.9h0M348.0 190.8h0M352.1 190.8h0M355.5 190.5h0M363.0 191.0h0M366.6 191.2h0M374.2 190.9h0M385.5 191.4h0M393.0 191.1h0M396.5 191.4h0M407.4 191.0h0M414.8 191.2h0M419.2 191.0h0M433.8 190.5h0M437.2 190.8h0M444.6 191.2h0M456.2 191.3h0M459.4 191.3h0M467.2 191.5h0M477.5 191.3h0M485.3 191.0h0M496.2 190.9h0M500.2 190.6h0M503.7 190.5h0M510.9 191.4h0M522.1 190.6h0M533.1 190.8h0M537.0 191.2h0M567.1 191.2h0M570.6 190.7h0M577.5 191.0h0M599.6 190.9h0M335.2 194.0h0M339.4 194.3h0M342.7 194.6h0M357.7 194.1h0M361.7 194.0h0M369.0 194.0h0M380.3 194.1h0M383.2 194.3h0M387.0 193.7h0M391.2 193.7h0M413.0 194.6h0M428.4 193.8h0M431.5 194.1h0M439.2 194.7h0M450.3 194.3h0M454.0 193.8h0M465.5 194.4h0M472.2 194.6h0M483.2 194.5h0M490.7 193.8h0M494.4 194.3h0M498.3 194.2h0M502.3 194.4h0M520.3 194.3h0M524.5 193.7h0M527.9 194.0h0M531.9 194.5h0M542.8 194.4h0M560.9 194.7h0M579.3 194.4h0M583.5 194.1h0M590.7 194.3h0M344.9 197.0h0M355.7 197.3h0M363.4 197.1h0M370.5 197.2h0M374.3 197.8h0M411.1 197.7h0M422.6 197.9h0M448.4 197.5h0M452.5 197.6h0M456.1 197.1h0M470.8 197.3h0M481.3 197.2h0M503.5 197.2h0M514.6 196.9h0M518.3 197.4h0M533.6 197.7h0M541.0 197.3h0M562.7 197.3h0M567.0 197.6h0M578.2 197.3h0M593.1 197.0h0M599.7 197.7h0M354.1 200.4h0M376.7 200.8h0M380.3 200.5h0M427.5 200.2h0M435.2 200.5h0M442.8 200.9h0M550.4 200.5h0M553.7 200.8h0M586.7 200.4h0M602.2 200.9h0M337.1 204.2h0M351.8 204.3h0M366.5 204.2h0M370.5 203.9h0M400.5 204.1h0M403.8 203.8h0M411.8 203.4h0M430.3 203.9h0M459.4 204.1h0M474.5 203.8h0M489.4 204.0h0M515.4 203.8h0M518.9 204.1h0M526.5 203.6h0M551.9 204.1h0M559.4 203.8h0M589.2 203.9h0M595.9 204.3h0M599.7 204.3h0M339.6 207.4h0M350.2 207.1h0M357.3 206.7h0M361.5 206.8h0M368.6 207.1h0M387.3 207.5h0M398.1 206.7h0M405.4 206.9h0M443.1 207.0h0M458.0 207.4h0M469.1 207.4h0M487.5 206.8h0M498.0 207.5h0M513.2 207.6h0M520.3 207.3h0M542.3 207.2h0M550.6 207.0h0M554.1 206.6h0M572.7 206.9h0M576.4 207.1h0M587.4 207.5h0M591.0 206.9h0M363.2 210.3h0M370.8 210.7h0M381.6 210.0h0M388.7 210.3h0M407.7 210.1h0M411.1 210.7h0M414.8 210.0h0M419.2 210.7h0M425.9 210.2h0M433.5 210.5h0M444.5 210.5h0M448.2 209.8h0M455.5 210.7h0M459.4 210.3h0M467.1 209.9h0M474.3 210.2h0M485.6 210.2h0M493.1 210.4h0M500.0 209.9h0M503.8 210.6h0M514.6 210.1h0M519.0 210.1h0M525.6 210.0h0M541.2 210.7h0M570.8 209.8h0M574.1 210.5h0M577.7 210.4h0M592.8 210.6h0M600.4 210.6h0M335.2 213.6h0M342.5 213.9h0M354.1 213.7h0M361.2 214.0h0M365.0 213.5h0M402.1 213.5h0M409.1 213.8h0M413.5 213.2h0M424.3 213.8h0M435.9 213.9h0M446.6 213.3h0M454.2 213.8h0M468.3 213.4h0M472.4 213.5h0M487.1 213.6h0M497.8 213.1h0M524.1 213.3h0M538.5 213.4h0M557.4 213.4h0M564.9 213.1h0M575.8 213.0h0M583.7 213.3h0M587.1 213.8h0M594.4 213.0h0M598.0 213.9h0M602.1 213.5h0M341.2 216.5h0M359.8 216.5h0M385.3 216.8h0M389.3 216.7h0M414.6 216.7h0M418.8 217.1h0M422.3 217.0h0M444.4 217.1h0M448.7 216.9h0M452.5 216.3h0M474.7 216.3h0M481.6 217.0h0M493.0 216.2h0M503.7 216.8h0M511.3 217.2h0M563.1 216.3h0M566.4 216.4h0M570.7 216.3h0M588.6 216.2h0M599.9 217.0h0M354.2 219.8h0M387.2 219.8h0M446.1 219.8h0M449.9 220.1h0M564.6 220.1h0M563.1 114.4h0M562.7 109.5h0M352.0 218.2h0M348.9 220.4h0M348.6 225.5h0M453.7 119.7h0M456.8 119.7h0M455.2 114.7h0M456.3 112.9h0M475.5 218.0h0M477.0 220.6h0M475.2 222.7h0M507.2 108.9h0M508.5 107.1h0M342.8 219.7h0M339.0 221.5h0M339.8 224.3h0M456.6 119.3h0M497.0 217.8h0M575.2 118.7h0M406.8 213.5h0M477.7 117.1h0M478.5 113.2h0M477.1 109.8h0M479.8 109.8h0M559.7 215.8h0M560.4 220.7h0M592.5 113.7h0M591.8 111.4h0M555.2 215.9h0M557.8 215.9h0M556.9 218.5h0M401.1 117.0h0M404.2 117.0h0M401.2 114.9h0M403.9 114.9h0M401.4 111.4h0M403.8 111.4h0M413.2 222.3h0M472.6 115.4h0M476.7 115.4h0M473.7 113.2h0M476.6 113.2h0M474.3 110.2h0M387.2 114.1h0M386.8 109.5h0M448.3 220.4h0M448.4 223.6h0M564.9 114.1h0M567.0 111.3h0M566.2 109.1h0M566.6 107.0h0M589.3 221.4h0M520.5 214.0h0M521.1 217.0h0M358.4 115.9h0M361.0 115.9h0M498.3 215.3h0M348.3 113.0h0M348.4 108.9h0M388.6 223.3h0M404.1 117.5h0M403.0 114.6h0M406.4 114.6h0M405.9 112.7h0M404.4 109.6h0M596.3 221.9h0M599.5 224.8h0M589.8 110.5h0M593.1 110.5h0M589.9 108.2h0M592.4 108.2h0M568.7 219.9h0M434.4 116.0h0M431.1 111.0h0M435.1 111.0h0M585.7 220.3h0M519.6 113.7h0M445.7 226.3h0M448.7 226.3h0M448.1 228.5h0M574.6 112.4h0M577.5 112.4h0M468.1 218.2h0M470.6 218.2h0M470.0 220.6h0M413.0 114.8h0M415.7 112.3h0M516.3 218.5h0M410.2 109.7h0M443.2 218.7h0M443.5 221.5h0M442.6 223.8h0M404.4 117.6h0M405.6 115.2h0M405.9 110.4h0M481.3 220.0h0M372.9 117.0h0M372.6 114.9h0M513.4 217.4h0M401.5 116.1h0M403.5 114.9h0M402.7 111.7h0M490.2 216.8h0M490.0 219.6h0M437.0 114.3h0M436.2 109.1h0M440.1 109.1h0M448.3 223.8h0M460.1 117.1h0M362.4 218.9h0M359.6 222.4h0M362.5 222.4h0M494.2 113.2h0M395.2 224.4h0M515.5 116.8h0M373.5 117.7h0M374.8 114.4h0M372.9 112.0h0M503.0 219.9h0M506.4 223.3h0M517.2 220.8h0M420.9 118.4h0M417.9 113.6h0M417.0 110.6h0M420.2 110.6h0M599.8 114.3h0M598.7 111.3h0M580.6 116.2h0M584.3 116.2h0M453.5 216.4h0M452.6 219.5h0M454.7 219.5h0M571.5 119.1h0M574.8 119.1h0M572.6 117.9h0M487.5 219.4h0M485.4 221.1h0M486.8 223.7h0M392.8 119.9h0M462.3 214.2h0M464.1 216.5h0" stroke="#f6f8fc" stroke-width="3.45" stroke-linecap="round" fill="none"/>
<path d="M378.1 113.8h0M520.7 117.3h0M557.8 117.2h0M459.7 119.8h0M565.3 123.6h0M569.1 123.7h0M344.9 126.4h0M452.5 127.1h0M466.5 126.5h0M599.6 127.0h0M361.9 129.4h0M383.5 129.4h0M483.5 129.7h0M509.4 129.8h0M374.0 132.9h0M433.4 133.0h0M514.9 132.9h0M361.5 136.1h0M480.0 136.3h0M539.2 136.2h0M554.3 136.6h0M344.6 139.1h0M378.1 139.3h0M459.8 139.9h0M417.1 142.5h0M435.6 142.4h0M586.7 143.0h0M389.3 145.7h0M478.2 145.8h0M481.3 146.1h0M489.5 145.9h0M496.7 146.1h0M584.9 146.0h0M468.7 149.5h0M494.7 148.7h0M524.3 149.3h0M531.5 149.0h0M579.7 148.9h0M381.3 152.4h0M426.6 152.7h0M492.9 152.8h0M507.7 152.8h0M529.5 152.3h0M559.6 152.6h0M361.3 155.1h0M376.0 156.0h0M402.0 155.2h0M424.5 155.2h0M464.6 155.1h0M568.5 155.2h0M404.1 159.0h0M484.9 158.9h0M492.8 158.8h0M566.8 158.5h0M570.3 159.1h0M357.2 162.2h0M380.1 162.0h0M383.5 162.1h0M386.9 161.9h0M460.9 162.4h0M498.7 162.2h0M527.9 161.5h0M411.1 165.4h0M426.5 165.6h0M430.2 164.9h0M470.3 165.0h0M481.5 165.0h0M514.7 165.6h0M537.2 165.0h0M578.3 164.8h0M592.4 164.9h0M596.0 165.0h0M358.1 168.2h0M380.0 168.9h0M428.2 168.7h0M494.6 168.4h0M524.5 168.8h0M531.2 168.7h0M590.8 168.4h0M371.1 171.3h0M393.1 171.4h0M411.6 171.7h0M418.7 172.1h0M441.1 171.7h0M467.0 171.3h0M496.6 171.2h0M364.7 174.4h0M383.9 175.3h0M420.2 174.6h0M528.0 175.3h0M535.4 174.6h0M344.3 178.1h0M366.8 178.1h0M433.5 177.9h0M441.4 178.6h0M515.1 178.1h0M551.5 178.1h0M574.2 178.5h0M596.1 178.5h0M383.3 181.4h0M387.6 181.1h0M395.0 181.6h0M494.2 181.0h0M502.4 181.7h0M546.9 181.2h0M583.1 181.6h0M594.4 181.4h0M598.7 180.8h0M381.9 185.0h0M407.5 184.1h0M411.1 184.2h0M492.7 184.2h0M563.2 184.6h0M369.3 187.9h0M405.9 187.9h0M420.9 187.6h0M427.6 187.8h0M553.9 187.7h0M448.7 190.6h0M462.7 191.4h0M518.7 190.7h0M559.0 191.2h0M592.9 191.0h0M376.3 194.0h0M401.6 194.4h0M421.1 194.2h0M506.2 194.6h0M535.0 194.4h0M554.2 194.3h0M489.2 197.2h0M547.8 197.2h0M570.3 197.7h0M335.6 200.3h0M349.9 200.6h0M394.8 200.8h0M409.9 200.5h0M480.0 200.3h0M340.7 204.3h0M355.9 203.4h0M544.6 203.9h0M566.7 203.5h0M335.4 206.6h0M472.4 206.8h0M502.5 207.0h0M337.2 210.5h0M341.5 209.9h0M359.9 210.0h0M385.9 209.9h0M393.0 210.3h0M437.6 210.6h0M439.3 213.6h0M546.9 213.9h0M433.9 216.5h0M518.3 217.0h0M537.2 217.2h0M480.3 219.8h0M349.4 218.2h0M351.5 220.4h0M350.5 222.5h0M455.3 117.3h0M453.7 112.9h0M474.2 220.6h0M505.3 111.1h0M343.1 221.5h0M342.6 224.3h0M453.7 119.3h0M500.8 216.2h0M500.6 220.7h0M574.3 116.3h0M403.7 213.5h0M480.9 117.1h0M560.9 218.0h0M555.6 220.1h0M412.2 224.5h0M446.8 226.0h0M479.5 114.9h0M500.3 218.3h0M348.5 115.7h0M347.9 111.7h0M386.6 220.8h0M385.5 223.3h0M402.8 112.7h0M596.8 219.9h0M591.0 113.5h0M590.7 106.0h0M431.9 116.0h0M431.8 108.8h0M434.1 108.8h0M584.2 215.1h0M586.4 215.1h0M585.0 217.1h0M576.3 117.5h0M576.4 115.4h0M575.8 110.6h0M416.6 114.8h0M412.7 112.3h0M516.0 220.8h0M518.3 220.8h0M408.8 112.6h0M407.8 109.7h0M403.9 112.7h0M484.6 220.0h0M481.6 222.9h0M482.2 225.2h0M370.2 119.0h0M372.2 119.0h0M400.8 114.9h0M438.0 112.3h0M447.7 220.8h0M359.7 218.9h0M491.7 115.0h0M494.9 115.0h0M396.0 217.3h0M395.0 219.0h0M515.7 114.2h0M542.5 219.0h0M543.9 223.4h0M503.7 223.3h0M466.0 114.5h0M516.2 218.1h0M418.7 115.0h0M342.4 214.9h0M345.8 214.9h0M344.0 217.1h0M341.9 219.0h0M345.9 219.0h0M597.3 114.3h0M598.0 220.5h0M580.6 113.2h0M584.5 113.2h0M485.2 219.4h0M487.7 221.1h0" stroke="#a4f4f6" stroke-width="3.45" stroke-linecap="round" fill="none"/>
<path d="M381.7 119.9h0M400.2 120.3h0M411.4 120.1h0M492.3 119.9h0M536.9 120.3h0M600.0 120.4h0M376.3 123.7h0M346.9 129.8h0M435.2 130.3h0M524.7 129.3h0M575.5 130.3h0M411.5 132.8h0M335.4 136.1h0M516.6 136.3h0M568.2 136.1h0M403.7 139.2h0M433.5 139.3h0M500.5 139.2h0M540.5 139.4h0M491.1 143.1h0M385.3 146.0h0M426.1 145.5h0M485.1 145.5h0M559.6 146.4h0M350.6 149.6h0M553.5 149.2h0M337.0 152.2h0M433.4 152.7h0M466.8 152.5h0M343.2 155.3h0M365.5 155.5h0M594.1 155.4h0M359.7 158.5h0M411.1 159.0h0M462.7 158.7h0M470.3 158.5h0M562.9 158.3h0M588.5 159.2h0M335.0 162.1h0M361.2 162.1h0M472.3 162.1h0M363.7 165.5h0M378.2 165.5h0M504.0 164.9h0M420.7 168.8h0M480.0 168.6h0M546.7 168.9h0M583.4 168.8h0M381.6 171.3h0M577.8 171.9h0M368.9 175.3h0M380.3 174.8h0M409.9 174.9h0M442.5 174.8h0M502.3 174.6h0M410.9 178.1h0M474.2 178.3h0M526.3 178.3h0M544.4 177.8h0M585.3 178.1h0M553.7 181.3h0M572.0 180.8h0M576.1 181.0h0M601.8 181.8h0M340.9 184.6h0M359.5 184.2h0M404.1 185.0h0M425.7 184.6h0M459.1 184.6h0M537.1 184.1h0M544.1 184.4h0M386.9 187.8h0M480.1 187.8h0M564.9 188.1h0M587.4 188.1h0M403.7 190.7h0M574.5 190.8h0M347.0 194.2h0M416.9 194.4h0M602.0 194.0h0M392.9 197.7h0M437.7 197.0h0M444.4 197.7h0M448.1 204.3h0M508.0 203.5h0M548.5 204.3h0M364.7 206.8h0M350.3 213.5h0M387.3 213.7h0M553.7 213.9h0M399.8 217.1h0M507.7 216.3h0" stroke="#2cbcc8" stroke-width="3.45" stroke-linecap="round" fill="none"/>
<path d="M342.6 117.4h0M376.3 116.5h0M379.7 116.8h0M383.3 116.8h0M336.9 120.2h0M344.5 120.4h0M359.7 120.6h0M363.5 119.8h0M370.6 120.3h0M377.9 120.3h0M396.4 120.0h0M418.3 120.4h0M448.4 120.0h0M511.7 119.9h0M515.1 119.9h0M548.7 120.5h0M559.8 120.2h0M563.3 120.5h0M357.4 123.7h0M361.2 123.0h0M372.9 123.4h0M386.8 123.3h0M409.4 123.0h0M416.8 123.7h0M420.2 122.9h0M424.6 123.0h0M427.6 123.5h0M457.6 123.2h0M472.8 123.8h0M501.8 123.0h0M513.0 123.7h0M523.8 123.8h0M561.0 122.9h0M591.0 123.2h0M356.1 126.1h0M385.9 126.7h0M397.0 126.2h0M400.5 126.9h0M407.7 126.2h0M414.6 126.3h0M418.9 126.2h0M426.5 126.4h0M433.2 126.4h0M437.4 126.8h0M441.0 126.7h0M448.3 126.3h0M470.9 126.9h0M474.1 126.6h0M526.4 127.1h0M548.4 127.0h0M567.0 127.1h0M574.2 126.9h0M592.9 126.3h0M343.1 129.5h0M357.5 129.8h0M387.3 130.2h0M402.2 129.7h0M416.6 129.3h0M424.0 129.9h0M446.7 129.7h0M449.9 129.7h0M469.0 130.0h0M471.9 129.7h0M501.9 130.2h0M513.2 129.7h0M546.2 129.4h0M549.8 129.7h0M591.2 129.6h0M594.5 129.9h0M344.5 132.6h0M378.3 132.9h0M388.9 133.0h0M415.1 132.9h0M422.9 133.3h0M429.4 132.8h0M448.3 132.9h0M463.5 133.2h0M474.1 132.6h0M481.9 133.1h0M484.9 133.1h0M496.3 133.4h0M500.0 133.5h0M507.7 132.9h0M548.4 133.1h0M342.5 135.8h0M354.4 136.6h0M365.2 136.4h0M369.3 136.6h0M375.9 136.0h0M383.7 136.0h0M387.1 135.9h0M413.0 135.8h0M417.2 136.1h0M424.8 136.3h0M428.3 136.1h0M432.0 136.6h0M461.6 135.8h0M472.3 135.9h0M476.2 136.4h0M483.6 136.2h0M494.5 135.8h0M498.3 136.3h0M505.6 136.3h0M535.2 136.6h0M572.4 136.3h0M576.4 136.1h0M579.3 136.3h0M583.1 136.1h0M367.3 139.0h0M370.9 139.2h0M381.6 139.3h0M385.8 139.3h0M389.2 139.5h0M488.6 139.7h0M492.4 139.4h0M511.5 140.0h0M525.8 139.6h0M533.6 139.3h0M555.4 139.0h0M570.8 139.2h0M573.9 139.1h0M581.1 139.0h0M592.9 139.2h0M394.8 142.8h0M398.6 143.1h0M446.1 142.9h0M557.3 142.7h0M561.5 143.0h0M568.1 142.9h0M337.0 197.6h0M352.6 197.6h0M381.9 196.9h0M389.6 197.6h0M400.2 197.1h0M404.2 197.9h0M407.9 197.7h0M429.7 197.9h0M433.6 197.7h0M459.9 197.5h0M466.5 197.0h0M474.6 197.4h0M477.6 197.8h0M485.5 197.4h0M500.5 197.7h0M507.6 197.2h0M511.0 197.2h0M529.9 197.8h0M537.6 197.5h0M544.6 197.7h0M555.4 197.5h0M589.4 197.6h0M357.5 201.0h0M361.3 200.6h0M372.2 200.5h0M383.4 200.6h0M387.5 200.3h0M390.9 200.7h0M402.2 200.5h0M405.8 200.5h0M432.1 200.8h0M446.4 200.7h0M450.1 200.3h0M457.3 201.0h0M461.7 200.4h0M465.5 200.8h0M476.4 201.1h0M487.1 200.3h0M491.1 200.4h0M494.8 200.4h0M498.6 200.4h0M501.7 200.5h0M505.5 200.3h0M509.3 200.3h0M527.7 201.0h0M532.1 200.9h0M538.6 200.8h0M542.6 200.9h0M557.3 200.6h0M560.9 200.3h0M564.7 200.9h0M580.1 200.4h0M583.7 201.0h0M590.5 200.7h0M598.4 201.0h0M345.0 203.7h0M348.4 204.2h0M359.9 203.5h0M373.9 203.5h0M382.2 204.2h0M385.3 203.5h0M388.7 203.7h0M392.6 203.4h0M415.3 204.1h0M418.3 203.8h0M426.3 203.8h0M433.9 203.7h0M437.7 203.9h0M444.3 204.3h0M452.3 203.5h0M477.7 203.7h0M481.2 203.4h0M485.5 204.0h0M496.8 204.2h0M522.1 204.2h0M537.6 203.9h0M563.3 203.9h0M578.1 203.7h0M581.9 203.4h0M585.7 203.8h0M353.8 206.8h0M376.4 207.6h0M391.5 206.8h0M394.5 207.3h0M409.9 207.1h0M413.6 206.9h0M417.1 207.0h0M420.3 206.7h0M427.8 207.3h0M431.7 207.3h0M435.2 207.5h0M439.1 207.2h0M465.0 206.8h0M476.0 207.3h0M479.8 207.4h0M491.3 207.5h0M494.2 206.7h0M505.3 207.0h0M524.0 206.8h0M527.7 206.9h0M531.2 207.1h0M539.2 206.7h0M546.0 207.2h0M557.6 207.5h0M560.9 207.3h0M564.5 207.5h0M579.3 207.3h0M583.6 207.4h0M594.9 207.3h0M597.9 207.2h0M348.4 209.9h0M355.9 210.1h0M378.0 209.8h0M400.2 210.2h0M404.2 210.6h0M430.1 210.6h0M441.1 209.9h0M452.3 210.3h0M463.5 210.2h0M482.0 210.7h0M496.5 209.9h0M507.9 209.9h0M530.2 210.6h0M533.7 209.8h0M537.3 210.3h0M548.6 210.5h0M551.6 210.1h0M555.9 210.2h0M563.1 210.2h0M566.9 210.0h0M596.4 210.2h0M398.3 213.1h0M416.9 213.4h0M461.6 213.1h0M479.8 214.0h0M483.2 213.5h0M502.2 213.7h0M505.5 213.2h0M509.6 213.5h0M517.1 213.3h0M520.3 213.8h0M535.2 213.9h0M550.0 213.0h0M561.4 213.1h0M579.3 213.7h0M590.4 213.3h0M351.9 225.5h0M474.8 224.9h0M340.2 216.7h0M342.1 216.7h0M500.5 217.8h0M497.8 220.7h0M405.4 216.5h0M559.0 218.0h0M558.8 220.1h0M411.3 220.1h0M413.7 220.1h0M600.3 219.6h0M450.0 226.0h0M589.5 225.5h0M523.4 214.0h0M523.3 217.0h0M497.4 218.3h0M388.9 220.8h0M387.4 226.5h0M569.5 222.3h0M449.1 223.4h0M445.8 223.8h0M484.2 222.9h0M488.2 214.1h0M491.8 214.1h0M488.5 221.7h0M490.8 221.7h0M394.2 222.1h0M542.4 221.4h0M453.5 221.7h0M485.9 216.6h0M465.5 214.2h0" stroke="#e41c1c" stroke-width="3.45" stroke-linecap="round" fill="none"/>
<path d="M351.6 113.1h0M470.1 113.0h0M350.0 116.2h0M353.1 116.6h0M364.2 116.6h0M390.3 116.8h0M401.3 116.5h0M424.2 116.8h0M434.7 116.3h0M439.0 116.2h0M464.3 116.9h0M468.4 116.0h0M475.1 116.8h0M482.8 116.2h0M494.4 116.3h0M527.6 116.0h0M534.9 116.7h0M538.5 116.9h0M542.5 116.4h0M553.2 116.5h0M560.9 116.5h0M564.1 116.0h0M586.7 116.5h0M601.5 116.4h0M366.6 120.0h0M373.7 119.7h0M385.3 119.7h0M389.0 120.1h0M407.3 119.4h0M425.6 119.9h0M432.6 119.7h0M437.1 119.8h0M440.8 119.6h0M451.4 119.6h0M454.9 119.4h0M462.4 119.9h0M466.6 119.7h0M477.0 120.0h0M480.7 119.3h0M488.9 119.9h0M503.6 119.6h0M507.0 119.9h0M517.7 120.1h0M525.9 119.9h0M551.9 119.2h0M584.4 119.2h0M342.2 123.3h0M345.8 123.1h0M349.5 122.7h0M353.9 122.7h0M397.7 122.6h0M401.6 123.1h0M405.1 123.3h0M412.4 122.7h0M434.7 123.0h0M445.7 122.7h0M449.4 122.6h0M468.1 122.5h0M475.5 123.0h0M479.5 123.2h0M486.4 122.6h0M490.2 122.9h0M527.3 122.7h0M531.4 122.5h0M538.0 123.2h0M546.2 122.6h0M571.7 122.4h0M575.6 122.7h0M579.2 123.0h0M586.1 123.3h0M337.2 126.3h0M348.3 126.0h0M362.7 126.1h0M369.9 125.7h0M373.7 126.6h0M422.4 126.0h0M428.9 126.1h0M463.1 126.2h0M477.4 126.5h0M495.8 126.1h0M506.6 126.5h0M510.5 125.9h0M529.4 125.8h0M533.3 126.2h0M537.0 126.5h0M555.0 126.1h0M559.1 126.5h0M563.0 126.6h0M577.6 125.7h0M588.0 126.0h0M595.8 125.9h0M350.0 129.4h0M353.4 129.0h0M364.6 129.5h0M368.6 129.6h0M390.8 129.2h0M398.4 129.8h0M405.1 129.3h0M408.9 129.5h0M412.4 129.6h0M420.1 128.9h0M442.3 129.3h0M453.7 129.1h0M456.6 129.2h0M461.1 129.7h0M464.4 129.3h0M475.5 128.8h0M498.3 129.3h0M505.2 129.3h0M516.7 129.2h0M519.9 129.4h0M527.3 129.1h0M538.9 129.3h0M553.3 129.1h0M557.4 129.6h0M564.2 128.9h0M586.4 129.8h0M601.1 128.9h0M355.3 132.7h0M363.1 132.5h0M381.1 132.6h0M384.7 132.3h0M392.6 132.2h0M395.6 132.2h0M399.8 132.9h0M403.6 132.2h0M407.0 132.1h0M454.9 132.2h0M458.5 132.3h0M466.5 132.3h0M469.8 132.4h0M477.7 132.4h0M488.3 132.9h0M492.7 132.7h0M510.7 132.4h0M518.3 133.0h0M522.3 132.2h0M525.1 132.4h0M529.1 132.3h0M536.2 132.1h0M540.3 132.8h0M544.3 132.9h0M551.4 133.0h0M555.3 132.5h0M562.7 132.7h0M566.6 132.5h0M570.1 132.9h0M573.4 132.9h0M580.7 133.0h0M584.5 132.7h0M599.7 132.7h0M346.1 135.8h0M372.1 136.2h0M379.1 135.3h0M397.6 135.4h0M435.4 136.2h0M446.4 135.9h0M450.0 136.2h0M457.5 135.6h0M464.8 136.1h0M468.6 135.7h0M523.8 135.3h0M527.3 135.8h0M542.3 135.3h0M557.4 135.6h0M586.6 135.9h0M341.0 138.9h0M355.6 138.7h0M362.3 139.3h0M373.6 138.9h0M407.6 139.2h0M410.7 138.7h0M422.4 138.5h0M429.6 138.6h0M436.7 139.0h0M448.3 139.3h0M462.6 139.4h0M477.7 138.6h0M480.7 138.6h0M485.3 138.7h0M503.8 139.0h0M507.2 138.9h0M514.8 138.9h0M536.9 138.6h0M543.9 138.8h0M548.1 138.9h0M566.6 139.2h0M576.9 139.4h0M588.5 139.4h0M599.5 138.7h0M335.4 142.7h0M339.0 142.3h0M342.6 142.1h0M345.7 142.2h0M350.2 141.9h0M353.7 142.6h0M361.2 142.4h0M365.1 142.3h0M372.4 142.1h0M375.6 141.8h0M390.1 142.2h0M402.0 141.7h0M405.3 142.0h0M408.9 142.5h0M424.2 142.1h0M438.8 142.1h0M442.0 142.4h0M453.3 142.7h0M464.3 142.3h0M472.4 142.1h0M482.7 142.0h0M486.9 142.1h0M494.1 142.6h0M497.5 141.8h0M501.4 142.4h0M509.4 142.0h0M512.7 142.5h0M520.4 142.2h0M523.4 142.2h0M527.0 142.2h0M538.6 142.1h0M545.5 142.5h0M553.1 141.9h0M572.2 142.6h0M575.1 141.9h0M579.3 142.3h0M593.8 142.1h0M598.0 142.1h0M340.5 145.0h0M344.0 145.1h0M351.8 145.2h0M354.9 145.7h0M362.5 144.9h0M366.3 145.3h0M370.1 145.4h0M381.5 145.2h0M392.6 145.6h0M403.4 145.9h0M407.3 145.0h0M414.6 145.4h0M417.9 145.4h0M429.5 145.2h0M432.7 145.1h0M436.7 145.1h0M444.3 145.9h0M455.6 145.1h0M469.6 145.3h0M492.3 145.1h0M500.0 145.6h0M528.8 145.9h0M532.6 145.2h0M537.1 145.1h0M540.7 145.1h0M555.6 145.7h0M562.6 145.7h0M566.0 145.3h0M569.6 145.7h0M573.3 145.3h0M599.4 145.5h0M338.8 149.0h0M345.6 149.1h0M360.4 148.3h0M379.2 148.6h0M390.1 148.5h0M394.1 148.3h0M397.8 148.9h0M401.7 148.3h0M412.8 148.8h0M434.7 148.5h0M445.8 148.9h0M464.4 148.5h0M475.6 148.7h0M483.2 148.4h0M487.1 148.4h0M504.8 148.4h0M508.9 148.6h0M534.4 148.4h0M546.2 148.7h0M549.7 148.3h0M557.1 148.8h0M563.9 149.1h0M575.0 149.1h0M586.7 148.9h0M589.8 148.3h0M593.7 149.1h0M598.0 148.1h0M340.6 151.3h0M344.6 151.7h0M351.7 152.1h0M358.7 151.8h0M362.7 151.5h0M366.4 151.7h0M370.3 151.5h0M374.2 152.3h0M385.1 152.1h0M388.8 151.8h0M392.2 151.4h0M399.6 151.7h0M403.4 151.7h0M414.7 151.5h0M418.7 152.2h0M421.5 151.9h0M429.4 151.4h0M440.7 152.3h0M443.9 152.3h0M447.6 152.0h0M455.3 151.7h0M458.5 151.7h0M462.9 151.9h0M477.0 151.7h0M481.2 151.4h0M485.2 152.0h0M495.9 151.6h0M503.4 151.6h0M521.9 151.7h0M540.7 151.6h0M551.5 152.3h0M555.3 151.9h0M573.9 151.6h0M580.9 151.7h0M584.8 151.8h0M588.4 152.0h0M595.6 152.2h0M599.8 151.9h0M334.7 155.6h0M338.3 155.4h0M368.8 154.7h0M372.3 154.6h0M379.0 155.0h0M386.4 155.0h0M390.2 154.8h0M397.9 155.4h0M412.3 154.9h0M427.1 155.1h0M435.0 155.0h0M438.9 155.5h0M442.3 154.8h0M445.5 155.2h0M457.5 154.9h0M471.9 154.8h0M483.1 155.2h0M490.8 155.2h0M493.8 154.9h0M498.3 154.9h0M501.4 155.1h0M504.8 155.4h0M509.3 154.9h0M516.6 155.0h0M520.1 155.3h0M527.6 155.4h0M534.5 155.3h0M538.8 154.7h0M542.6 154.9h0M545.9 154.8h0M549.5 154.7h0M561.2 154.9h0M564.0 155.5h0M575.7 155.1h0M589.8 155.5h0M597.5 155.1h0M601.9 154.7h0M336.4 158.6h0M340.1 158.2h0M366.5 158.2h0M370.6 158.0h0M381.6 158.6h0M385.2 158.2h0M396.1 158.0h0M399.7 158.6h0M414.1 158.1h0M418.7 157.9h0M421.8 158.2h0M425.6 158.2h0M429.6 158.4h0M465.9 158.5h0M488.7 158.6h0M499.7 158.6h0M503.6 158.5h0M518.0 158.6h0M529.6 158.2h0M539.9 158.0h0M544.1 158.0h0M551.8 158.4h0M558.8 158.2h0M573.6 157.8h0M581.2 158.0h0M592.3 157.9h0M595.8 157.9h0M599.7 158.0h0M350.0 161.9h0M353.0 161.4h0M364.5 161.9h0M368.1 161.2h0M390.6 161.5h0M393.9 161.1h0M398.1 161.0h0M401.5 161.6h0M404.8 161.8h0M412.7 161.6h0M419.7 161.9h0M423.3 161.1h0M427.6 161.6h0M441.9 161.8h0M449.7 161.2h0M453.5 161.8h0M464.3 161.6h0M467.8 161.7h0M479.3 161.9h0M483.5 161.6h0M487.2 161.8h0M490.5 161.4h0M504.9 161.0h0M512.9 161.5h0M520.5 161.5h0M523.3 161.2h0M530.7 161.6h0M535.1 161.9h0M538.6 161.7h0M553.5 161.0h0M556.8 161.6h0M575.6 161.3h0M579.6 161.5h0M582.8 161.4h0M590.0 161.9h0M341.0 164.7h0M355.0 164.8h0M366.5 164.7h0M374.3 164.4h0M381.0 164.9h0M384.8 165.0h0M392.5 164.7h0M396.2 164.7h0M400.0 164.3h0M414.2 164.9h0M418.2 165.1h0M443.8 165.2h0M447.7 164.5h0M451.9 165.0h0M459.3 164.5h0M485.1 165.0h0M488.7 164.4h0M492.6 165.1h0M496.3 165.1h0M521.7 164.8h0M528.9 164.8h0M544.0 165.1h0M555.3 164.4h0M569.5 165.1h0M573.9 164.5h0M581.2 164.9h0M584.7 164.6h0M588.2 164.3h0M342.9 167.7h0M345.7 168.1h0M353.4 167.5h0M364.7 168.3h0M367.8 168.1h0M375.2 168.1h0M383.3 167.8h0M387.1 168.2h0M394.2 167.7h0M398.0 167.7h0M401.2 167.6h0M405.7 167.5h0M413.2 167.9h0M445.8 167.8h0M449.8 167.9h0M453.7 168.4h0M456.7 168.3h0M464.0 167.9h0M468.0 168.2h0M475.1 168.0h0M486.7 168.4h0M497.7 167.5h0M505.3 168.3h0M509.4 167.8h0M513.0 167.7h0M520.0 167.7h0M534.4 167.9h0M560.3 167.7h0M563.9 168.4h0M575.2 168.3h0M587.0 168.1h0M594.2 168.2h0M597.3 167.7h0M601.0 168.0h0M336.9 170.9h0M344.1 170.8h0M355.7 170.7h0M359.5 171.2h0M366.5 171.3h0M414.8 171.5h0M429.8 171.5h0M443.9 171.4h0M447.7 171.0h0M473.5 171.1h0M485.3 170.7h0M488.5 170.7h0M511.2 171.5h0M517.8 171.6h0M521.9 170.7h0M532.7 171.5h0M536.5 170.8h0M551.3 171.0h0M562.9 171.4h0M566.2 171.3h0M573.3 171.4h0M581.4 171.3h0M584.4 171.3h0M592.4 171.0h0M595.5 171.6h0M599.2 171.2h0M334.9 174.4h0M339.0 174.6h0M342.9 174.0h0M346.4 174.4h0M372.4 174.6h0M387.1 173.9h0M391.0 174.7h0M393.8 174.1h0M397.9 174.5h0M423.7 174.7h0M427.6 174.6h0M446.4 174.0h0M453.2 174.9h0M467.8 174.9h0M475.5 174.7h0M479.1 174.1h0M541.8 174.7h0M546.1 173.9h0M549.7 174.8h0M553.5 174.1h0M564.2 174.8h0M567.8 174.6h0M579.7 174.4h0M589.8 174.3h0M593.9 174.9h0M597.6 174.6h0M601.7 174.8h0M336.9 178.1h0M347.6 178.0h0M351.6 178.1h0M355.1 177.3h0M373.7 177.8h0M381.1 177.7h0M384.9 177.7h0M392.4 177.2h0M403.6 177.7h0M414.1 177.5h0M418.6 177.8h0M426.1 177.3h0M429.5 177.1h0M447.4 177.3h0M451.8 177.4h0M455.2 177.7h0M462.2 177.4h0M466.1 178.1h0M469.9 177.9h0M481.2 177.5h0M488.4 177.5h0M492.4 177.8h0M499.9 177.2h0M507.5 177.2h0M510.4 177.8h0M517.9 177.3h0M521.9 177.8h0M533.1 177.3h0M536.5 177.7h0M547.5 177.6h0M558.7 177.4h0M562.5 177.2h0M580.7 178.0h0M592.3 177.5h0M335.5 180.9h0M342.8 180.9h0M345.8 180.5h0M350.3 180.7h0M367.9 180.6h0M375.4 180.9h0M379.0 181.3h0M390.7 181.3h0M398.0 180.7h0M401.3 180.4h0M405.1 180.7h0M412.6 181.1h0M416.6 181.0h0M419.7 181.1h0M423.9 180.6h0M434.5 181.3h0M442.6 180.6h0M446.2 181.2h0M453.9 180.5h0M457.3 181.0h0M468.1 181.0h0M476.1 180.8h0M486.2 180.3h0M490.6 181.2h0M505.3 180.9h0M509.4 181.0h0M512.5 181.3h0M516.5 180.4h0M534.3 180.8h0M542.5 180.8h0M560.6 180.7h0M564.6 181.1h0M589.9 180.9h0M336.5 184.2h0M343.8 183.9h0M348.3 184.0h0M351.7 183.7h0M366.1 184.0h0M369.8 183.8h0M373.4 183.9h0M377.1 184.5h0M384.5 184.0h0M389.0 184.2h0M399.5 183.8h0M414.3 183.9h0M418.4 183.8h0M421.6 183.6h0M429.2 183.9h0M444.2 183.6h0M447.4 184.2h0M451.3 183.8h0M462.6 184.1h0M469.7 183.7h0M485.3 183.8h0M489.0 183.8h0M499.2 184.5h0M503.8 184.5h0M511.1 183.6h0M514.7 183.5h0M518.0 183.8h0M551.2 184.4h0M565.9 184.2h0M570.2 183.5h0M573.7 183.8h0M585.1 183.9h0M596.3 184.2h0M334.8 187.5h0M338.3 187.3h0M349.7 186.8h0M365.1 187.5h0M372.2 187.5h0M390.5 187.5h0M394.4 186.9h0M398.0 187.6h0M423.9 186.9h0M446.1 187.4h0M457.0 187.0h0M460.6 187.3h0M468.6 187.7h0M471.5 186.8h0M475.1 186.9h0M508.5 187.2h0M513.0 186.9h0M520.3 187.3h0M523.5 187.6h0M527.6 187.1h0M531.4 186.9h0M534.8 187.5h0M546.3 187.6h0M549.6 187.1h0M557.1 187.4h0M579.7 187.4h0M583.0 187.6h0M590.6 186.8h0M598.0 187.1h0M344.2 190.8h0M359.0 190.9h0M369.9 190.0h0M377.4 190.4h0M381.1 190.6h0M388.9 190.0h0M400.1 190.4h0M410.8 190.0h0M421.8 190.5h0M426.0 190.6h0M429.3 190.6h0M440.7 190.7h0M451.5 190.6h0M469.8 190.6h0M473.8 191.0h0M481.1 190.3h0M488.3 190.1h0M492.2 190.1h0M506.7 190.1h0M514.4 190.2h0M525.1 190.4h0M529.5 190.6h0M540.6 190.8h0M544.3 190.6h0M548.0 190.1h0M551.1 191.0h0M555.5 190.2h0M562.4 190.5h0M580.8 190.5h0M584.6 190.6h0M588.2 190.6h0M596.1 190.0h0M349.8 194.1h0M353.0 193.4h0M364.7 193.6h0M371.9 194.1h0M393.8 193.3h0M397.4 193.3h0M405.6 193.2h0M409.2 194.2h0M423.7 193.4h0M434.4 193.9h0M442.6 193.4h0M446.0 193.9h0M457.0 194.0h0M460.9 193.6h0M468.5 193.5h0M475.6 193.2h0M479.7 194.1h0M486.8 193.2h0M509.2 194.0h0M512.7 193.7h0M516.7 193.6h0M538.5 193.3h0M546.3 194.2h0M550.0 194.1h0M557.5 193.5h0M564.0 193.5h0M568.6 193.9h0M571.7 193.9h0M575.9 193.9h0M586.5 193.8h0M594.3 194.0h0M597.7 193.3h0M340.7 197.0h0M347.5 197.1h0M358.6 197.0h0M366.1 197.2h0M377.5 196.5h0M385.3 196.9h0M396.2 196.5h0M414.9 197.3h0M418.7 196.6h0M426.1 197.3h0M440.1 197.4h0M462.4 196.9h0M492.3 196.5h0M495.8 197.2h0M522.1 196.6h0M525.6 197.0h0M551.9 196.7h0M558.4 197.4h0M573.4 196.9h0M580.6 196.5h0M585.2 196.7h0M596.0 197.3h0M338.6 199.9h0M341.9 200.0h0M345.9 199.7h0M365.1 200.1h0M368.1 200.0h0M397.9 200.2h0M412.8 199.7h0M416.0 199.8h0M420.3 199.8h0M424.2 199.8h0M438.8 200.2h0M453.1 200.0h0M468.5 200.1h0M471.5 200.0h0M482.9 200.0h0M512.3 199.7h0M516.3 200.2h0M519.9 200.4h0M524.2 199.9h0M534.4 200.2h0M545.4 199.9h0M567.7 200.1h0M572.1 200.2h0M575.6 200.2h0M594.3 200.5h0M363.1 203.2h0M378.0 203.5h0M396.2 203.1h0M406.8 203.0h0M421.6 203.1h0M440.0 203.0h0M454.8 203.4h0M462.9 203.2h0M466.2 202.9h0M470.1 203.7h0M491.8 203.5h0M499.9 203.6h0M503.2 203.7h0M510.6 203.1h0M529.7 202.9h0M533.0 203.7h0M540.7 203.4h0M555.4 203.2h0M570.0 203.4h0M573.2 203.7h0M592.2 203.1h0M342.8 207.0h0M345.8 206.8h0M372.0 206.7h0M379.3 207.0h0M382.6 206.6h0M402.1 206.6h0M424.2 206.4h0M445.8 206.5h0M449.8 206.5h0M453.6 206.7h0M460.3 206.8h0M483.1 206.6h0M509.1 206.7h0M515.9 206.3h0M534.6 206.6h0M567.9 206.4h0M601.8 206.2h0M344.3 209.5h0M351.3 210.0h0M366.5 210.2h0M374.3 209.5h0M396.4 209.6h0M422.1 210.1h0M470.2 209.7h0M477.8 210.0h0M488.1 209.3h0M511.0 210.2h0M522.1 210.3h0M544.2 209.9h0M558.6 209.3h0M581.0 210.3h0M584.5 209.6h0M588.4 209.4h0M338.5 212.8h0M346.5 213.3h0M356.9 212.9h0M368.1 213.3h0M372.3 213.3h0M376.0 212.7h0M378.9 212.9h0M383.0 212.8h0M390.7 212.6h0M394.5 212.9h0M405.1 213.3h0M419.7 212.6h0M427.9 212.9h0M431.4 213.2h0M441.8 212.8h0M449.6 213.5h0M457.0 213.0h0M464.8 213.0h0M476.0 213.1h0M490.3 213.5h0M494.5 213.2h0M512.4 213.4h0M527.6 213.4h0M531.0 213.3h0M542.1 213.0h0M567.9 213.5h0M571.6 213.1h0M336.5 216.4h0M351.3 215.9h0M355.2 216.6h0M362.3 216.2h0M377.2 216.2h0M411.0 216.7h0M425.9 215.8h0M455.1 216.0h0M459.4 216.4h0M470.5 216.4h0M477.9 216.6h0M484.9 216.7h0M514.5 215.8h0M529.6 216.0h0M532.6 215.9h0M540.6 216.1h0M544.2 216.2h0M573.3 215.7h0M577.6 216.5h0M592.4 216.6h0M595.5 216.6h0M412.9 219.4h0M505.3 219.5h0M538.3 219.3h0M598.0 219.6h0M601.9 219.7h0M561.6 112.1h0M506.6 113.6h0M507.3 110.6h0M505.2 106.6h0M338.6 219.2h0M454.3 116.1h0M496.8 215.7h0M572.8 118.2h0M478.7 114.4h0M556.4 223.1h0M596.5 219.1h0M596.8 221.6h0M600.2 221.6h0M387.1 111.8h0M448.3 227.1h0M568.2 113.6h0M588.5 217.7h0M588.9 223.0h0M478.6 117.0h0M358.1 117.3h0M361.5 117.3h0M387.6 227.5h0M599.2 219.4h0M598.6 221.4h0M596.4 224.3h0M565.9 219.4h0M565.5 221.8h0M567.0 224.1h0M432.7 113.8h0M518.7 115.9h0M446.0 220.2h0M445.6 222.9h0M445.2 228.0h0M518.0 218.0h0M408.8 115.0h0M402.5 114.7h0M401.7 109.9h0M369.8 116.5h0M369.0 114.4h0M513.0 219.6h0M404.0 115.6h0M439.3 113.8h0M460.3 113.1h0M396.5 221.6h0M513.6 118.2h0M516.6 118.2h0M544.5 218.5h0M545.0 220.9h0M370.8 113.9h0M506.2 219.4h0M464.3 116.4h0M467.6 116.4h0M465.9 110.7h0M465.7 108.9h0M513.7 220.3h0M417.0 117.9h0M419.8 113.1h0M597.7 116.2h0M598.7 221.5h0M582.5 117.3h0M395.0 119.4h0M393.9 117.2h0" stroke="#b4f4f6" stroke-width="1.2" stroke-linecap="round" fill="none"/>
<path d="M342.1 116.9h0M375.8 116.0h0M379.2 116.3h0M382.8 116.3h0M336.4 119.7h0M344.0 119.9h0M359.2 120.1h0M363.0 119.3h0M370.1 119.8h0M377.4 119.8h0M395.9 119.5h0M417.8 119.9h0M447.9 119.5h0M511.2 119.4h0M514.6 119.4h0M548.2 120.0h0M559.3 119.7h0M562.8 120.0h0M356.9 123.2h0M360.7 122.5h0M372.4 122.9h0M386.3 122.8h0M408.9 122.5h0M416.3 123.2h0M419.7 122.4h0M424.1 122.5h0M427.1 123.0h0M457.1 122.7h0M472.3 123.3h0M501.3 122.5h0M512.5 123.2h0M523.3 123.3h0M560.5 122.4h0M590.5 122.7h0M355.6 125.6h0M385.4 126.2h0M396.5 125.7h0M400.0 126.4h0M407.2 125.7h0M414.1 125.8h0M418.4 125.7h0M426.0 125.9h0M432.7 125.9h0M436.9 126.3h0M440.5 126.2h0M447.8 125.8h0M470.4 126.4h0M473.6 126.1h0M525.9 126.6h0M547.9 126.5h0M566.5 126.6h0M573.7 126.4h0M592.4 125.8h0M342.6 129.0h0M357.0 129.3h0M386.8 129.7h0M401.7 129.2h0M416.1 128.8h0M423.5 129.4h0M446.2 129.2h0M449.4 129.2h0M468.5 129.5h0M471.4 129.2h0M501.4 129.7h0M512.7 129.2h0M545.7 128.9h0M549.3 129.2h0M590.7 129.1h0M594.0 129.4h0M344.0 132.1h0M377.8 132.4h0M388.4 132.5h0M414.6 132.4h0M422.4 132.8h0M428.9 132.3h0M447.8 132.4h0M463.0 132.7h0M473.6 132.1h0M481.4 132.6h0M484.4 132.6h0M495.8 132.9h0M499.5 133.0h0M507.2 132.4h0M547.9 132.6h0M342.0 135.3h0M353.9 136.1h0M364.7 135.9h0M368.8 136.1h0M375.4 135.5h0M383.2 135.5h0M386.6 135.4h0M412.5 135.3h0M416.7 135.6h0M424.3 135.8h0M427.8 135.6h0M431.5 136.1h0M461.1 135.3h0M471.8 135.4h0M475.7 135.9h0M483.1 135.7h0M494.0 135.3h0M497.8 135.8h0M505.1 135.8h0M534.7 136.1h0M571.9 135.8h0M575.9 135.6h0M578.8 135.8h0M582.6 135.6h0M366.8 138.5h0M370.4 138.7h0M381.1 138.8h0M385.3 138.8h0M388.7 139.0h0M488.1 139.2h0M491.9 138.9h0M511.0 139.5h0M525.3 139.1h0M533.1 138.8h0M554.9 138.5h0M570.3 138.7h0M573.4 138.6h0M580.6 138.5h0M592.4 138.7h0M394.3 142.3h0M398.1 142.6h0M445.6 142.4h0M556.8 142.2h0M561.0 142.5h0M567.6 142.4h0M336.5 197.1h0M352.1 197.1h0M381.4 196.4h0M389.1 197.1h0M399.7 196.6h0M403.7 197.4h0M407.4 197.2h0M429.2 197.4h0M433.1 197.2h0M459.4 197.0h0M466.0 196.5h0M474.1 196.9h0M477.1 197.3h0M485.0 196.9h0M500.0 197.2h0M507.1 196.7h0M510.5 196.7h0M529.4 197.3h0M537.1 197.0h0M544.1 197.2h0M554.9 197.0h0M588.9 197.1h0M357.0 200.5h0M360.8 200.1h0M371.7 200.0h0M382.9 200.1h0M387.0 199.8h0M390.4 200.2h0M401.7 200.0h0M405.3 200.0h0M431.6 200.3h0M445.9 200.2h0M449.6 199.8h0M456.8 200.5h0M461.2 199.9h0M465.0 200.3h0M475.9 200.6h0M486.6 199.8h0M490.6 199.9h0M494.3 199.9h0M498.1 199.9h0M501.2 200.0h0M505.0 199.8h0M508.8 199.8h0M527.2 200.5h0M531.6 200.4h0M538.1 200.3h0M542.1 200.4h0M556.8 200.1h0M560.4 199.8h0M564.2 200.4h0M579.6 199.9h0M583.2 200.5h0M590.0 200.2h0M597.9 200.5h0M344.5 203.2h0M347.9 203.7h0M359.4 203.0h0M373.4 203.0h0M381.7 203.7h0M384.8 203.0h0M388.2 203.2h0M392.1 202.9h0M414.8 203.6h0M417.8 203.3h0M425.8 203.3h0M433.4 203.2h0M437.2 203.4h0M443.8 203.8h0M451.8 203.0h0M477.2 203.2h0M480.7 202.9h0M485.0 203.5h0M496.3 203.7h0M521.6 203.7h0M537.1 203.4h0M562.8 203.4h0M577.6 203.2h0M581.4 202.9h0M585.2 203.3h0M353.3 206.3h0M375.9 207.1h0M391.0 206.3h0M394.0 206.8h0M409.4 206.6h0M413.1 206.4h0M416.6 206.5h0M419.8 206.2h0M427.3 206.8h0M431.2 206.8h0M434.7 207.0h0M438.6 206.7h0M464.5 206.3h0M475.5 206.8h0M479.3 206.9h0M490.8 207.0h0M493.7 206.2h0M504.8 206.5h0M523.5 206.3h0M527.2 206.4h0M530.7 206.6h0M538.7 206.2h0M545.5 206.7h0M557.1 207.0h0M560.4 206.8h0M564.0 207.0h0M578.8 206.8h0M583.1 206.9h0M594.4 206.8h0M597.4 206.7h0M347.9 209.4h0M355.4 209.6h0M377.5 209.3h0M399.7 209.7h0M403.7 210.1h0M429.6 210.1h0M440.6 209.4h0M451.8 209.8h0M463.0 209.7h0M481.5 210.2h0M496.0 209.4h0M507.4 209.4h0M529.7 210.1h0M533.2 209.3h0M536.8 209.8h0M548.1 210.0h0M551.1 209.6h0M555.4 209.7h0M562.6 209.7h0M566.4 209.5h0M595.9 209.7h0M397.8 212.6h0M416.4 212.9h0M461.1 212.6h0M479.3 213.5h0M482.7 213.0h0M501.7 213.2h0M505.0 212.7h0M509.1 213.0h0M516.6 212.8h0M519.8 213.3h0M534.7 213.4h0M549.5 212.5h0M560.9 212.6h0M578.8 213.2h0M589.9 212.8h0M351.4 225.0h0M474.3 224.4h0M339.7 216.2h0M341.6 216.2h0M500.0 217.3h0M497.3 220.2h0M404.9 216.0h0M558.5 217.5h0M558.3 219.6h0M410.8 219.6h0M413.2 219.6h0M599.8 219.1h0M449.5 225.5h0M589.0 225.0h0M522.9 213.5h0M522.8 216.5h0M496.9 217.8h0M388.4 220.3h0M386.9 226.0h0M569.0 221.8h0M448.6 222.9h0M445.3 223.3h0M483.7 222.4h0M487.7 213.6h0M491.3 213.6h0M488.0 221.2h0M490.3 221.2h0M393.7 221.6h0M541.9 220.9h0M453.0 221.2h0M485.4 216.1h0M465.0 213.7h0" stroke="#ff7060" stroke-width="0.9" stroke-linecap="round" fill="none"/></g>
<g id="protein"><path d="M412.5 108.6 C420 107.5 430 108 437.9 108.6 C443 109.4 449 111 453.5 113.5 M412.5 108.6 L415 114.3 M438.7 104.5 C439 101 442 99 444.5 98.7 C448 98.5 452 98 456 97.1 C460 96 464 95 467.5 94.6 M464.2 79.9 C466 77 468 75 470.8 74.9 C473 74.5 476 74.6 479 77.4 C478 79 477 79.5 475.7 79.9 C474 82 472.5 83 472.4 84.8 C472 87 474 89 474.9 91.3 C474 93 471 95 469.1 95.5 M453 113 C458 116 462 117 466 119 M474 92 C478 96 479 102 476 107 C474 110 472 112 470 114 M480 100 C483 104 484 108 483 112" stroke="#1f8ea2" stroke-width="1.3" fill="none"/>
<path d="M464.2 79.9 L472.4 89.7 M476 86 C480 90 480 96 478 100 C476 104 472 106 468 106" stroke="#b0b0b0" stroke-width="1.2" fill="none"/>
<ellipse cx="456" cy="95.5" rx="4.2" ry="2" fill="#555548"/><ellipse cx="462.5" cy="108.6" rx="5" ry="2.4" fill="#6a6a58"/>
<ellipse cx="453.5" cy="100.6" rx="2.2" ry="1.4" fill="#e8d020"/><ellipse cx="465" cy="105" rx="2.5" ry="1.5" fill="#e8d020"/>
<ellipse cx="485.5" cy="106" rx="2.3" ry="4.2" fill="#10108a"/>
<path d="M420.0 125.2 Q435.8 127.1 428.6 130.4 Q421.4 133.6 430.1 134.5 Q438.8 135.4 431.5 138.5 Q424.2 141.5 432.7 142.5 Q441.2 143.5 433.3 146.8 Q425.5 150.1 434.4 151.0 Q443.4 151.9 436.7 154.9 Q430.1 158.0 438.0 158.9 Q445.9 159.8 439.2 162.9 Q432.5 166.0 440.7 167.0 L449.0 168.0" stroke="#56066a" stroke-width="6.0" fill="none" stroke-linejoin="round" stroke-linecap="round"/><path d="M419.4 123.9 Q435.2 125.8 428.0 129.1 Q420.8 132.3 429.5 133.2 Q438.2 134.1 430.9 137.2 Q423.6 140.2 432.1 141.2 Q440.6 142.2 432.7 145.5 Q424.9 148.8 433.8 149.7 Q442.8 150.6 436.1 153.6 Q429.5 156.7 437.4 157.6 Q445.3 158.5 438.6 161.6 Q431.9 164.7 440.1 165.7 L448.4 166.7" stroke="#8b14a0" stroke-width="5.0" fill="none" stroke-linejoin="round" stroke-linecap="round"/><path d="M418.9 123.1 Q434.7 125.0 427.5 128.3 Q420.3 131.5 429.0 132.4 Q437.7 133.3 430.4 136.4 Q423.1 139.4 431.6 140.4 Q440.1 141.4 432.2 144.7 Q424.4 148.0 433.3 148.9 Q442.3 149.8 435.6 152.8 Q429.0 155.9 436.9 156.8 Q444.8 157.7 438.1 160.8 Q431.4 163.9 439.6 164.9 L447.9 165.9" stroke="#b23ec6" stroke-width="1.1" fill="none" stroke-linecap="round" opacity="0.8"/>
<path d="M432.3 166.8 Q445.7 170.0 440.3 172.8 Q435.0 175.6 441.5 177.2 Q448.1 178.9 443.2 181.5 Q438.4 184.0 444.3 185.8 Q450.3 187.6 445.6 190.2 L441.0 192.8" stroke="#56066a" stroke-width="6.0" fill="none" stroke-linejoin="round" stroke-linecap="round"/><path d="M431.7 165.5 Q445.1 168.7 439.7 171.5 Q434.4 174.3 440.9 175.9 Q447.5 177.6 442.6 180.2 Q437.8 182.7 443.7 184.5 Q449.7 186.3 445.0 188.9 L440.4 191.5" stroke="#8b14a0" stroke-width="5.0" fill="none" stroke-linejoin="round" stroke-linecap="round"/><path d="M431.2 164.7 Q444.6 167.9 439.2 170.7 Q433.9 173.5 440.4 175.1 Q447.0 176.8 442.1 179.4 Q437.3 181.9 443.2 183.7 Q449.2 185.5 444.5 188.1 L439.9 190.7" stroke="#b23ec6" stroke-width="1.1" fill="none" stroke-linecap="round" opacity="0.8"/>
<path d="M441.8 138.9 Q458.1 144.0 450.3 145.4 Q442.5 146.9 451.4 149.4 Q460.3 152.0 451.9 153.5 Q443.5 155.0 452.1 157.5 Q460.7 160.1 452.5 161.6 Q444.4 163.1 453.5 165.6 Q462.7 168.2 453.5 169.7 Q444.2 171.3 453.1 173.8 Q462.0 176.3 454.1 177.8 Q446.2 179.2 454.5 181.8 Q462.8 184.4 455.0 185.9 Q447.3 187.4 455.6 189.9 Q464.0 192.5 455.6 194.0 Q447.2 195.5 455.5 198.1 Q463.8 200.7 456.2 202.1 Q448.6 203.6 457.0 206.2 Q465.3 208.7 456.8 210.2 Q448.3 211.8 457.7 214.3 L467.0 216.8" stroke="#56066a" stroke-width="6.0" fill="none" stroke-linejoin="round" stroke-linecap="round"/><path d="M441.2 137.6 Q457.5 142.7 449.7 144.1 Q441.9 145.6 450.8 148.1 Q459.7 150.7 451.3 152.2 Q442.9 153.7 451.5 156.2 Q460.1 158.8 451.9 160.3 Q443.8 161.8 452.9 164.3 Q462.1 166.9 452.9 168.4 Q443.6 170.0 452.5 172.5 Q461.4 175.0 453.5 176.5 Q445.6 177.9 453.9 180.5 Q462.2 183.1 454.4 184.6 Q446.7 186.1 455.0 188.6 Q463.4 191.2 455.0 192.7 Q446.6 194.2 454.9 196.8 Q463.2 199.4 455.6 200.8 Q448.0 202.3 456.4 204.9 Q464.7 207.4 456.2 208.9 Q447.7 210.5 457.1 213.0 L466.4 215.5" stroke="#8b14a0" stroke-width="5.0" fill="none" stroke-linejoin="round" stroke-linecap="round"/><path d="M440.7 136.8 Q457.0 141.9 449.2 143.3 Q441.4 144.8 450.3 147.3 Q459.2 149.9 450.8 151.4 Q442.4 152.9 451.0 155.4 Q459.6 158.0 451.4 159.5 Q443.3 161.0 452.4 163.5 Q461.6 166.1 452.4 167.6 Q443.1 169.2 452.0 171.7 Q460.9 174.2 453.0 175.7 Q445.1 177.1 453.4 179.7 Q461.7 182.3 453.9 183.8 Q446.2 185.3 454.5 187.8 Q462.9 190.4 454.5 191.9 Q446.1 193.4 454.4 196.0 Q462.7 198.6 455.1 200.0 Q447.5 201.5 455.9 204.1 Q464.2 206.6 455.7 208.1 Q447.2 209.7 456.6 212.2 L465.9 214.7" stroke="#b23ec6" stroke-width="1.1" fill="none" stroke-linecap="round" opacity="0.8"/>
<path d="M459.5 145.2 Q470.2 151.4 464.4 152.3 Q458.6 153.2 464.4 156.3 Q470.2 159.5 464.9 160.3 Q459.5 161.2 465.4 164.3 Q471.3 167.4 465.3 168.3 Q459.3 169.2 465.0 172.3 Q470.7 175.4 465.5 176.3 Q460.3 177.2 465.9 180.3 Q471.5 183.4 465.5 184.3 Q459.5 185.2 465.7 188.3 Q471.9 191.4 466.0 192.3 Q460.2 193.2 466.1 196.3 Q472.1 199.4 466.5 200.3 Q460.9 201.2 466.8 204.3 Q472.7 207.4 467.1 208.3 Q461.5 209.2 467.0 212.3 L472.6 215.4" stroke="#56066a" stroke-width="6.0" fill="none" stroke-linejoin="round" stroke-linecap="round"/><path d="M458.9 143.9 Q469.6 150.1 463.8 151.0 Q458.0 151.9 463.8 155.0 Q469.6 158.2 464.3 159.0 Q458.9 159.9 464.8 163.0 Q470.7 166.1 464.7 167.0 Q458.7 167.9 464.4 171.0 Q470.1 174.1 464.9 175.0 Q459.7 175.9 465.3 179.0 Q470.9 182.1 464.9 183.0 Q458.9 183.9 465.1 187.0 Q471.3 190.1 465.4 191.0 Q459.6 191.9 465.5 195.0 Q471.5 198.1 465.9 199.0 Q460.3 199.9 466.2 203.0 Q472.1 206.1 466.5 207.0 Q460.9 207.9 466.4 211.0 L472.0 214.1" stroke="#8b14a0" stroke-width="5.0" fill="none" stroke-linejoin="round" stroke-linecap="round"/><path d="M458.4 143.1 Q469.1 149.3 463.3 150.2 Q457.5 151.1 463.3 154.2 Q469.1 157.4 463.8 158.2 Q458.4 159.1 464.3 162.2 Q470.2 165.3 464.2 166.2 Q458.2 167.1 463.9 170.2 Q469.6 173.3 464.4 174.2 Q459.2 175.1 464.8 178.2 Q470.4 181.3 464.4 182.2 Q458.4 183.1 464.6 186.2 Q470.8 189.3 464.9 190.2 Q459.1 191.1 465.0 194.2 Q471.0 197.3 465.4 198.2 Q459.8 199.1 465.7 202.2 Q471.6 205.3 466.0 206.2 Q460.4 207.1 465.9 210.2 L471.5 213.3" stroke="#b23ec6" stroke-width="1.1" fill="none" stroke-linecap="round" opacity="0.8"/>
<path d="M470.2 117.4 Q486.7 123.3 479.0 124.4 Q471.3 125.5 480.1 128.5 Q488.9 131.4 479.5 132.6 Q470.0 133.8 479.0 136.7 Q487.9 139.6 479.7 140.7 Q471.5 141.9 480.0 144.8 Q488.4 147.8 479.9 148.9 Q471.4 150.1 480.3 153.0 Q489.1 155.9 480.9 157.0 Q472.6 158.2 481.4 161.1 Q490.2 164.0 480.7 165.2 Q471.3 166.4 480.7 169.3 Q490.1 172.2 481.3 173.4 Q472.5 174.5 481.0 177.5 Q489.5 180.4 481.2 181.6 Q472.9 182.7 481.6 185.6 Q490.3 188.5 481.7 189.7 Q473.0 190.9 482.5 193.8 Q492.1 196.7 483.0 197.8 Q474.0 199.0 482.7 201.9 Q491.4 204.9 483.2 206.0 Q475.0 207.1 483.4 210.1 Q491.8 213.0 483.9 214.1 Q476.0 215.3 483.8 218.2 L491.7 221.2" stroke="#56066a" stroke-width="6.0" fill="none" stroke-linejoin="round" stroke-linecap="round"/><path d="M469.6 116.1 Q486.1 122.0 478.4 123.1 Q470.7 124.2 479.5 127.2 Q488.3 130.1 478.9 131.3 Q469.4 132.5 478.4 135.4 Q487.3 138.3 479.1 139.4 Q470.9 140.6 479.4 143.5 Q487.8 146.5 479.3 147.6 Q470.8 148.8 479.7 151.7 Q488.5 154.6 480.3 155.7 Q472.0 156.9 480.8 159.8 Q489.6 162.7 480.1 163.9 Q470.7 165.1 480.1 168.0 Q489.5 170.9 480.7 172.1 Q471.9 173.2 480.4 176.2 Q488.9 179.1 480.6 180.3 Q472.3 181.4 481.0 184.3 Q489.7 187.2 481.1 188.4 Q472.4 189.6 481.9 192.5 Q491.5 195.4 482.4 196.5 Q473.4 197.7 482.1 200.6 Q490.8 203.6 482.6 204.7 Q474.4 205.8 482.8 208.8 Q491.2 211.7 483.3 212.8 Q475.4 214.0 483.2 216.9 L491.1 219.9" stroke="#8b14a0" stroke-width="5.0" fill="none" stroke-linejoin="round" stroke-linecap="round"/><path d="M469.1 115.3 Q485.6 121.2 477.9 122.3 Q470.2 123.4 479.0 126.4 Q487.8 129.3 478.4 130.5 Q468.9 131.7 477.9 134.6 Q486.8 137.5 478.6 138.6 Q470.4 139.8 478.9 142.7 Q487.3 145.7 478.8 146.8 Q470.3 148.0 479.2 150.9 Q488.0 153.8 479.8 154.9 Q471.5 156.1 480.3 159.0 Q489.1 161.9 479.6 163.1 Q470.2 164.3 479.6 167.2 Q489.0 170.1 480.2 171.3 Q471.4 172.4 479.9 175.4 Q488.4 178.3 480.1 179.5 Q471.8 180.6 480.5 183.5 Q489.2 186.4 480.6 187.6 Q471.9 188.8 481.4 191.7 Q491.0 194.6 481.9 195.7 Q472.9 196.9 481.6 199.8 Q490.3 202.8 482.1 203.9 Q473.9 205.0 482.3 208.0 Q490.7 210.9 482.8 212.0 Q474.9 213.2 482.7 216.1 L490.6 219.1" stroke="#b23ec6" stroke-width="1.1" fill="none" stroke-linecap="round" opacity="0.8"/>
<path d="M485.1 114.0 Q496.1 120.7 490.7 121.5 Q485.2 122.3 489.9 125.6 Q494.6 129.0 489.6 129.8 Q484.6 130.5 489.9 133.9 Q495.2 137.3 490.0 138.0 Q484.7 138.8 490.0 142.2 Q495.3 145.5 490.3 146.3 Q485.2 147.1 490.3 150.4 Q495.4 153.8 489.9 154.6 Q484.3 155.3 489.7 158.7 Q495.1 162.1 489.8 162.8 Q484.4 163.6 489.7 167.0 Q495.0 170.3 490.0 171.1 Q485.0 171.9 490.6 175.2 L496.2 178.6" stroke="#56066a" stroke-width="6.0" fill="none" stroke-linejoin="round" stroke-linecap="round"/><path d="M484.5 112.7 Q495.5 119.4 490.1 120.2 Q484.6 121.0 489.3 124.3 Q494.0 127.7 489.0 128.5 Q484.0 129.2 489.3 132.6 Q494.6 136.0 489.4 136.7 Q484.1 137.5 489.4 140.9 Q494.7 144.2 489.7 145.0 Q484.6 145.8 489.7 149.1 Q494.8 152.5 489.3 153.3 Q483.7 154.0 489.1 157.4 Q494.5 160.8 489.2 161.5 Q483.8 162.3 489.1 165.7 Q494.4 169.0 489.4 169.8 Q484.4 170.6 490.0 173.9 L495.6 177.3" stroke="#8b14a0" stroke-width="5.0" fill="none" stroke-linejoin="round" stroke-linecap="round"/><path d="M484.0 111.9 Q495.0 118.6 489.6 119.4 Q484.1 120.2 488.8 123.5 Q493.5 126.9 488.5 127.7 Q483.5 128.4 488.8 131.8 Q494.1 135.2 488.9 135.9 Q483.6 136.7 488.9 140.1 Q494.2 143.4 489.2 144.2 Q484.1 145.0 489.2 148.3 Q494.3 151.7 488.8 152.5 Q483.2 153.2 488.6 156.6 Q494.0 160.0 488.7 160.7 Q483.3 161.5 488.6 164.9 Q493.9 168.2 488.9 169.0 Q483.9 169.8 489.5 173.1 L495.1 176.5" stroke="#b23ec6" stroke-width="1.1" fill="none" stroke-linecap="round" opacity="0.8"/>
<path d="M448.0 133.4 Q451.3 123.7 453.6 128.0 Q455.8 132.3 457.9 128.0 Q459.9 123.7 461.9 128.2 Q463.9 132.8 465.9 128.4 L468.0 124.0" stroke="#40044c" stroke-width="6.0" fill="none" stroke-linejoin="round" stroke-linecap="round"/><path d="M447.4 132.1 Q450.7 122.4 453.0 126.7 Q455.2 131.0 457.3 126.7 Q459.3 122.4 461.3 126.9 Q463.3 131.5 465.3 127.1 L467.4 122.7" stroke="#6a0c80" stroke-width="5.0" fill="none" stroke-linejoin="round" stroke-linecap="round"/><path d="M446.9 131.3 Q450.2 121.6 452.5 125.9 Q454.7 130.2 456.8 125.9 Q458.8 121.6 460.8 126.1 Q462.8 130.7 464.8 126.3 L466.9 121.9" stroke="#b23ec6" stroke-width="1.1" fill="none" stroke-linecap="round" opacity="0.8"/>
<path d="M458 141 L462 150 M456 150 L464 158 M460 146 l4 -3" stroke="#30c8d0" stroke-width="1.2"/>
<path d="M440 214 C442 220 446 224 452 226 M468 214 C471 218 474 222 478 222 M454 214 L455 226" stroke="#1f8ea2" stroke-width="1.3" fill="none"/></g>
<g id="arrows"><path d="M230.9 120.7 L239.1 115.8 L236.2 108.2 L255.2 114.1 L251.6 133.8 L247.7 127.9 L238.1 132.8 Z" fill="#3461a8"/>
<path d="M334.8 37.4 H344.6 V27.6 L357.4 47 L344.6 66.5 V56 H334.8 Z" fill="#3262a4"/>
<path d="M437.7 161.1 C436.3 159.5 432.5 154.6 429.5 151.3 C426.5 148.0 423.2 144.2 419.6 141.4 C416.0 138.6 411.3 136.2 408.0 134.5 C404.7 132.8 403.4 132.0 400.0 131.2 C396.6 130.4 391.5 130.0 387.5 129.8 C383.5 129.6 379.8 129.6 376.0 129.8 C372.2 130.0 368.3 130.3 364.5 130.9 C360.7 131.5 356.8 132.1 353.0 133.2 C349.2 134.2 344.2 136.1 341.5 137.2 C338.8 138.3 339.5 138.5 336.5 139.8 C333.5 141.2 327.2 143.1 323.3 145.3 C319.4 147.5 316.1 150.1 312.8 153.1 C309.5 156.1 306.2 159.9 303.6 163.6 C301.0 167.3 298.7 171.4 297.1 175.4 C295.5 179.4 294.6 183.3 293.8 187.3 C293.0 191.3 292.7 197.3 292.5 199.3 L285.9 203 L302.3 212.4 L312.8 193.2 L306.9 193.8 C306.9 193.2 306.7 192.3 306.9 189.9 C307.1 187.5 307.4 182.9 308.2 179.4 C309.0 175.9 309.9 172.4 311.5 168.9 C313.1 165.4 315.7 161.5 318.1 158.4 C320.5 155.3 322.7 152.9 326.0 150.5 C329.3 148.1 335.2 145.4 337.8 144.0 C340.4 142.6 339.0 143.0 341.5 142.0 C344.0 141.0 349.2 139.1 353.0 137.9 C356.8 136.8 360.7 135.8 364.5 135.1 C368.3 134.4 372.2 134.0 376.0 133.9 C379.8 133.8 383.8 134.0 387.5 134.6 C391.2 135.2 394.7 136.2 398.0 137.6 C401.3 139.0 404.2 141.0 407.3 143.0 C410.4 145.0 413.7 147.1 416.3 149.6 C418.9 152.1 421.4 155.1 422.9 157.8 C424.3 160.5 424.6 164.3 425.0 165.6 Z" fill="#285a80" stroke="#3d70a2" stroke-width="1.1" stroke-linejoin="round"/></g>
<g id="light"><path d="M395.8 74.4 C393 75.5 393 79.5 394.9 81.8 C398 82.6 402 82.3 404.7 82.3 L421.5 82.3 C423.5 82.8 424 83.6 423.4 84.3 L418.5 88.2 L414.6 91.7 C414.4 92.5 415.3 93.2 416.5 93.2 L426.4 93.2 L428.8 91.2" stroke="#000" stroke-width="3" fill="none" stroke-linecap="round" stroke-linejoin="round"/><path d="M427.4 90.7 L433.3 103 L439.7 90.7" stroke="#000" stroke-width="3" fill="none" stroke-linecap="round" stroke-linejoin="miter"/></g>
<g id="mol"><path d="M53.0 257.4L58.3 282.0 M58.3 282.0L37.6 297.8 M58.3 282.0L81.3 293.3 M65.2 276.2L80.5 264.3 M81.3 293.3L101.6 278.1 M101.6 278.1L124.8 284.0 M101.6 278.1L97.7 259.0 M81.3 293.3L81.3 316.5 M37.6 297.8L42.0 323.4 M42.0 323.4L60.2 332.3 M60.2 332.3L81.3 316.5 M81.3 316.5L100.4 327.6 M100.4 327.6L112.3 315.4 M100.4 327.6L92.6 339.5 M100.4 327.6L111.8 338.8 M60.2 332.3L67.1 350.1 M42.0 323.4L26.7 334.0 M42.0 323.4L50.4 325.4 M60.2 332.3L51.2 336.0 M37.6 297.8L23.2 291.0 M37.6 297.8L28.7 297.8 M53.0 257.4L35.6 252.0 M53.0 257.4L66.2 243.6 M53.0 257.4L50.4 266.9 M58.3 282.0L67.6 292.7 M124.8 284.0L144.5 267.3 M124.8 284.0L128.9 302.1 M144.5 267.3L139.6 241.7 M139.6 241.7L128.1 233.4 M139.6 241.7L128.1 240.7 M139.6 241.7L154.9 230.8 M144.5 267.3L167.5 276.2 M167.5 276.2L168.7 294.9 M167.5 276.2L188.4 262.4 M188.4 262.4L185.9 243.6 M188.4 262.4L211.7 269.3 M211.7 269.3L224.7 255.0 M211.7 269.3L222.9 291.9 M222.9 291.9L208.6 314.2 M208.6 314.2L196.6 312.1 M208.6 314.2L198.6 318.5 M208.6 314.2L219.5 329.4 M222.9 291.9L248.1 291.9 M248.1 291.9L257.0 274.2 M248.1 291.9L262.5 311.0 M262.5 311.0L285.6 311.0 M262.5 311.0L254.6 328.0 M285.6 311.0L295.4 295.9 M285.6 311.0L295.4 326.0 M65.2 276.2L58.3 282.0" stroke="#000" stroke-width="1.9" fill="none"/>
<circle cx="35.6" cy="252" r="5.1" fill="url(#gH)"/>
<circle cx="66.2" cy="243.6" r="5.1" fill="url(#gH)"/>
<circle cx="50.4" cy="266.9" r="5.1" fill="url(#gH)"/>
<circle cx="80.5" cy="264.3" r="5.1" fill="url(#gH)"/>
<circle cx="97.7" cy="259" r="5.1" fill="url(#gH)"/>
<circle cx="23.2" cy="291" r="5.1" fill="url(#gH)"/>
<circle cx="28.7" cy="297.8" r="5.1" fill="url(#gH)"/>
<circle cx="67.6" cy="292.7" r="5.1" fill="url(#gH)"/>
<circle cx="112.3" cy="315.4" r="5.1" fill="url(#gH)"/>
<circle cx="50.4" cy="325.4" r="5.1" fill="url(#gH)"/>
<circle cx="26.7" cy="334" r="5.1" fill="url(#gH)"/>
<circle cx="51.2" cy="336" r="5.1" fill="url(#gH)"/>
<circle cx="128.9" cy="302.1" r="5.1" fill="url(#gH)"/>
<circle cx="128.1" cy="233.4" r="5.1" fill="url(#gH)"/>
<circle cx="128.1" cy="240.7" r="5.1" fill="url(#gH)"/>
<circle cx="92.6" cy="339.5" r="5.1" fill="url(#gH)"/>
<circle cx="111.8" cy="338.8" r="5.1" fill="url(#gH)"/>
<circle cx="67.1" cy="350.1" r="5.1" fill="url(#gH)"/>
<circle cx="154.9" cy="230.8" r="5.1" fill="url(#gH)"/>
<circle cx="185.9" cy="243.6" r="5.1" fill="url(#gH)"/>
<circle cx="224.7" cy="255" r="5.1" fill="url(#gH)"/>
<circle cx="168.7" cy="294.9" r="5.1" fill="url(#gH)"/>
<circle cx="196.6" cy="312.1" r="5.1" fill="url(#gH)"/>
<circle cx="198.6" cy="318.5" r="5.1" fill="url(#gH)"/>
<circle cx="219.5" cy="329.4" r="5.1" fill="url(#gH)"/>
<circle cx="257" cy="274.2" r="5.1" fill="url(#gH)"/>
<circle cx="295.4" cy="295.9" r="5.1" fill="url(#gH)"/>
<circle cx="295.4" cy="326" r="5.1" fill="url(#gH)"/>
<circle cx="254.6" cy="328" r="5.1" fill="url(#gH)"/>
<circle cx="53" cy="257.4" r="7.0" fill="url(#gC)"/>
<circle cx="65.2" cy="276.2" r="7.0" fill="url(#gC)"/>
<circle cx="58.3" cy="282" r="7.0" fill="url(#gC)"/>
<circle cx="37.6" cy="297.8" r="7.0" fill="url(#gC)"/>
<circle cx="81.3" cy="293.3" r="7.0" fill="url(#gC)"/>
<circle cx="101.6" cy="278.1" r="7.0" fill="url(#gC)"/>
<circle cx="124.8" cy="284" r="7.0" fill="url(#gC)"/>
<circle cx="81.3" cy="316.5" r="7.0" fill="url(#gC)"/>
<circle cx="42" cy="323.4" r="7.0" fill="url(#gC)"/>
<circle cx="60.2" cy="332.3" r="7.0" fill="url(#gC)"/>
<circle cx="100.4" cy="327.6" r="7.0" fill="url(#gC)"/>
<circle cx="144.5" cy="267.3" r="7.0" fill="url(#gC)"/>
<circle cx="139.6" cy="241.7" r="7.0" fill="url(#gC)"/>
<circle cx="167.5" cy="276.2" r="7.0" fill="url(#gC)"/>
<circle cx="222.9" cy="291.9" r="7.0" fill="url(#gC)"/>
<circle cx="208.6" cy="314.2" r="7.0" fill="url(#gC)"/>
<circle cx="248.1" cy="291.9" r="7.0" fill="url(#gC)"/>
<circle cx="262.5" cy="311" r="7.0" fill="url(#gC)"/>
<circle cx="188.4" cy="262.4" r="7.0" fill="url(#gO)"/>
<circle cx="211.7" cy="269.3" r="7.0" fill="url(#gO)"/>
<circle cx="285.6" cy="311" r="7.0" fill="url(#gN)"/></g>
<g id="eth"><path d="M479.4 336.6H505.7 M479.4 340.4H505.7 M479.4 338.5L469.6 320.2 M479.4 338.5L469.6 354.9 M505.7 338.5L515.5 320.0 M505.7 338.5L515.5 354.9" stroke="#8a8a7a" stroke-width="1.4" fill="none"/>
<circle cx="469.6" cy="320.2" r="5.3" fill="url(#gH)"/>
<circle cx="515.5" cy="320.0" r="5.3" fill="url(#gH)"/>
<circle cx="469.6" cy="354.9" r="5.3" fill="url(#gH)"/>
<circle cx="515.5" cy="354.9" r="5.3" fill="url(#gH)"/>
<circle cx="479.4" cy="338.5" r="7.6" fill="url(#gC)"/>
<circle cx="505.7" cy="338.5" r="7.6" fill="url(#gC)"/></g>
<g id="chartc"><line x1="55.2" y1="369.8" x2="55.2" y2="607.1" stroke="#878787" stroke-width="1.2"/>
<path d="M50.6 607.1H55.2 M50.6 599.4H55.2 M50.6 591.6H55.2 M50.6 583.8H55.2 M50.6 576.1H55.2 M50.6 568.3H55.2 M50.6 560.6H55.2 M50.6 552.8H55.2 M50.6 545.0H55.2 M50.6 537.3H55.2 M50.6 529.5H55.2 M50.6 521.8H55.2 M50.6 514.0H55.2 M50.6 506.2H55.2 M50.6 498.5H55.2 M50.6 490.7H55.2 M50.6 483.0H55.2 M50.6 475.2H55.2 M50.6 467.4H55.2 M50.6 459.7H55.2 M50.6 451.9H55.2 M50.6 444.2H55.2 M50.6 436.4H55.2 M50.6 428.6H55.2 M50.6 420.9H55.2 M50.6 413.1H55.2 M50.6 405.4H55.2 M50.6 397.6H55.2 M50.6 389.8H55.2 M50.6 382.1H55.2 M50.6 374.3H55.2 M55.2 552.8V556.8 M82.2 552.8V556.8 M109.2 552.8V556.8 M136.2 552.8V556.8 M163.2 552.8V556.8 M190.2 552.8V556.8 M217.2 552.8V556.8 M244.2 552.8V556.8 M271.2 552.8V556.8 M298.2 552.8V556.8" stroke="#878787" stroke-width="1.2" fill="none"/>
<line x1="55.2" y1="552.8" x2="298.4" y2="552.8" stroke="#878787" stroke-width="1.4"/>
<text x="42" y="402.8" text-anchor="end" font-size="14.5">2.0</text>
<text x="42" y="441.6" text-anchor="end" font-size="14.5">1.5</text>
<text x="42" y="480.4" text-anchor="end" font-size="14.5">1.0</text>
<text x="42" y="519.2" text-anchor="end" font-size="14.5">0.5</text>
<text x="42" y="558.0" text-anchor="end" font-size="14.5">0.0</text>
<text x="42" y="596.8" text-anchor="end" font-size="14.5">-0.5</text>
<text x="55.2" y="574.2" text-anchor="middle" font-size="14">0</text>
<text x="136.2" y="574.2" text-anchor="middle" font-size="14">30</text>
<text x="217.2" y="574.2" text-anchor="middle" font-size="14">60</text>
<text x="299.7" y="574.2" text-anchor="middle" font-size="14">90</text>
<text x="143" y="592.2" font-size="14" textLength="115.5" lengthAdjust="spacingAndGlyphs">Dihedral angle (°)</text>
<text transform="translate(69.6 532.6) rotate(-90)" font-size="14" textLength="125.8" lengthAdjust="spacingAndGlyphs">Relative energy (eV)</text>
<path d="M55.2 552.8 C59.7 552.3 73.2 551.5 82.2 550.1 C91.2 548.7 100.2 547.1 109.2 544.3 C118.2 541.4 127.2 537.7 136.2 532.9 C145.2 528.0 154.2 521.6 163.2 514.9 C172.2 508.3 181.2 501.2 190.2 493.0 C199.2 484.9 208.2 475.3 217.2 466.2 C226.2 457.1 235.2 447.7 244.2 438.4 C253.2 429.2 262.2 419.7 271.2 410.8 C280.2 401.9 293.7 389.3 298.2 385.0" stroke="#f0863a" stroke-width="2" fill="none"/>
<path d="M55.2 552.8 C59.7 549.7 73.2 537.8 82.2 534.3 C91.2 530.7 100.2 533.1 109.2 531.5 C118.2 530.0 127.2 527.7 136.2 525.0 C145.2 522.4 154.2 519.2 163.2 515.7 C172.2 512.2 181.2 508.3 190.2 504.1 C199.2 500.0 208.2 495.3 217.2 490.7 C226.2 486.2 235.2 481.2 244.2 476.8 C253.2 472.4 262.2 468.2 271.2 464.4 C280.2 460.7 293.7 456.0 298.2 454.3" stroke="#31a9b8" stroke-width="2" fill="none"/>
<path d="M55.2 552.8 C59.7 552.8 73.2 553.4 82.2 552.8 C91.2 552.2 100.2 551.1 109.2 549.3 C118.2 547.5 127.2 544.8 136.2 542.1 C145.2 539.3 154.2 536.2 163.2 532.9 C172.2 529.5 181.2 525.4 190.2 521.8 C199.2 518.1 208.2 514.5 217.2 510.9 C226.2 507.3 235.2 503.5 244.2 500.0 C253.2 496.5 262.2 492.0 271.2 489.8 C280.2 487.6 293.7 487.5 298.2 487.0" stroke="#3f74b4" stroke-width="2" fill="none"/>
<path d="M55.2 552.8 C59.7 552.8 73.2 553.1 82.2 552.8 C91.2 552.5 100.2 552.0 109.2 550.9 C118.2 549.7 127.2 547.9 136.2 546.1 C145.2 544.4 154.2 542.3 163.2 540.3 C172.2 538.3 181.2 535.7 190.2 534.3 C199.2 532.8 208.2 531.3 217.2 531.5 C226.2 531.8 235.2 532.2 244.2 535.6 C253.2 539.0 264.4 545.5 271.2 552.0 C277.9 558.5 280.2 567.3 284.7 574.5 C289.2 581.6 296.0 591.7 298.2 595.1" stroke="#bd4446" stroke-width="2" fill="none"/>
<circle cx="82.2" cy="550.1" r="4" fill="#f0863a"/>
<circle cx="109.2" cy="544.3" r="4" fill="#f0863a"/>
<circle cx="136.2" cy="532.9" r="4" fill="#f0863a"/>
<circle cx="163.2" cy="514.9" r="4" fill="#f0863a"/>
<circle cx="190.2" cy="493.0" r="4" fill="#f0863a"/>
<circle cx="217.2" cy="466.2" r="4" fill="#f0863a"/>
<circle cx="244.2" cy="438.4" r="4" fill="#f0863a"/>
<circle cx="271.2" cy="410.8" r="4" fill="#f0863a"/>
<circle cx="298.2" cy="385.0" r="4" fill="#f0863a"/>
<path d="M78.0 534.3h8.4M82.2 530.1v8.4M79.0 531.1l6.3 6.3M79.0 537.4l6.3 -6.3" stroke="#5fc3cf" stroke-width="1.1" fill="none"/>
<path d="M105.0 531.5h8.4M109.2 527.3v8.4M106.0 528.4l6.3 6.3M106.0 534.7l6.3 -6.3" stroke="#5fc3cf" stroke-width="1.1" fill="none"/>
<path d="M132.0 525.0h8.4M136.2 520.8v8.4M133.0 521.9l6.3 6.3M133.0 528.2l6.3 -6.3" stroke="#5fc3cf" stroke-width="1.1" fill="none"/>
<path d="M159.0 515.7h8.4M163.2 511.5v8.4M160.0 512.6l6.3 6.3M160.0 518.9l6.3 -6.3" stroke="#5fc3cf" stroke-width="1.1" fill="none"/>
<path d="M186.0 504.1h8.4M190.2 499.9v8.4M187.0 501.0l6.3 6.3M187.0 507.3l6.3 -6.3" stroke="#5fc3cf" stroke-width="1.1" fill="none"/>
<path d="M213.0 490.7h8.4M217.2 486.5v8.4M214.0 487.6l6.3 6.3M214.0 493.9l6.3 -6.3" stroke="#5fc3cf" stroke-width="1.1" fill="none"/>
<path d="M240.0 476.8h8.4M244.2 472.6v8.4M241.0 473.7l6.3 6.3M241.0 480.0l6.3 -6.3" stroke="#5fc3cf" stroke-width="1.1" fill="none"/>
<path d="M267.0 464.4h8.4M271.2 460.2v8.4M268.1 461.3l6.3 6.3M268.1 467.6l6.3 -6.3" stroke="#5fc3cf" stroke-width="1.1" fill="none"/>
<path d="M294.0 454.3h8.4M298.2 450.1v8.4M295.1 451.2l6.3 6.3M295.1 457.5l6.3 -6.3" stroke="#5fc3cf" stroke-width="1.1" fill="none"/>
<path d="M82.2 549.2L85.8 552.8L82.2 556.4L78.6 552.8Z" fill="#3f74b4"/>
<path d="M109.2 545.7L112.8 549.3L109.2 552.9L105.6 549.3Z" fill="#3f74b4"/>
<path d="M136.2 538.5L139.8 542.1L136.2 545.7L132.6 542.1Z" fill="#3f74b4"/>
<path d="M163.2 529.3L166.8 532.9L163.2 536.5L159.6 532.9Z" fill="#3f74b4"/>
<path d="M190.2 518.2L193.8 521.8L190.2 525.4L186.6 521.8Z" fill="#3f74b4"/>
<path d="M217.2 507.3L220.8 510.9L217.2 514.5L213.6 510.9Z" fill="#3f74b4"/>
<path d="M244.2 496.4L247.8 500.0L244.2 503.6L240.6 500.0Z" fill="#3f74b4"/>
<path d="M271.2 486.2L274.8 489.8L271.2 493.4L267.6 489.8Z" fill="#3f74b4"/>
<path d="M298.2 483.4L301.8 487.0L298.2 490.6L294.6 487.0Z" fill="#3f74b4"/>
<rect x="51.2" y="548.8" width="8" height="8" fill="#bd4446"/>
<rect x="78.2" y="548.8" width="8" height="8" fill="#bd4446"/>
<rect x="105.2" y="546.9" width="8" height="8" fill="#bd4446"/>
<rect x="132.2" y="542.1" width="8" height="8" fill="#bd4446"/>
<rect x="159.2" y="536.3" width="8" height="8" fill="#bd4446"/>
<rect x="186.2" y="530.3" width="8" height="8" fill="#bd4446"/>
<rect x="213.2" y="527.5" width="8" height="8" fill="#bd4446"/>
<rect x="240.2" y="531.6" width="8" height="8" fill="#bd4446"/>
<rect x="267.2" y="548.0" width="8" height="8" fill="#bd4446"/>
<rect x="280.7" y="570.5" width="8" height="8" fill="#bd4446"/>
<rect x="294.2" y="591.1" width="8" height="8" fill="#bd4446"/>
<line x1="88" y1="393.8" x2="105.6" y2="393.8" stroke="#f0863a" stroke-width="2"/>
<circle cx="96.8" cy="393.8" r="4" fill="#f0863a"/>
<text x="113" y="398.6" font-size="14" textLength="80.5" lengthAdjust="spacingAndGlyphs">Retinal (0) S</text>
<text x="194.6" y="402.0" font-size="10.5">0</text>
<line x1="88" y1="409.3" x2="105.6" y2="409.3" stroke="#31a9b8" stroke-width="2"/>
<path d="M92.6 409.3h8.4M96.8 405.1v8.4M93.6 406.2l6.3 6.3M93.6 412.4l6.3 -6.3" stroke="#5fc3cf" stroke-width="1.1" fill="none"/>
<text x="113" y="414.1" font-size="14" textLength="80.5" lengthAdjust="spacingAndGlyphs">Retinal (+) S</text>
<text x="194.6" y="417.5" font-size="10.5">0</text>
<line x1="88" y1="424.6" x2="105.6" y2="424.6" stroke="#3f74b4" stroke-width="2"/>
<path d="M96.8 421.0L100.4 424.6L96.8 428.2L93.2 424.6Z" fill="#3f74b4"/>
<text x="113" y="429.4" font-size="14" textLength="80.5" lengthAdjust="spacingAndGlyphs">Retinal (+) S</text>
<text x="194.6" y="432.8" font-size="10.5">1</text>
<line x1="88" y1="440.0" x2="105.6" y2="440.0" stroke="#bd4446" stroke-width="2"/>
<rect x="92.8" y="436.0" width="8" height="8" fill="#bd4446"/>
<text x="113" y="444.8" font-size="14" textLength="80.5" lengthAdjust="spacingAndGlyphs">Retinal (0) S</text>
<text x="194.6" y="448.2" font-size="10.5">1</text></g>
<g id="chartd"><path d="M407.6 552.0H412 M407.6 541.3H412 M407.6 530.5H412 M407.6 519.8H412 M407.6 509.1H412 M407.6 498.4H412 M407.6 487.6H412 M407.6 476.9H412 M407.6 466.2H412 M407.6 455.5H412 M407.6 444.8H412 M407.6 434.0H412 M407.6 423.3H412 M407.6 412.6H412 M407.6 401.9H412 M407.6 391.1H412 M407.6 380.4H412 M420.8 552V555.6 M429.6 552V555.6 M438.3 552V555.6 M447.1 552V555.6 M455.9 552V555.6 M464.7 552V555.6 M473.5 552V555.6 M482.2 552V555.6 M491.0 552V555.6 M499.8 552V555.6 M508.6 552V555.6 M517.4 552V555.6 M526.1 552V555.6 M534.9 552V555.6 M543.7 552V555.6 M552.5 552V555.6 M561.3 552V555.6 M570.0 552V555.6 M578.8 552V555.6 M587.6 552V555.6" stroke="#000" stroke-width="1.2" fill="none"/>
<path d="M412 379.2V552H588" stroke="#000" stroke-width="1.3" fill="none"/>
<text x="399.2" y="385.0" text-anchor="end" font-size="14.5">8</text>
<text x="399.2" y="427.9" text-anchor="end" font-size="14.5">6</text>
<text x="399.2" y="470.8" text-anchor="end" font-size="14.5">4</text>
<text x="399.2" y="513.7" text-anchor="end" font-size="14.5">2</text>
<text x="399.2" y="556.6" text-anchor="end" font-size="14.5">0</text>
<text x="411.5" y="573.9" text-anchor="middle" font-size="14.5">0</text>
<text x="490.5" y="573.9" text-anchor="middle" font-size="14.5">90</text>
<text x="569.5" y="573.9" text-anchor="middle" font-size="14.5">180</text>
<text x="439" y="595.4" font-size="14.5" textLength="121.5" lengthAdjust="spacingAndGlyphs">Dihedral angle (°)</text>
<text transform="translate(382.4 520) rotate(-90)" font-size="14.5" textLength="104.6" lengthAdjust="spacingAndGlyphs">Relative E (eV)</text>
<path d="M412.0 476.1 L412.9 476.1 L413.8 476.1 L414.6 476.1 L415.5 476.2 L416.4 476.2 L417.3 476.3 L418.1 476.3 L419.0 476.4 L419.9 476.5 L420.8 476.6 L421.7 476.7 L422.5 476.9 L423.4 477.0 L424.3 477.1 L425.2 477.3 L426.0 477.5 L426.9 477.6 L427.8 477.8 L428.7 478.0 L429.6 478.2 L430.4 478.4 L431.3 478.6 L432.2 478.9 L433.1 479.1 L433.9 479.3 L434.8 479.6 L435.7 479.8 L436.6 480.1 L437.5 480.4 L438.3 480.6 L439.2 480.9 L440.1 481.2 L441.0 481.5 L441.9 481.8 L442.7 482.1 L443.6 482.4 L444.5 482.7 L445.4 483.0 L446.2 483.3 L447.1 483.6 L448.0 483.9 L448.9 484.2 L449.8 484.5 L450.6 484.9 L451.5 485.2 L452.4 485.5 L453.3 485.8 L454.1 486.1 L455.0 486.5 L455.9 486.8 L456.8 487.1 L457.7 487.4 L458.5 487.7 L459.4 488.0 L460.3 488.3 L461.2 488.6 L462.0 488.9 L462.9 489.2 L463.8 489.5 L464.7 489.7 L465.6 490.0 L466.4 490.3 L467.3 490.5 L468.2 490.8 L469.1 491.0 L469.9 491.3 L470.8 491.5 L471.7 491.7 L472.6 492.0 L473.5 492.2 L474.3 492.4 L475.2 492.6 L476.1 492.7 L477.0 492.9 L477.9 493.1 L478.7 493.2 L479.6 493.4 L480.5 493.5 L481.4 493.6 L482.2 493.7 L483.1 493.9 L484.0 493.9 L484.9 494.0 L485.8 494.1 L486.6 494.2 L487.5 494.2 L488.4 494.2 L489.3 494.3 L490.1 494.3 L491.0 494.3 L491.9 494.3 L492.8 494.3 L493.7 494.2 L494.5 494.2 L495.4 494.2 L496.3 494.1 L497.2 494.0 L498.0 493.9 L498.9 493.9 L499.8 493.7 L500.7 493.6 L501.6 493.5 L502.4 493.4 L503.3 493.2 L504.2 493.1 L505.1 492.9 L505.9 492.7 L506.8 492.6 L507.7 492.4 L508.6 492.2 L509.5 492.0 L510.3 491.7 L511.2 491.5 L512.1 491.3 L513.0 491.0 L513.8 490.8 L514.7 490.5 L515.6 490.3 L516.5 490.0 L517.4 489.7 L518.2 489.5 L519.1 489.2 L520.0 488.9 L520.9 488.6 L521.8 488.3 L522.6 488.0 L523.5 487.7 L524.4 487.4 L525.3 487.1 L526.1 486.8 L527.0 486.5 L527.9 486.1 L528.8 485.8 L529.7 485.5 L530.5 485.2 L531.4 484.9 L532.3 484.5 L533.2 484.2 L534.0 483.9 L534.9 483.6 L535.8 483.3 L536.7 483.0 L537.6 482.7 L538.4 482.4 L539.3 482.1 L540.2 481.8 L541.1 481.5 L541.9 481.2 L542.8 480.9 L543.7 480.6 L544.6 480.4 L545.5 480.1 L546.3 479.8 L547.2 479.6 L548.1 479.3 L549.0 479.1 L549.8 478.9 L550.7 478.6 L551.6 478.4 L552.5 478.2 L553.4 478.0 L554.2 477.8 L555.1 477.6 L556.0 477.5 L556.9 477.3 L557.7 477.1 L558.6 477.0 L559.5 476.9 L560.4 476.7 L561.3 476.6 L562.1 476.5 L563.0 476.4 L563.9 476.3 L564.8 476.3 L565.6 476.2 L566.5 476.2 L567.4 476.1 L568.3 476.1 L569.2 476.1 L570.0 476.1 L570.9 476.1 L571.8 476.1" stroke="#ff1010" stroke-width="5.6" fill="none" stroke-linecap="round" stroke-linejoin="round"/>
<path d="M412.0 391.1 L412.9 391.1 L413.8 391.2 L414.6 391.2 L415.5 391.3 L416.4 391.3 L417.3 391.4 L418.1 391.6 L419.0 391.8 L419.9 392.0 L420.8 392.3 L421.7 392.6 L422.5 392.9 L423.4 393.3 L424.3 393.7 L425.2 394.2 L426.0 394.7 L426.9 395.3 L427.8 395.9 L428.7 396.5 L429.6 397.2 L430.4 397.9 L431.3 398.7 L432.2 399.6 L433.1 400.6 L433.9 401.5 L434.8 402.5 L435.7 403.5 L436.6 404.4 L437.5 405.4 L438.3 406.4 L439.2 407.4 L440.1 408.4 L441.0 409.4 L441.9 410.4 L442.7 411.3 L443.6 412.2 L444.5 413.1 L445.4 413.9 L446.2 414.7 L447.1 415.5 L448.0 416.3 L448.9 417.1 L449.8 417.8 L450.6 418.6 L451.5 419.3 L452.4 420.0 L453.3 420.7 L454.1 421.4 L455.0 422.1 L455.9 422.8 L456.8 423.5 L457.7 424.2 L458.5 424.8 L459.4 425.5 L460.3 426.1 L461.2 426.7 L462.0 427.4 L462.9 428.0 L463.8 428.6 L464.7 429.2 L465.6 429.8 L466.4 430.3 L467.3 430.9 L468.2 431.4 L469.1 432.0 L469.9 432.5 L470.8 433.0 L471.7 433.6 L472.6 434.1 L473.5 434.7 L474.3 435.2 L475.2 435.8 L476.1 436.3 L477.0 436.9 L477.9 437.5 L478.7 438.1 L479.6 438.7 L480.5 439.4 L481.4 440.2 L482.2 441.0 L483.1 441.9 L484.0 442.8 L484.9 443.8 L485.8 445.0 L486.6 446.2 L487.5 447.6 L488.4 449.3 L489.3 451.2 L490.1 453.3 L491.0 455.5 L491.9 453.3 L492.8 451.2 L493.7 449.3 L494.5 447.6 L495.4 446.2 L496.3 445.0 L497.2 443.8 L498.0 442.8 L498.9 441.9 L499.8 441.0 L500.7 440.2 L501.6 439.4 L502.4 438.7 L503.3 438.1 L504.2 437.5 L505.1 436.9 L505.9 436.3 L506.8 435.8 L507.7 435.2 L508.6 434.7 L509.5 434.1 L510.3 433.6 L511.2 433.0 L512.1 432.5 L513.0 432.0 L513.8 431.4 L514.7 430.9 L515.6 430.3 L516.5 429.8 L517.4 429.2 L518.2 428.6 L519.1 428.0 L520.0 427.4 L520.9 426.7 L521.8 426.1 L522.6 425.5 L523.5 424.8 L524.4 424.2 L525.3 423.5 L526.1 422.8 L527.0 422.1 L527.9 421.4 L528.8 420.7 L529.7 420.0 L530.5 419.3 L531.4 418.6 L532.3 417.8 L533.2 417.1 L534.0 416.3 L534.9 415.5 L535.8 414.7 L536.7 413.9 L537.6 413.1 L538.4 412.2 L539.3 411.3 L540.2 410.4 L541.1 409.4 L541.9 408.4 L542.8 407.4 L543.7 406.4 L544.6 405.4 L545.5 404.4 L546.3 403.5 L547.2 402.5 L548.1 401.5 L549.0 400.6 L549.8 399.6 L550.7 398.7 L551.6 397.9 L552.5 397.2 L553.4 396.5 L554.2 395.9 L555.1 395.3 L556.0 394.7 L556.9 394.2 L557.7 393.7 L558.6 393.3 L559.5 392.9 L560.4 392.6 L561.3 392.3 L562.1 392.0 L563.0 391.8 L563.9 391.6 L564.8 391.4 L565.6 391.3 L566.5 391.3 L567.4 391.2 L568.3 391.2 L569.2 391.1 L570.0 391.1 L570.9 391.1 L571.8 391.2 L572.7 391.2 L573.6 391.3 L574.4 391.3 L575.3 391.4 L576.2 391.6 L577.1 391.8 L577.9 392.0 L578.8 392.3 L579.7 392.6 L580.6 392.9 L581.5 393.3 L582.3 393.7 L583.2 394.2 L584.1 394.7 L585.0 395.3 L585.8 395.9 L586.7 396.5 L587.6 397.2" stroke="#8fd04f" stroke-width="5.6" fill="none" stroke-linecap="round" stroke-linejoin="round"/>
<path d="M412.0 552.0 L412.9 552.0 L413.8 552.0 L414.6 551.9 L415.5 551.9 L416.4 551.8 L417.3 551.7 L418.1 551.6 L419.0 551.4 L419.9 551.3 L420.8 551.1 L421.7 550.9 L422.5 550.7 L423.4 550.4 L424.3 550.1 L425.2 549.8 L426.0 549.5 L426.9 549.1 L427.8 548.7 L428.7 548.3 L429.6 547.9 L430.4 547.4 L431.3 547.0 L432.2 546.4 L433.1 545.9 L433.9 545.3 L434.8 544.7 L435.7 544.1 L436.6 543.5 L437.5 542.8 L438.3 542.1 L439.2 541.4 L440.1 540.7 L441.0 539.9 L441.9 539.1 L442.7 538.3 L443.6 537.4 L444.5 536.5 L445.4 535.6 L446.2 534.7 L447.1 533.8 L448.0 532.8 L448.9 531.8 L449.8 530.8 L450.6 529.7 L451.5 528.7 L452.4 527.6 L453.3 526.5 L454.1 525.3 L455.0 524.2 L455.9 523.0 L456.8 521.8 L457.7 520.5 L458.5 519.3 L459.4 518.0 L460.3 516.7 L461.2 515.4 L462.0 514.1 L462.9 512.7 L463.8 511.4 L464.7 510.0 L465.6 508.6 L466.4 507.1 L467.3 505.7 L468.2 504.2 L469.1 502.8 L469.9 501.3 L470.8 499.8 L471.7 498.2 L472.6 496.7 L473.5 495.2 L474.3 493.6 L475.2 492.0 L476.1 490.4 L477.0 488.8 L477.9 487.2 L478.7 485.6 L479.6 483.9 L480.5 482.3 L481.4 480.6 L482.2 479.0 L483.1 477.3 L484.0 475.6 L484.9 473.9 L485.8 472.2 L486.6 470.5 L487.5 468.8 L488.4 467.1 L489.3 465.4 L490.1 463.6 L491.0 461.9 L491.9 463.6 L492.8 465.4 L493.7 467.1 L494.5 468.8 L495.4 470.5 L496.3 472.2 L497.2 473.9 L498.0 475.6 L498.9 477.3 L499.8 479.0 L500.7 480.6 L501.6 482.3 L502.4 483.9 L503.3 485.6 L504.2 487.2 L505.1 488.8 L505.9 490.4 L506.8 492.0 L507.7 493.6 L508.6 495.2 L509.5 496.7 L510.3 498.2 L511.2 499.8 L512.1 501.3 L513.0 502.8 L513.8 504.2 L514.7 505.7 L515.6 507.1 L516.5 508.6 L517.4 510.0 L518.2 511.4 L519.1 512.7 L520.0 514.1 L520.9 515.4 L521.8 516.7 L522.6 518.0 L523.5 519.3 L524.4 520.5 L525.3 521.8 L526.1 523.0 L527.0 524.2 L527.9 525.3 L528.8 526.5 L529.7 527.6 L530.5 528.7 L531.4 529.7 L532.3 530.8 L533.2 531.8 L534.0 532.8 L534.9 533.8 L535.8 534.7 L536.7 535.6 L537.6 536.5 L538.4 537.4 L539.3 538.3 L540.2 539.1 L541.1 539.9 L541.9 540.7 L542.8 541.4 L543.7 542.1 L544.6 542.8 L545.5 543.5 L546.3 544.1 L547.2 544.7 L548.1 545.3 L549.0 545.9 L549.8 546.4 L550.7 547.0 L551.6 547.4 L552.5 547.9 L553.4 548.3 L554.2 548.7 L555.1 549.1 L556.0 549.5 L556.9 549.8 L557.7 550.1 L558.6 550.4 L559.5 550.7 L560.4 550.9 L561.3 551.1 L562.1 551.3 L563.0 551.4 L563.9 551.6 L564.8 551.7 L565.6 551.8 L566.5 551.9 L567.4 551.9 L568.3 552.0 L569.2 552.0 L570.0 552.0 L570.9 552.0 L571.8 552.0 L572.7 551.9 L573.6 551.9 L574.4 551.8 L575.3 551.7 L576.2 551.6 L577.1 551.4 L577.9 551.3 L578.8 551.1 L579.7 550.9 L580.6 550.7 L581.5 550.4 L582.3 550.1 L583.2 549.8 L584.1 549.5 L585.0 549.1 L585.8 548.7 L586.7 548.3 L587.6 547.9" stroke="#0a6fc0" stroke-width="5.6" fill="none" stroke-linecap="round" stroke-linejoin="round"/>
<line x1="558.5" y1="418.4" x2="583" y2="418.4" stroke="#ff1010" stroke-width="3"/>
<circle cx="570.5" cy="418.4" r="2.4" fill="#ff1010"/>
<text x="591.5" y="425.5" font-size="14">T</text>
<text x="601" y="429.2" font-size="10">0</text>
<line x1="558.5" y1="436.2" x2="583" y2="436.2" stroke="#8fd04f" stroke-width="3"/>
<circle cx="570.5" cy="436.2" r="2.4" fill="#8fd04f"/>
<text x="591.5" y="443.3" font-size="14">S</text>
<text x="601" y="447.0" font-size="10">1</text>
<line x1="558.5" y1="453.8" x2="583" y2="453.8" stroke="#0a6fc0" stroke-width="3"/>
<circle cx="570.5" cy="453.8" r="2.4" fill="#0a6fc0"/>
<text x="591.5" y="460.9" font-size="14">S</text>
<text x="601" y="464.6" font-size="10">0</text></g>
<g id="texts">
<text x="0.6" y="15.6" font-size="19.5" font-weight="bold" class="nb">a</text>
<text x="237.8" y="19.1" font-size="16" class="hv" textLength="58.2" lengthAdjust="spacingAndGlyphs">Rod cell</text>
<text x="342.4" y="15.2" font-size="19.5" font-weight="bold" class="nb">b</text>
<text x="402.7" y="37.1" font-size="18.5" font-weight="bold" fill="#6c2a98" textLength="164.2" lengthAdjust="spacingAndGlyphs">Rhodopsin protein</text>
<text x="368.6" y="65.3" font-size="17" class="hv">Light</text>
<text x="104.5" y="202" font-size="18" font-weight="bold" fill="#e46c0a" textLength="129.6" lengthAdjust="spacingAndGlyphs"><tspan font-style="italic">cis</tspan>-PSB-retinal</text>
<text x="195.8" y="229.1" font-size="17" font-weight="bold" fill="#e46c0a">C11=C12</text>
<text x="0.6" y="268.7" font-size="19.4" font-weight="bold" class="nb">c</text>
<text x="279.7" y="338.6" font-size="16" text-anchor="middle">+</text>
<text x="343" y="304.4" font-size="19" font-weight="bold" class="nb">d</text>
<text x="398" y="326" font-size="20.6">C<tspan font-size="13.5" dy="3.3">2</tspan><tspan dy="-3.3">H</tspan><tspan font-size="13.5" dy="3.3">4</tspan></text>
</g>
</svg>
</body></html>
